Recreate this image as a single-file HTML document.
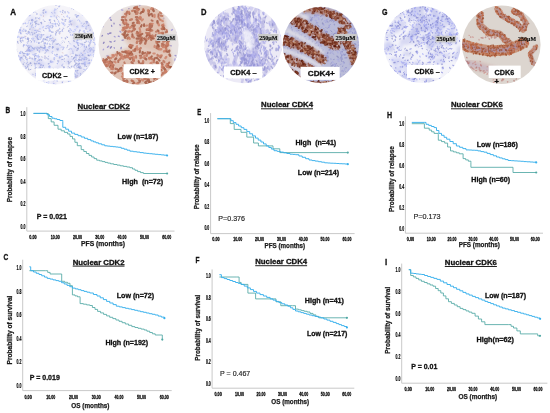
<!DOCTYPE html><html><head><meta charset="utf-8"><style>html,body{margin:0;padding:0;background:#fff;}svg{display:block;will-change:transform;}</style></head><body><svg width="550" height="413" viewBox="0 0 550 413"><defs><filter id="bl1" x="-20%" y="-20%" width="140%" height="140%"><feGaussianBlur stdDeviation="1.5"/></filter><filter id="bl2" x="-5%" y="-5%" width="110%" height="110%"><feGaussianBlur stdDeviation="0.6"/></filter></defs>
<clipPath id="cc1"><circle cx="56" cy="44.6" r="39.7"/></clipPath>
<g clip-path="url(#cc1)">
<g filter="url(#bl2)">
<rect x="13.299999999999997" y="1.8999999999999986" width="85.4" height="85.4" fill="#f5f4f9"/>
<g filter="url(#bl1)">
<path d="M77.4 65.9l1.2 3.6M21.1 59.7l0 2.6M38.5 71.3l-1.5 4.6M33.6 29.4l-1.8 1.6M41.4 46.1l-1.8 3.6M83.6 45.8l2.3 4.1M90.4 29.1l1.8 3.5M41.1 71l-4 .1M70 60.2l-3.3 2.5M84.9 55.7l2 1.9M73.4 24.5l2.9 .3M76.8 75.2l-2.4 .5M34 34.6l.5 4.2" stroke="#c0c2e8" stroke-width="3.5" stroke-linecap="round" stroke-opacity="0.4" fill="none"/>
<path d="M36.9 47.4l4.6 1.5M87.6 64l1.4 1.7M30.9 25.4l2.1 4.3M74.1 21l-2.3 2.5M19 58.4l-.2 4M30 63.7l-4.5 .6M40.4 62.4l.2 2.2M87.6 23.6l1.3 2.4M88 62l-4.5 1M33.6 61.3l2.7 1.3" stroke="#c0c2e8" stroke-width="5" stroke-linecap="round" stroke-opacity="0.4" fill="none"/>
<path d="M34.4 74.5l-3 1.2M75.8 71.7l3.5 3.4M64.2 76.6l-2.5 2.5M31.5 47.5l2.3 3.4M82.4 69.1l-1 4.2M82.8 56.1l2.3 2.3M55.7 10.8l-2.8 2.8M77 48l-4.1 1.8M75.4 48l-1.5 2.5M33.7 20.3l4.4 1.8M88.8 21.3l-.5 3.6M57.3 67.8l-2.4 .4M82.3 73.9l-.3 2.9" stroke="#c5c7ed" stroke-width="3.5" stroke-linecap="round" stroke-opacity="0.4" fill="none"/>
<path d="M82.2 23.5l2 .6M65 75.1l2.5 3M94 48.2l2.2 1.2M76.8 75.2l-1.3 2M30.9 50.3l2.2 1.1M80.7 51.2l-1.3 4.1M51.7 38l2.4 3.1M53.5 45.5l2.7 3.7M17.6 28.4l3 2.5M82.8 55.1l0 2.9" stroke="#c5c7ed" stroke-width="5" stroke-linecap="round" stroke-opacity="0.4" fill="none"/>
<path d="M53.9 60.5l-1.7 2.2M88.6 61.3l-3.9 1.9M89.8 51l3.6 2.7M88.4 48.3l-1.7 2.5M66.4 69.7l.7 4.1M76.7 55.7l-2.7 3.4M28.2 44.6l.4 2.4M38.3 37.1l-2 3.9M93.2 26.9l-4.8 1.3M32.5 43.9l-3.4 2M27.2 50.5l2.7 .4" stroke="#caccf2" stroke-width="3.5" stroke-linecap="round" stroke-opacity="0.4" fill="none"/>
<path d="M59.5 57.7l1.7 2.1M88.1 48.9l.2 2.3M53.3 82.2l1.2 4.2M91.3 52.6l-1.3 1.8M45.9 12.1l-3.6 2.5M21.3 56.6l-2.9 3.1M82.6 57.8l-.9 1.9M59.6 46l-1 3.7M46.4 49.7l3.8 1.6M74.1 39.2l.7 2.1" stroke="#caccf2" stroke-width="5" stroke-linecap="round" stroke-opacity="0.4" fill="none"/>
<path d="M38.2 31l-1.6 3M78.7 17.1l3.4 1.4M88.6 50.8l-4.7 .3M79.2 26.9l4.8 1M82.3 43l-2 2M50.6 67.4l-2.4 2.2M49.4 63.1l-3.1 .5M49.2 58.6l.6 2.3M78.7 75.6l4.7 1.4M70.8 44.2l2 .5M47.8 34.9l-3.1 3.1M44.1 63.9l2.5 3.2M79.4 65.6l1.7 1.1M48.5 24.2l2.6 2.7" stroke="#d0d2f8" stroke-width="3.5" stroke-linecap="round" stroke-opacity="0.4" fill="none"/>
<path d="M41.9 63.7l-.5 3.4M52.6 13.3l2.6 2.1M74 50.3l-3.4 1.9M76.1 29l-3.5 3.1M61.1 63.6l-1.8 2.5M32.4 17.8l-4.4 1.2M41.1 61.3l-.6 4.7M41.6 24.7l-.1 3.3M68.9 58.2l-.8 4.6" stroke="#d0d2f8" stroke-width="5" stroke-linecap="round" stroke-opacity="0.4" fill="none"/>
</g>
<path d="M24.9 55.8l-.9 .2M36.6 32.3l-.6 .3M54.8 79.9l-.9 .8M78.4 48.2l-1.3 .5M40.6 47l.6 .4M36.1 12.7l.9 .9M37.8 18.1l.8 .6M88.4 55.1l.3 .8M16.8 49.7l-.8 .6M80.2 56.9l-.4 .7M63 66.6l1.1 .6M39.6 31.2l.7 .8M21.4 42.4l-.4 .2M37.7 36.8l-.6 .3M24.5 30.9l-.5 .5M50.5 35.6l-.4 1.1M72.1 56.6l-.6 .1M28.7 50.5l-.2 .4M71.1 61.3l-.4 .8M35.9 17.4l-.1 1.4M26.6 67.8l-.9 .5M31.4 58.6l.6 .7M83 54.5l-1 .7M28.2 39.4l.4 .9M52 61.9l-.7 .2M78.9 58.9l-.3 .6M68.6 41.4l.3 .6M93.1 42.1l.2 .4M28.1 49.8l-1.1 .4M20.2 29.7l-.7 .1M17.7 42.9l.7 .2M73.8 45.9l.6 .9M64.6 58.8l-.5 .2M52.6 72.7l-.7 .3M67.7 45.5l-.2 .7M62.5 75.5l.4 .5M30.7 40.6l.7 1M43.4 65.2l.1 .7M79.7 66.4l.7 0M63.5 28.1l.2 .4M90.4 47.8l-1.2 .7M78.6 65l-1.1 .2M44.1 82.6l-0 .4M74.7 37.8l-1.4 .2M68.3 26.3l-.6 .8M36.2 36.3l-.6 0M44.3 21.2l.8 .2M56.9 18.9l.5 .6M30.9 69.4l-1.2 .4M50.6 21.9l-.1 1.1M67.3 37.1l.3 .5M53.9 59l.4 .8M86.4 46.3l.1 1.2M43.4 30.2l.7 .5M91.2 65.5l-1.2 .4M74 58.4l-.4 .2M38 50.1l-.8 .1M85.2 49.7l-.6 .8M19.2 59.7l-.2 .3M49.4 72.6l-.3 .4M85.8 57.8l.9 .1M44.1 42.8l0 1.3M38.6 80.6l-.1 1.2M62.9 59.5l-1.2 .1M96.2 37.3l-1.2 .5M44.6 72.3l1.1 .2M36.8 49l.5 .4M34.4 32.8l.4 1.1M30.4 63l-.7 .9M36.5 78.2l.1 .6M37.2 68.9l-0 .5M72 66.7l-.6 .3M36.2 67.6l-.4 .8M41.7 56.9l.5 .2M28.6 68.7l-.2 1.2M35.7 63.7l.9 .1M47.9 58.3l.2 1.1M75.1 46.8l.4 .7M16.1 51l.8 .2M25.3 66.8l.7 .6M45.8 39.7l-.9 0M42 41.2l-.6 1.1M32.5 24.7l-.6 1M85.6 28.8l1.2 .2M80.8 74.6l-.3 1.2M75.8 59.6l.9 .5M69.7 49l-.9 .4M18.7 55.9l-.4 0M45.1 38.6l.1 1.1M45.8 52.8l-1 .3M42.8 67.1l-1.1 .8M62.2 82.1l.1 .6M64 41.8l.5 .4M87.1 58.9l-.7 .4M53.2 68.2l.4 1M85.6 66.1l1 .4M87.9 33.5l-.9 .4" stroke="#8791d0" stroke-width="1.0" stroke-linecap="round" stroke-opacity="0.62" fill="none"/>
<path d="M84.9 59.4l-.9 .1M56.9 49l1 .8M57.6 60.9l1.1 .3M76.7 63.2l-.2 .5M85.5 42.2l-.8 .3M49 63.6l-.6 .3M69.4 67.8l.8 .9M73.4 8.4l.3 1M76.4 16.4l.4 .9M58.2 43.7l-1.1 .6M47.4 37.7l-.7 0M29 50.9l1.3 .3M60.1 57.7l-.7 .1M31.8 20l-.4 .2M44.1 9.8l-1 .9M41.4 22.4l.1 1.3M79.5 77.3l-.4 .4M21.2 57.4l-.6 .6M81.1 68l-.9 .1M35.7 23.2l.9 .1M75.8 54.5l-.1 1.2M47.4 49.8l.7 .7M26 30.7l-.3 .8M35.3 55.3l-.7 1.2M38.8 42.6l-.2 .7M68 68.4l-.3 .6M77.3 75.9l-.5 .2M49.1 46.4l1.1 .2M78.7 67.5l.5 .3M93.4 32.3l.2 1.3M27.2 39.1l1.1 .5M43.7 38.8l-.6 .4M28.8 47.8l-.6 .3M23.5 53.3l.3 .6M74.6 57.2l-.9 .8M22.4 52.2l0 .7M62.9 74.1l.9 .5M23.6 44.9l.1 .7M78.5 15.6l-1 .1M79.6 30.2l.4 .4M56 31.8l.5 1M28.7 38.4l-.6 .3M68.2 61.5l.6 .6M73.7 40.5l.5 .9M62.8 75.8l.7 .7M37.6 35.1l.1 .7M30.4 62.8l.5 .8M43.1 12.6l.5 .5M34.5 63.3l.5 .8M88.2 25.3l.5 0M44.4 45.3l.7 .9M88 55.2l1.3 .4M36.1 23.9l-.4 .2M59 24.8l-.3 .9M64.2 67l-.7 1M54.3 40.9l-.6 .5M28.5 31.5l-.5 .6M78.1 45l.4 .5M77 50.1l-0 .5M27.3 66l.6 1.1M79.2 59.4l-0 1M77.8 70.5l-.6 .3M65.2 38l.4 .8M45.2 42.8l.3 .5M65.9 19.6l-.8 .3M69.1 62.6l-.3 1.2M80.3 34.6l-1.3 .4M52.5 47l-.1 1M69 30.4l-.5 .8M86 21.6l1.4 .3M23.2 63.8l.1 .7M70.6 21.2l.1 .5M35.9 21.5l-1.2 .6M37.4 38.5l1 .9M39.8 67.1l.7 .3M25.6 56.6l.2 .9M27.5 54.4l-.3 .7M62.9 10.5l0 .6M75.9 63.7l-.6 1M44.5 47.4l-.5 1M17.7 41.5l-.2 .4M74.9 60.3l-.5 .6M92.3 62.9l-1 .9M93.9 32.6l-.9 1M32.5 47.8l.9 .9M57.3 54.5l-.6 0" stroke="#8791d0" stroke-width="1.3" stroke-linecap="round" stroke-opacity="0.62" fill="none"/>
<path d="M71.9 66l-.8 .5M40.5 65.3l.2 .5M63.6 16.7l.5 .3M28.7 47.2l1.2 .4M39 33.9l.1 1.1M80.4 34.5l.9 .2M40.7 22.4l-.4 .4M50.9 60.4l-.5 1.2M75.6 70.4l.3 1.3M55.1 39.4l-.1 .6M31.9 65.2l-.4 .3M23.4 29.2l.6 0M29.3 20.5l-.5 .3M27.6 26l-1.1 .6M58.1 48.2l.2 .8M30.5 23l.1 1.1M60 5.9l-1 .4M44.5 68.1l.4 .2M77.4 67.4l-.6 .6M38.6 56.5l1.1 .3M49.4 40.5l-.8 .6M44.6 56.1l.9 .1M20.7 51.6l-.5 .4M80.2 43.8l1.4 .3M35.5 67.6l-.7 .5M36.1 58.5l-.7 0M32.2 57.9l.6 1M89.7 60.4l-1.1 .1M82.4 54.8l0 .6M22.7 66.5l-.5 .3M84.5 45.9l.1 .6M82.2 43.7l.3 1.3M89.8 42.7l.7 .3M29.7 53.7l-.6 .6M83.8 50.9l.3 .9M52.7 42.2l.7 .1M40.6 46.8l-.5 1.1M55.9 44.1l.8 0M72.3 75.6l-.3 .7M33 39.5l.1 .9M23.4 59.7l.4 .4M80.2 73.3l.6 .2M71 71.6l-.7 .7M59.3 22.9l.5 .8M21.3 37.7l-.8 .9M27.3 62l0 .6M41.9 60.1l-.4 .3M46 49.6l-.3 .4M69.5 18.5l-.3 .4M85.8 70l-1 .7M84.7 72.9l-.4 .6M44.1 57.8l1 .9M52.5 37.7l-.4 .5M55 70.2l.6 .2M67.7 11.7l.1 .4M93.8 50.2l-.7 0M90.4 41.3l-.3 1.1M56.8 4.9l-1.1 .3M57.2 72.9l-.4 1.1M29 47.9l-.5 1.3M39.8 64l1.2 .3M24.4 36.8l-.5 .9M62.3 12.3l.8 .7M73.4 80l.8 1.2M21.1 40.6l-.2 .7M73.1 58.8l-0 .5M27.2 46l.6 .5M84.4 23.2l-.7 1M26.3 63.6l.7 .3M72.4 51l.9 .8M83.3 71.6l-.4 .4M32.7 74.3l.4 .1M34.7 54l-.8 .2M50.3 27.5l-.5 .6M62.6 79.1l1 .6M86.2 40.6l.5 1.2M39.7 68.7l1.3 .3M77.5 43l0 .5M54.8 12.5l.1 .6M36.1 30.2l-1.3 .3M58.2 29.5l.2 .9M48 36.8l-1.3 .3M39.6 63.3l-1.1 .1M42.4 41.1l1.1 .6M39.3 59.4l1.2 .5M62.3 42.6l-.4 .4M82.3 25.4l-.1 .9M79.4 63.1l-.5 0M68.5 66.3l-.5 .2M52.7 43.8l-.4 .3M78.2 66.5l.5 .1M30.4 46l1.3 .4M40.7 59.3l1.1 .8" stroke="#949edd" stroke-width="1.0" stroke-linecap="round" stroke-opacity="0.62" fill="none"/>
<path d="M35 47.3l-.3 1.3M55.5 23.6l0 .7M70.9 23.8l.6 1M48.5 75.5l-.9 .8M29.5 32.7l-1 .5M89.6 62.7l-.4 1M19.9 52.8l.1 .5M79.2 31.6l-.1 .6M77.8 64l.5 .3M78.7 67.4l.9 .1M28.8 41.1l-1 .8M82.7 63.7l-1.2 0M76.2 14.8l-1 .1M66 76.1l-.2 1M80.1 59.7l1 .6M28.2 64.4l.6 .5M89.7 45l-1.1 .1M52.8 46.6l.3 .6M27.8 37.7l-.4 .7M66 73.3l.5 .3M84.2 32.1l.7 .2M79.7 63.6l-.8 .3M32 19.4l.8 .9M20.2 40.2l.4 1.1M45.8 57.9l.6 0M53.1 32.1l-1.3 .2M72.7 72l.3 .5M57.3 68.9l1.3 .2M57.3 80.6l.2 .4M75.4 76.6l.7 .8M52.5 26.9l-.4 .9M30.1 15.4l-1.4 .1M66 55.1l-1.1 .2M52.1 25.4l1 .9M19 29.9l.8 .3M84.1 63.2l-1.2 .7M77.4 42.7l-.8 0M94.3 55.8l-.6 .7M60.5 31.6l-1.1 .5M62.6 29.3l-.2 .9M39.2 51.5l.4 .5M27.7 54l-.5 .5M38.1 60.1l1.3 .4M22.5 40.2l.5 .8M46.9 39.7l.2 .6M77.7 55.4l-1.4 .1M24.3 53.6l.8 .1M41 34.5l-0 .7M21.5 57.6l.6 .5M37.8 24.1l1.1 .4M57.4 63.3l-.1 .4M74.8 61.7l.4 .5M57.4 30.8l.6 .4M84.4 64.2l.7 .6M54.3 20.3l.4 1M78.1 48.2l-.1 1.3M51.6 31.7l.6 .5M40.6 74.4l-1.2 .2M62 19.2l.9 .8M62 65.1l0 .6M68.5 81.4l.1 1.2M26.4 59.2l.7 .3M33.1 33.9l-.6 .8M74.8 65.2l-.8 1M79.6 35.5l-.4 .6M38.3 47.9l1.1 .2M20.9 38.4l-.4 .4M68 56.1l.5 .7M31.8 32.4l.3 .4M95.2 37.8l-.4 .2M34.7 58l.5 .4M44.4 47.7l-.6 .3M29.6 49.8l.3 .7M32.5 19.6l-.5 1.2M20.3 32.1l.5 1.2M72.5 34.6l.2 .7M49.6 65.9l-.5 .4M70.9 81.8l-.1 .5M30.2 29l-.6 .3M55.5 33.6l.2 1.4M86.3 71.5l-.6 .4M50.6 19.9l-1.2 .1M41.7 47.3l1 .6M93 35.7l0 .7M74.9 74.2l-.9 0M74.7 74.4l.4 .1M43.8 34.7l-.9 .3M65 11.6l.1 1.2" stroke="#949edd" stroke-width="1.3" stroke-linecap="round" stroke-opacity="0.62" fill="none"/>
<path d="M23.9 62.2l.5 .2M86.1 27.7l-.5 .3M51.6 40.6l-.5 .3M78.7 64.8l1.1 .4M74.1 45.3l.7 .7M54.9 84.2l1.2 .5M31.7 38.4l.1 .6M81.1 53.2l.8 .4M90.8 50.7l-.8 .6M46.7 82.6l-.5 .2M25.7 51.4l-.7 .5M30.8 32.8l-.6 .6M66.6 36.9l1 .3M28.2 45.3l-.1 .6M75.4 75.3l-.7 .9M36.7 37.5l1.3 .2M69.8 17.6l-.8 .1M39.2 39.2l-1.3 .4M78.1 60.8l.2 .5M65.1 24.9l-.6 1M83.3 44.7l-1.2 .2M22.8 37.1l.8 .2M48.8 56.2l-.6 .3M27.2 42.8l.3 .6M64.3 61l.4 .7M23.1 55l.9 .7M89.1 49.3l-0 .7M37.3 14.3l-.8 .1M58.8 16.6l.3 .4M84.4 57.2l1 .1M52 52.5l.4 1M50.7 35.1l.5 .2M51.4 12.5l.9 .6M57.4 8.6l-.4 .3M62.9 64l-.1 .4M79.7 33.6l.6 1.1M70.5 34.5l.5 1.2M51.7 73.8l-.5 .5M37.1 49.9l.5 .6M21 27.3l-.4 .7M23.1 46.1l.3 .8M70.6 68.4l-.8 1.1M29.8 34.7l1.2 .2M27.5 50l-.6 .9M32.6 19.6l.3 .3M44.7 83.2l-.8 .7M85.2 63.5l-.2 1.4M84.6 65.6l-.1 .7M54.7 15.9l-.7 .1M90.3 50.3l-.2 1.1M47.4 25.5l.3 .4M20.4 37.7l-.5 0M67.2 47.2l-.5 .7M62.7 81.8l-.2 .8M25.1 36.1l.4 .3M31.5 41.8l-.4 .9M57.5 68.6l-.7 .9M20.9 59l-.3 .5M89 59l.1 .6M76.9 72.7l1.2 .5M47 25.5l-.7 .7M73.7 76.5l-.1 1.1M77.3 27l.9 0M76.4 26.6l.7 .2M73.9 67.1l.7 1.2M86 37.2l-.3 .8M20.3 30.2l.3 .6M36.4 20.9l.7 0M46.1 50.7l.7 .5M45 12.3l.8 .4M87.6 52l.4 .6M34.4 49.2l-.2 .6M83.8 38.6l.1 .5M34.6 55l1.1 .3M94.9 50.5l1 0M46.1 26.1l1 .4M39.8 42.5l-.6 1.1M24.6 66.1l.9 .2M26.1 57.7l-.7 .8M33 27.2l.5 .6M35.2 9.9l-.1 1M25.2 23.2l.2 .6" stroke="#a1abea" stroke-width="1.0" stroke-linecap="round" stroke-opacity="0.62" fill="none"/>
<path d="M61.5 37.7l.3 .2M63.8 22.9l0 1.1M89.5 43.7l.5 .1M53.2 40.4l-.5 .3M87 22.2l-.3 1.2M93.5 51.5l-.3 .7M49.5 19.8l.1 .7M61.4 56.1l1.3 .2M62.8 47.2l1.2 .2M26.4 45.1l.4 .3M88.6 45.7l.6 1.1M45.3 28.3l1.1 .2M87.2 68.4l-.5 .9M37.4 61.7l-.4 .1M53.2 47.3l-.3 .4M36 75.1l-.3 .4M59.1 33l.2 .4M56.2 76.8l-1.1 .3M69.8 31.8l.2 .9M38.3 76.9l-.9 1.1M45.9 50.2l.3 1M34.4 58.9l1 .6M35.6 53.6l.6 0M82.4 58.8l-1.1 .7M45.5 47.3l-.5 .7M49.5 44l.7 .6M72.7 7.9l-.8 .6M34.6 40.7l-.2 1.2M93.9 39.1l0 1.4M50.3 38.7l-.6 .2M20.7 33.4l.2 .4M49.4 67.4l-.5 .6M70.4 21.8l-1.1 .4M48.9 66.6l.8 .5M90.3 29.8l-.4 .8M40.3 37l1 .9M41.6 65l.6 .7M36.6 73.4l-1 .4M62.6 76.4l-.6 .5M59.6 28.4l.1 .7M28.1 53.8l.2 .5M41.7 34.5l.2 .5M50.6 26l-1 .7M39 63.1l-1 .6M33.8 11.8l-.1 .5M66.9 54.8l-.2 .7M37.4 30.7l1 .6M57.3 23.7l.1 .4M48.9 27.8l-1.1 0M92 48.8l-.1 1.3M68.3 72.9l-.6 .1M49.8 30.1l.5 .2M44.7 79.9l-1.3 .3M28.9 49.4l.7 1.1M50.6 61.6l-.2 .7M30 58.3l-.7 .1M59.2 6.1l-.2 .7M49 30.9l1.2 .5M17.9 31.3l1.1 .5M69.2 75.2l.3 .6M37.1 47.1l-.2 1.2M91.5 48.2l-.8 1.1M84.3 30.7l-1.1 .6M47.5 43.3l-.4 .9M72.5 53l.8 .5M44.6 47.7l0 1.2M45.8 11.3l.2 1.1M38.8 68.7l.6 .5M95.4 44.4l-.5 .3M53.7 83.3l-.1 .5M56.2 17l.4 .8M61.9 31l.7 .3M77.8 39.2l-.2 1.4M69.1 24.6l.4 .3M46.7 73.4l-1 .1M64.8 21.1l.6 .2M63.5 48.6l-.8 .9M24 23.5l-.9 .4M29 45.9l.9 .6M73.7 72.4l.7 .9M90.2 40.2l1.1 .5M70.9 81.5l.2 .7M51.9 23.7l1.3 .2M26.2 33.5l1.3 .5M41.4 36l.5 .8" stroke="#a1abea" stroke-width="1.3" stroke-linecap="round" stroke-opacity="0.62" fill="none"/>
<path d="M58.4 62.6l-.7 .8M69.8 73.4l.5 .1M40.4 49.8l-1.1 .8M81.9 57.8l.2 .4M79.7 39.4l-.6 .9M70 70.5l-1.3 .5M27.7 49.7l-.1 .5M32.5 21.8l-.2 1.3M34.7 30.3l1.2 .1M23 55.9l-.1 .5M78.3 19.5l-.6 1.1M49.3 36.9l-.4 .5M81.4 53.1l-.6 0M90.7 39.7l.6 .8M43.1 19.8l.5 .1M76.7 47.1l-.8 .2M91.7 37.8l.8 .6M36.6 31.3l-.8 .6M77.8 26l-1.1 .5M55.5 39.2l.3 1.2M71.3 73l-0 .6M76.6 65.5l-.1 1.2M74.2 31.7l-1.2 0M75.9 28.8l-.7 .8M61.6 46.7l-.6 1M81.7 23.1l-.7 0M25.6 22.7l.3 1M18.4 56.4l1.1 .5M40.2 14.9l1.2 .4M60.4 56.8l.9 1M36.2 25.7l-.7 .6M47 82.6l-.7 .6M76.6 70.8l-.7 .3M80.2 55l-.7 .9M84.3 62.7l1.4 0M29.3 31.3l.2 .8M83.9 58.2l-.4 .1M49.7 30.3l.8 .6M28.4 22.6l-.5 1M93.6 54.4l-.4 .8M67.5 15.5l-.9 .7M88.9 38.2l-.5 .2M39.4 36.6l-0 .5M19.6 53.4l.9 .1M75.8 56.6l-0 1M74.5 29.7l.8 .6M79.4 60.5l-.6 1.1M79.3 54.5l-.1 1.2M80.5 29.9l.1 .5M37.1 35.6l.1 .6M90.7 38.5l.3 .3M21.9 38.2l-.5 0M81.1 46.8l-.4 .4M84.2 46.3l-0 .5M77.7 60.1l-.6 .8M74.3 73.6l-.4 1.1M26.3 67.8l.3 .7M69.8 43.3l.6 .7M19.3 36.8l-1.1 .2M91.2 42l-.5 1M28.8 15.2l.6 .5M36.4 55.7l1.3 .4M32.8 50.2l-.9 .5M18.9 32.3l-.8 .4M84 26.4l-1 .2M58.3 49.6l-.6 .5M83.4 55.1l-.2 .5M41.4 76l-.5 1.3M50.6 66.4l-1.3 .5M48.5 81.8l.6 .2M26.2 51.5l1.3 .2M38.8 67.8l.7 0M71.7 20.7l.6 0M54.5 57.7l-.8 .1M92.4 36.3l.4 .4M62.6 40.7l-.4 .4M36.4 42.2l.6 .1M84.3 44.3l.3 .4M76.7 41.6l-.7 .2M85 61.6l-.4 .9M71.9 59.3l.6 .5M21.4 51.1l.4 .5M49.2 22.7l.3 .3M31.2 22.9l-.6 1.2M78.3 37.5l-.7 .9" stroke="#afb9f8" stroke-width="1.0" stroke-linecap="round" stroke-opacity="0.62" fill="none"/>
<path d="M70.7 48.4l1 .7M64 68.2l.1 .5M42.8 49.9l.3 .4M54.7 58l-.1 .5M28.9 49.6l.2 1.2M59.6 56.3l-.1 .8M69.7 28.5l.8 .3M39.5 28.8l.7 .1M54.9 9l.9 .8M35.3 65.1l-.1 1.3M77.1 40.2l-.3 .4M35.5 26.1l-.1 .4M68.8 12.5l.1 .6M77.9 15.6l-.6 .8M39.6 17.9l-.2 .6M53 61.8l-1.2 .2M26.4 53.6l1.2 .6M45.1 47.8l-.1 .4M44.7 43.7l.9 .2M84.5 58.3l.1 .7M38.2 57.2l.6 .8M81.1 39.3l.1 .8M70.3 81.2l-.8 .2M48.3 47.6l1.3 .5M88.6 63.1l-.6 .3M85.3 53.4l-.4 .2M54.5 10l-.1 .8M39 74.8l-.9 .3M40.5 72.6l-.2 .4M38.7 71l-.9 .4M86.6 26.4l-.5 .4M50.6 68.1l-1 .2M20 59.1l.4 1.3M25.8 30l-.6 .2M82.3 14.9l1 .5M84.8 47.5l.4 .7M38.6 55.1l-.3 .4M93.1 47.4l.5 .5M63.8 24.1l-.4 .4M30.1 57.5l-.4 .4M54.6 54.5l.8 1M95.4 38.6l.4 1M41.4 74.9l-.8 .8M40.5 39.1l-.4 .2M67.2 16.6l.5 .2M77.5 43.5l.1 .8M61.8 22.5l.8 1.1M36.8 56l.2 .9M59.4 44.7l.9 .7M55.8 80l.9 .7M19.4 27.4l.5 .1M90.2 54.6l.7 .6M34.4 59.7l.6 1M25.5 38.3l-.1 .4M44.3 69.7l-.2 1.2M58.5 21l.1 .9M48.9 28.6l.5 1.1M51.5 38.6l-1.3 .1M48.5 25.3l.3 .9M60 76.2l-.9 1M52.3 51.3l.5 .1M24.1 44.6l.6 .5M43.6 26.7l-.8 .8M55.5 25.9l.7 .4M19.9 52.5l.9 .6M83.7 69.3l1.1 .4M50.5 16.5l1.2 .1M23.4 37.6l-1.3 .5M47.7 36.9l.5 .4M70.1 20.2l-.7 1.1M91.4 59.9l.2 .8M40.5 72.4l.3 .5M70.7 29.7l.7 .8M88.2 41.1l.4 .8M32.8 54.5l.6 .5M75.8 57.9l.7 .2M31.5 26.6l-.1 .5M44.6 5.3l.2 .5M39.3 73l.2 .3M18 36.1l-.5 1.3M19.6 29.8l.7 .3M39 76.4l-.8 .5M26.8 59.8l.4 .4M55.6 23.3l-1.1 .7M87.4 31.7l.6 0M94.3 42.5l.4 .9M31.8 47.8l.4 .4M43.4 40.2l-.5 .2M91.6 35.9l.5 .4M47.7 83.1l.8 .5M91.3 64.5l-.8 .5M22.9 30.4l-.5 .6M78.6 42.6l.2 .7M28 55.2l-.7 .2M32.7 38.1l1 .4M70.3 6.2l-.4 .5M31.3 49.9l-.1 .7M79.5 20.4l.4 1.2M88.6 35.3l-.7 0M39.2 18l.5 .3M60.2 11.5l.6 .3M43.8 82.3l.9 .6M37 34.6l.7 .3M56.1 55.9l1 .5" stroke="#afb9f8" stroke-width="1.3" stroke-linecap="round" stroke-opacity="0.62" fill="none"/>
<path d="M70.8 53.8l-.3 .4M27.4 58.1l.2 .3M29.5 56.6l.5 .4M60.2 33.8l-.7 .4M39.9 19.6l-.3 .1M62 14.3l-.6 .1M91.2 37.7l.5 .4M79.7 55.8l-.3 .1" stroke="#c3a0aa" stroke-width="1.0" stroke-linecap="round" stroke-opacity="0.45" fill="none"/>
<path d="M80.4 12.2l-.3 .7M38.1 29.6l-.1 .4M56.5 30.5l-.3 .2M54.6 69.8l.3 .3M23.9 55.4l-.3 .3M43.5 15.7l0 .9M26.8 50.2l.1 .8M62.2 52.7l.9 .3M21.2 36.9l.8 .4" stroke="#c9a6b0" stroke-width="1.0" stroke-linecap="round" stroke-opacity="0.45" fill="none"/>
<path d="M89.9 44l-.3 .3M44.8 56.9l-0 .4M53.6 38.6l-.6 .2M90.9 24.5l-.2 .3M66.8 72.6l.7 .1M57.6 15.7l-.8 .3M59 75.9l0 1M26.1 36.6l-.7 .4" stroke="#d0adb7" stroke-width="1.0" stroke-linecap="round" stroke-opacity="0.45" fill="none"/>
<path d="M78.1 77.2l-.9 .1M83.3 52.3l-.4 .3M42.5 6.5l.2 .3M41.6 72.2l.9 .3M71.8 24.1l.4 .1" stroke="#d7b4be" stroke-width="1.0" stroke-linecap="round" stroke-opacity="0.45" fill="none"/>
</g>
</g>
<clipPath id="cc2"><circle cx="138.6" cy="44.8" r="40"/></clipPath>
<g clip-path="url(#cc2)">
<g filter="url(#bl2)">
<rect x="95.6" y="1.7999999999999972" width="86" height="86" fill="#e9e3e3"/>
<path d="M177.4 31.4l-.7 .5M124.2 29.5l-.3 1.2M102.5 35.5l-.6 .6M114 23.1l.1 .7M135.5 30.6l-1 .6M156.3 7.8l-.8 .1M129.2 8.6l-.6 .2M137.2 27.1l-.2 1.1M145.2 39.3l1.2 .3M164.1 31.1l-.9 .7M143.8 51.6l1.2 .5M122.4 19.4l-.3 .9M137.5 32.7l.6 .2" stroke="#7b71b5" stroke-width="1.2" stroke-linecap="round" stroke-opacity="0.8" fill="none"/>
<path d="M110.8 19.8l.4 .5M112 56.6l.4 1.2M119.9 24.7l.6 .6M153 79.6l1.2 .6M154 7.7l.4 1.4M131 74.2l-1.3 .6M110.9 32.9l-1.2 .3M120.1 54.6l-.4 .7M120.6 77.6l.3 .7M135.8 54.9l-1.6 .2M139.1 51.5l.7 .2M111.4 46.8l-1 1.2M138.1 78.2l.3 1.3M104 42.4l-.5 .7" stroke="#7b71b5" stroke-width="1.5" stroke-linecap="round" stroke-opacity="0.8" fill="none"/>
<path d="M138.6 55.5l-.6 1M156.7 35.4l1.2 .8M147.8 15.6l-.6 1.4M158.3 70.9l-.3 .5M111.5 25.4l.3 1.1M115 40.9l-.8 .5M117.7 60.6l.2 1.6M103.1 26.7l-1 .2M160.3 16.5l.4 1.1M149.9 16.6l-.5 1M158.6 44.5l.6 1.3M151.6 11.3l.4 1.3M163.4 64.3l-.4 .5" stroke="#857bbf" stroke-width="1.2" stroke-linecap="round" stroke-opacity="0.8" fill="none"/>
<path d="M129.9 23.5l-.4 1.4M125.4 61.1l-1.1 .3M157.9 13.9l1.1 .8M123.6 40.1l-1.4 .1M110 41.6l1.1 .4M123.9 67l-.2 1.1M139.5 82.5l-.8 .8M153.8 77.1l.1 1.2M163.7 18.2l-.5 1M141.3 22.1l-.8 1.1M137.1 73.8l.5 .4M159.5 71.3l-0 1.2M136.8 22.1l.5 .6M151.9 25.8l.9 .1M130.3 33.5l.1 .8M140 12.4l.8 .3M121.2 47.5l-.2 1.2M153.4 25.2l.3 1.6M108.2 55.9l-1.2 .1M158.2 66.3l-.5 .5" stroke="#857bbf" stroke-width="1.5" stroke-linecap="round" stroke-opacity="0.8" fill="none"/>
<path d="M148.2 71.4l1.1 .6M155.9 46.8l-.4 .7M114.1 47.7l.4 .5M170 45.7l1.4 .1M144.6 68.1l.3 .6M175 55.4l1 .5M121.6 68.1l-.3 .8M175.1 39.7l-.3 .6M162.4 72.7l1.2 .3M140.2 5l-.8 .8M131.4 48.9l-.4 1.2M151 70.2l-1.2 .8M112.5 56.3l.2 1.4" stroke="#8f85c9" stroke-width="1.2" stroke-linecap="round" stroke-opacity="0.8" fill="none"/>
<path d="M172.5 66.5l-.1 1.1M107.8 33.8l.6 .2M164.7 64.5l.2 1M177 57.2l-.1 .8M118.4 36.2l.7 .2M115.7 61.3l-1 .8M135.2 80.3l-.2 .6M157.9 42l-.7 .3M143 79.6l.8 .4M140.9 42.5l-.3 1.1M108.6 46.3l-1.1 1M130 25.1l.7 .3M134 25.8l.2 1.1" stroke="#8f85c9" stroke-width="1.5" stroke-linecap="round" stroke-opacity="0.8" fill="none"/>
<path d="M144.2 18.4l-.1 1M154.7 56.6l.6 .1M133.8 47l.1 1.3M103.7 49.1l-.6 .7M139.5 32.5l1.5 0M136.5 32.2l.1 .8M139.5 81.1l-.7 .6M114.3 36.4l.9 .5M150 41.6l.6 1.1M131.3 77l-.6 .9M121.5 9.9l1.3 .2M144 79.6l.7 .6M115.1 57.7l-1.2 .4M131.3 39.5l-1 1.1M117.7 65.4l1.3 .4M122.1 80.8l-.4 1.3" stroke="#998fd3" stroke-width="1.2" stroke-linecap="round" stroke-opacity="0.8" fill="none"/>
<path d="M120 31.4l.8 .6M128.6 58.4l1.2 .2M165.1 63l1.2 .2M172.4 29.6l-.9 .5M159.4 43l-.6 .1M175 59.1l-0 1.4M151.9 82.4l.9 .3M161.6 45.3l-.2 1.3M132.3 49l-.6 .3M165.1 48.3l-.4 1.4M121.6 63.7l.6 1.3M164.9 25.7l-.7 .8M154.7 36.1l-.7 .6M110.4 17.7l-1.4 .1M138.3 44.6l.7 0M138.2 20.1l.4 1.2M126.8 13.3l0 .7M171.3 36.9l-.1 .6" stroke="#998fd3" stroke-width="1.5" stroke-linecap="round" stroke-opacity="0.8" fill="none"/>
<g filter="url(#bl1)">
<path d="M124 11L135 7L150 5L160 9L165 20L168 35L170 50L173 62L171 75L160 85L120 87L103 77L99 63L108 56L120 51L130 47L124 39L121 25Z" fill="#dfc2b4" fill-opacity="1"/>
</g>
<g filter="url(#bl1)">
<path d="M124 41L138 47L152 52L165 56" fill="none" stroke="#e8d8d4" stroke-width="2.5" stroke-linecap="round" stroke-linejoin="round" stroke-opacity="0.6" />
</g>
<path d="M137.1 75.8l-.2 1.2M141.8 12.1l-1.4 1.3M137.8 75.8l1.8 .5M138.6 61.1l.5 1.5M129.9 47l1.3 .9M162.9 33.6l-.1 1.7M153.8 38.4l-1.1 .2M140 50.8l-.3 1.7M110 62.7l-1.2 1M154.6 58.2l-.6 1.8M159.1 67.4l-.1 1.8M129.4 58l.8 1.1M151.8 56.4l-.6 .8M137.1 31.9l1 1.3M167.7 64l.4 1.6M149.6 82.2l1.6 0M144.1 24.3l-.1 1.8M133.8 22.7l-1.1 .4M139.2 80.6l1 .3M137.2 7.6l.3 1.6M152.4 65.1l.3 1.8M147.1 35.1l-.7 1.6M169.5 66.6l1.3 1M138.8 9.3l-2 0M118.4 70l.3 1.2M129.3 12.7l.2 1.2M148.5 13.7l.6 1.9M134 8.3l1.4 0M156.2 81.2l1.7 .1M157.6 44.1l1 1.3M113.6 76.6l.5 1.3M130.3 52.9l-.8 1.3M151.7 13.9l-1.4 .6M158.6 59.6l1 1M147.8 67.2l-1.4 1.2M142.4 33.9l-1.7 .6M141.7 25.1l-.8 1.6M157.3 62.2l.4 1.4M143 67.6l-.3 1.8M156.1 57.8l1.5 .5M142.4 11.8l-1.3 .6M133.9 65.3l.2 1M152.5 15.2l-.1 1M157.7 30.4l.9 .7M117.3 52l.5 1.6M132.3 34.2l.3 1.7M150.2 52.5l-1.9 .3" stroke="#a0543c" stroke-width="2.0" stroke-linecap="round" stroke-opacity="0.82" fill="none"/>
<path d="M162.8 67.3l1 .3M164.4 68.7l.8 1.1M152.9 9.3l.8 1.7M125.3 51.6l1.5 .6M112.1 62.5l-.7 1.1M135.4 49l-.6 1.6M165.9 51.1l1.6 .6M125.7 31.3l-1.2 1.6M110.7 65.4l-.5 1.4M148.8 10.7l.1 1.2M146.8 29.8l1.1 0M162.7 25.7l.3 1M150.4 36l.9 .5M134 82.8l-1.3 1.5M116.1 58.4l-.8 .9M106.8 59.3l-1.5 1M135 11.2l.4 1.1M150.6 29.8l-1.3 .2M151 37.4l1.3 .1M134.8 67.2l-1.5 .8M142.7 52.1l-.2 1.6M132.3 25.6l1.9 .3M160 70l-2 .2M169.3 50.7l-.4 1M156.6 62.6l.7 1.1M138.7 38.5l-2 .1M131.2 53.1l1 1.3M137.7 35.5l1.8 .6M121.4 68.1l-1.4 .8M158.5 40.3l.6 1.3M146.3 84l1.6 .3M143.6 10.3l-.4 1.3M131.1 51.9l-1.1 1.1M142.3 65.1l-.5 1.5M157.8 45.6l1 1.1M157.4 21.2l.2 1.6M171.9 67.2l-1.7 .1M130.2 45.1l.8 .6M147.6 79.6l1.1 .2M130.9 71.9l-.8 1M141.7 75.3l.9 .8M145.5 39.9l.8 .6M111.1 62l-1 1M153.9 81.7l.3 1.9M132.9 59.8l.9 .7M127.7 34.7l-1.4 1.2M163.7 27.7l.6 1.4M110.1 61.3l1 1.2M144.8 58.2l1.4 1.1M158.4 40.8l-1 .8M149 80.9l0 1.4M169.5 54.6l.6 1.1M127.5 55.4l.1 1.6M146.5 81.5l-1.2 .9M115.6 72.6l-.9 .9M139.6 72l-.6 1M144.2 38.4l1.2 .8M130.6 68l-1 1.1M124.8 33.7l-1 1.2M124.7 36.6l.5 1.1" stroke="#a0543c" stroke-width="2.4" stroke-linecap="round" stroke-opacity="0.82" fill="none"/>
<path d="M158.6 14.3l-.1 1.4M134.9 76.1l1.3 1M123.3 20.9l-.1 1.8M126.2 68.8l-1.1 .2M128.6 55.3l-1.8 .5M145.3 52.9l-1.5 .5M126.7 80.2l.9 1.2M131.7 47l-1.3 .5M131.3 45.4l1.4 .2M125.5 19.6l.9 .7M166.9 31.8l-1.3 .4M148.3 52.8l1.1 .5M145.9 71l-1 .6M131.5 80.5l1.5 .8M157.2 79.5l.9 1.6M156 34.9l-.7 1M143.4 75.2l-1.2 .2M141.8 38.8l-1.5 .6M132.5 30.8l-.6 .8M122.1 51.7l1.4 .3M151.6 20.3l1 .5M158.1 38.8l.8 .9M118.2 60.6l.1 1.5M118.7 71.1l-1.3 .6M138.5 9.1l-.2 1.2M150.4 35.7l-.7 .8M137.3 66.1l.8 .9M128.3 24.6l-1.4 .9M139.7 82.2l-1.6 .4M167.5 41.1l1.4 .3M148.5 65.8l-1.6 0M156.6 76.3l-1.3 .7M167.2 46l-1.4 .2M123.4 23l1.3 1.3M135.6 7.1l-1.1 .3M122.3 34.2l1.7 .7M141.2 55.8l-1.4 0M149 37.3l-.3 1.4M131.2 57.6l1.2 .4M129.4 53.6l-.9 1.7M144.6 66.3l.5 .9M137.7 21.7l-.5 1.3M140.8 74.2l.3 1M169.3 62.5l-1 1.2M154.3 6l-1.2 1.4M126.3 23.5l1.1 1.3M140.9 40.6l-1.6 .5" stroke="#ae624a" stroke-width="2.0" stroke-linecap="round" stroke-opacity="0.82" fill="none"/>
<path d="M121.9 19.8l1.4 .3M149.4 28.3l-.4 1.2M126.4 27.8l-1.9 0M156.7 46.8l-0 1.3M119.3 53.3l.8 1.6M123.5 80.8l1.4 .1M161.1 56.2l-.7 1.1M161.9 63.2l.6 1.5M152 25.3l-.4 1.4M130.3 46l-1.1 .3M141.2 42.3l-1 1.1M127.6 52.9l1.2 .2M167.3 42.7l.2 1.4M106.6 65.3l1.1 .4M123.8 16.9l-1.6 .2M165.3 70.7l.2 1.7M151.5 38.5l-.3 1.2M150.3 57.9l-1.1 .2M149.7 24.7l-.1 1.6M105.3 62.5l-1.3 .1M154.9 73.7l-1.6 .1M128.7 37.6l-1.1 .8M142.7 63.6l-2 .2M115.5 68.8l1.5 .4M136.6 19.6l1.2 .6M149.3 34.8l-1.4 .1M139.6 68.6l-1.6 .4M150.5 27.1l-.3 1.1M137.5 72.8l1.1 .4M141.7 64.5l.5 1.4M164.2 28.7l-1.9 .4M133.5 27.8l1.4 1.3M139.8 34.6l.8 .8M131.6 62.3l1.1 .8M161.5 70.1l-1.2 .1M108.2 57.2l.9 .7M144.3 71.6l-1.4 .4M158.8 41l-1.3 .8M127.4 11.7l-.9 1.7M141.3 40.2l1.2 .2M140.6 37.6l1.2 .1M155.3 78.3l-.9 .5M112.7 66l.2 1.1M112.5 72.6l-1.5 .3M162.2 43.9l1.6 .8M125.4 52.1l1.4 .6M145.6 42.2l-.4 1.4M136 17.1l1.3 .2" stroke="#ae624a" stroke-width="2.4" stroke-linecap="round" stroke-opacity="0.82" fill="none"/>
<path d="M136 56l.2 1.7M139.9 18.4l.9 .9M155.7 8l1.5 .8M147.5 52l.9 1.5M133.4 10.5l-1.4 .5M146.1 71.2l-.2 1.6M123.8 56.7l1.2 1.2M157.2 31.4l-1.2 .4M103.3 58.9l.4 1.8M152.4 5.6l-.3 1.5M159.4 18.9l.8 .8M136.7 11.4l1.1 1.5M136.1 65.6l-.5 1.4M135.9 14.1l1.2 0M162.7 74.1l-1.5 1.1M156.1 41.5l.5 1.6M132 80.7l1.4 .6M126.5 82.3l.9 .8M160.6 15.7l1.9 .2M162.7 27.7l-1.2 1.1M124.3 62.4l.5 1.2M157.8 62.4l-.6 1.5M166.6 30l.5 1.8M133.5 29.1l.5 1.3M124.9 14l1.6 1M108 61.5l-1.8 .6M143.2 9l.3 1.5M133.4 24.3l1.7 .8M139.4 74.8l.8 1M158.3 16.8l.5 1.1M165.9 48.6l.8 .6M165.5 47.1l.3 1.1M146.1 32.7l1.1 1.2" stroke="#bd7159" stroke-width="2.0" stroke-linecap="round" stroke-opacity="0.82" fill="none"/>
<path d="M166.9 66.5l1.7 .7M140.7 48.1l-1.3 1.2M138.5 32.9l-1.8 .5M160.1 12.5l1 .8M131.8 19.3l-1.6 .5M157.5 68l-1 .4M157.1 47.4l1.1 1.5M157.5 54.9l.4 .9M163.5 61.1l.8 .9M133 68.9l.5 1.1M163 33l-1 0M162.5 25.2l1 .5M141.7 57.5l-1.2 .5M127.9 26.8l-1 .8M150.8 58.3l1.4 .8M149.2 65.9l1 1.3M120.8 58.3l-1.3 1.4M126.7 82.4l-.6 1.2M102.5 64.2l1.2 .1M143.1 70.4l1.7 .2M122.6 73.6l1.5 1.1M150.1 23.9l1.1 0M126.7 51.5l1 .6M152.5 35.5l-1.1 .6M113.5 65.1l-1.2 .7M143.1 61.2l-0 1.6M123.1 27.9l1 1.4M124.8 77.6l-1.5 1.2M132.1 36.6l1.8 .9M124.7 55.9l1.6 1.1M152 35.9l1.2 .7M137 6.9l-.7 1.2M161.9 45.8l1 .6M140.7 17.7l-1.5 .4M138.8 21.7l-1.3 .5M149.4 33.2l-1.8 .1M104.5 60.7l-1.8 .7M153.7 60.6l.1 1.5M152.2 30.4l-1.7 .5M167.9 44.1l.3 1.2M165.1 40.9l-1.8 .6M126.8 74.7l.7 .9M138.1 22.4l1.2 .7M104.7 65l1.6 .9M131.2 74.9l1.3 1M131.5 54.5l-.9 .6M133.3 50.5l1.9 .1M137.2 41.5l-.4 1.3M111.7 68.9l1.2 .1M165.8 45.6l.5 1.4M160.8 69.8l-1.6 .1M146.7 54.3l-0 1.4M145.7 78.8l-1.5 .3M162.8 72.9l1.1 .1" stroke="#bd7159" stroke-width="2.4" stroke-linecap="round" stroke-opacity="0.82" fill="none"/>
<path d="M108.1 61.6l-1.3 .8M127.3 25.8l1 .6M154.7 45.7l-.3 1.3M141.7 79.6l1.4 1.1M141.6 72l1.3 1.4M147.1 25.6l-1.1 .2M136.7 76.4l.2 1.6M163.5 24.3l-1.2 .9M165.9 65.6l1.1 1.3M125.9 16.5l-.8 1.3M152.1 69.3l-1.4 1.4M112.2 55l1.7 0M161.4 20.4l1.5 .8M122 55.8l-1 .4M136.8 9.7l1.3 .3M128.4 57.2l1.1 .4M120.4 53.9l1.6 .9M148.4 70l-1.3 1.4M146.2 38.5l1.7 .3M156.5 80.8l-1.1 1.2M129.9 45.3l1.1 .4M137.1 46l-.8 1.3M165.1 70.8l1.5 1M114.2 61.5l1.4 .9M134.2 76.2l1.6 .5M166.6 63.8l1.2 .5M164.8 47l-1.8 .2M129.8 31l-1.5 1M160.3 32.9l-1.7 .1M139.5 28.1l.5 1.6M152.8 23.7l-1 .2M137.1 48.6l.7 1.1M153.3 53.4l1.5 .1M143 19.3l-1.2 1.3M137.6 47.7l-.8 1M107.6 64l-0 1.7M121.8 76.4l.8 .8" stroke="#cc8068" stroke-width="2.0" stroke-linecap="round" stroke-opacity="0.82" fill="none"/>
<path d="M116 54.6l.7 .9M159.4 49.2l1.9 .1M123.3 74.4l.3 1.3M161.7 55.4l-1.9 .5M123.1 73.5l1.5 .9M111 58.1l-1 .3M113.8 56.1l-1 .6M140.2 17l-.5 1.4M154.5 15l-0 1.8M133.4 56.7l.9 1.1M125.1 27.6l.7 .8M151.9 74.6l-.8 .9M136.3 83.6l1.4 0M148.5 28.8l-1.1 .7M156.7 65.2l-.9 1.2M148.7 76.5l-1 .2M127.7 55l-.3 1.8M111.1 67.1l.3 1.8M132.6 69.2l-1.6 .2M131.5 74.2l-1.3 1.4M123.6 29.8l-1.1 .4M149 58l.5 1M160.6 66.8l-1.1 .4M141.8 67.7l-1.2 1.5M128.9 11.9l-.4 1.2M128.7 38.1l1 .7M111.1 64l1 .4M166.2 71.4l-1.4 .4M126.2 22.5l-1.5 .2M151.7 62.7l-1.2 .6M129.9 68.4l-1.1 1.1M128.4 51.3l1.6 .3M155.1 70.3l-1.6 1M110.5 62.8l-1.6 0M126.7 72.8l-.9 1.2M138.3 78.8l1 .4M121.7 69.7l-.7 1.2M122.1 57.1l.9 1.7M140.2 31.4l-0 1.3M144.5 55.6l-.3 1.9M152 8.5l-.9 .5M158.4 24.1l.6 1.2M165.2 50.7l-1.2 .7M166.2 57l-.8 1.1M124.5 65.2l-1.1 .4M129.9 31.4l-1.8 0M139.2 74l.8 .9M159.1 70.4l1.1 .4M131 27l-1.1 .9M133.3 59.5l.4 1.3M148 10.4l.6 1.7M162.1 66.2l.2 1.5M128.5 71.5l-.3 1.8M168 43.2l-1.4 1.1" stroke="#cc8068" stroke-width="2.4" stroke-linecap="round" stroke-opacity="0.82" fill="none"/>
</g>
</g>
<clipPath id="cc3"><circle cx="243.1" cy="44.4" r="38.8"/></clipPath>
<g clip-path="url(#cc3)">
<g filter="url(#bl2)">
<rect x="201.3" y="2.6000000000000014" width="83.6" height="83.6" fill="#eceaf6"/>
<path d="M232.5 26.4l-.1 3.6M237.9 16.9l.6 3.1M242.4 38.3l.4 6.1M214 40.8l1.7 6.9M241.7 4.2l-1.9 5M240.4 53.3l.2 5M256.4 38.9l-1.7 5.5M244.8 55l-1 4.5M222.4 40.3l2.1 5.2M223.3 27.5l-.1 4.5M222.6 18.8l-2.6 5.7M259.8 29l.2 6.4M238.1 36.5l.4 4.6M230.3 35.7l.6 4.6M243.5 67.7l-.6 3.6M267.6 51.4l.3 3.2M250.9 56.3l1 4.7M247.7 32.5l1.6 7.1M233.1 7.2l.2 4.5M240.7 53.3l1.7 6.5M256.6 64.6l-1.4 3.5M267.5 30.1l1.4 3.1M264.9 66.9l1.8 4.8M259.3 65.9l-2.9 7.4M218.9 16.8l.6 6.3M218.4 41.6l.1 3.7M249.4 12.5l-2.4 5.2" stroke="#a2a0d8" stroke-width="2.5" stroke-linecap="round" stroke-opacity="0.45" fill="none"/>
<path d="M266.3 55.7l-1.5 4.9M218.7 20l-.8 3.1M253.2 33.7l2.7 6.6M261.9 62.7l-1.4 7.5M218.1 39.9l.9 5.9M222.3 43.3l.3 5.7M256.8 41.7l1.4 3.5M261.7 22.4l1.5 3.9M245 9.9l.9 3M236.3 57l-2.3 6.3M253 47.9l-1.3 2.8M256.4 42.6l.7 3M257.8 68.2l-.1 3.5M220.5 27.8l-.3 5.6M274 24l1.8 5M223.5 17.7l1.7 6.5M245.2 14.5l.6 3.9M275.4 63.9l-0 6.5M249 25.5l.3 5.3M237.5 36.5l-2.7 5.7M213.9 63.2l1.7 4.4M258.4 63.4l.3 4.1M255.6 42l.9 6.7M234.6 35.5l-2.1 5.2" stroke="#a2a0d8" stroke-width="3.5" stroke-linecap="round" stroke-opacity="0.45" fill="none"/>
<path d="M258 66.8l-.5 4M243.7 75.4l-1.6 6.7M251 67.5l1.5 3.9M253.5 62.4l1.3 4.4M213.5 35.6l1.6 3.7M236.2 37.4l-.4 3.8M242.6 73l-1.1 5.4M221.1 43.9l.4 5.3M260.9 31.8l-2.8 6.4M257.7 26.8l-.9 6.7M221.2 52.4l-.6 6.4M225.2 13.4l-.2 3.2M213.2 27.1l2.6 7.1M256.9 51.9l-.9 3.6M224.6 41.2l1.7 7.7M261.4 35l-.8 3.2M254.3 68.2l-.8 6.7M210.2 39.1l-.5 5.3M252.4 26.8l2.9 7.5M249.7 54.7l-.4 3.9M238.8 12.9l-1.7 4.9M252.8 49.7l1.3 4.2M226.9 35.5l.7 3.4M242.6 49.7l-.3 5.1M251.6 39.5l1 4.3" stroke="#a8a6de" stroke-width="2.5" stroke-linecap="round" stroke-opacity="0.45" fill="none"/>
<path d="M257.7 55l2.4 6.1M242.2 20.1l.3 6.1M223.8 28.1l-2 4.8M243.9 55.4l.1 7.8M263.9 18.6l-.6 4.4M219.9 24.5l-.6 5.4M211.4 59.9l-1.2 4.2M236.3 14.9l.6 4.5M235.7 28.5l1.3 7.3M240.5 14.3l-.7 6.2M250.7 43.2l.8 3.3M247.9 65l.3 5.1M214.3 50.5l2.1 6.5M262 31.4l1.2 4.5M270.2 22.5l1.5 4.4M266.1 68.7l-1.8 7.6M256.7 8l-2.7 5.7M207.5 55.7l1.8 5.2" stroke="#a8a6de" stroke-width="3.5" stroke-linecap="round" stroke-opacity="0.45" fill="none"/>
<path d="M227.3 19l.2 5.3M259.5 8.2l-.8 5.7M222.7 31.6l-.6 3.5M245.1 58.5l.4 5.1M272.4 20.5l1.4 3.6M255.6 51.5l-1.4 3.2M239 29.4l-1.6 7.8M246.5 18.3l1.4 7.3M228.5 59l-.7 6.2M246.2 34.3l1.8 6.1M261.8 42.3l-1.3 5.6M207.8 49.2l-2 6.9M239.4 18.9l-1.8 7.7M259.1 17l.7 5.7M211.6 16.8l2.7 5.9M246.9 50.9l.2 7M243.6 7.5l2.3 5.7M249.4 29.4l-2.1 7.4M237.3 18.4l1.2 7.3M218.5 47.6l-2 4.6M245.9 26.1l.4 4.6M239.9 13.2l2 6.7M213.3 48.7l-2.3 4.9M239 16.9l.1 3.9" stroke="#afade5" stroke-width="2.5" stroke-linecap="round" stroke-opacity="0.45" fill="none"/>
<path d="M247.9 29l-1.9 6.7M234.4 19.6l1.9 7.3M218.7 57.6l1.7 4.2M240.4 44.1l-.2 4.4M268.9 63.2l.6 5.4M254.2 48.7l-.1 6.5M225.6 56.5l-2.2 6.2M216.5 30.7l-.7 2.9M272.9 17.9l.8 6M240 29.1l-.1 3.9M249.9 62.5l-.4 3.7M254.7 68.4l.2 3.7M234.2 25.2l.8 5M257.8 77.2l.6 6.3M248.7 73.4l-1.1 7.6M244.3 46.7l-.7 4.1M260.7 61.3l-.4 5.9M227.3 14.3l.1 5.4M250 71.1l-.8 4.1M231 24.9l-.1 6.3M241.8 32.5l.9 4.6M235.5 26.1l1 6.4M250 49.5l-1.3 6.3M216.5 35.5l-1.2 3.8M254.2 63.1l-2.4 7.6M257.5 44.5l-.7 7.3" stroke="#afade5" stroke-width="3.5" stroke-linecap="round" stroke-opacity="0.45" fill="none"/>
<path d="M235.9 62.7l2.7 6.1M233.3 62.3l.7 4.6M229.4 73.6l-1.2 2.9M247.4 61.2l-2.2 6.7M250.8 31.2l-2.8 6.2M230.8 23.8l-.3 4.5M252.6 45.1l1.3 3.1M274 17.8l-.2 5.7M251 38.8l-.4 4.3M253.3 52.5l-2 4.9M249.3 61.8l.1 4.6M253.4 24.9l2.6 6.6M228 31.6l.1 6.6M252.9 39.1l-.7 3.1M246.8 40.4l-1.1 5.2M248.9 19.1l.3 6.5M262.4 26.3l2.8 7.5M235.1 57.5l-1.7 5.2M266.2 30.9l-2.6 7.2M254.9 54.4l-1.1 3.5M221.1 13.8l1.6 6.6M262.4 60.3l.9 3M219.9 67.7l-1.5 4.5M227.9 27.3l-1.4 5.6M248 33.3l-.4 5.8M255.9 17l0 5.7M212.1 51.5l-.4 3.5" stroke="#b6b4ec" stroke-width="2.5" stroke-linecap="round" stroke-opacity="0.45" fill="none"/>
<path d="M263.2 37.5l1.3 5.1M258.8 25.6l-1.3 6M249.9 72.8l-2.6 7M252.4 54.7l-.4 5.6M219 28.2l2.3 7.4M234.7 63.6l-.2 7.9M266.3 51.4l-1.4 4.2M254.7 19.9l.9 5M219.7 20.9l1 5.3M252.9 4.1l-1.7 4.9M237.1 22.7l.8 4.9M235.6 12.4l.8 3M221 32.8l1.3 3.3M243 16.9l.6 4.9M241.5 17.8l.1 3.7M230.3 65.4l1.2 4.5M242.3 17.6l.6 4.1M214 67l-.6 4M257.8 36.4l-.1 3.4M249.1 17.1l-.8 7.8M246.8 58.7l-1.9 4.1M256.8 54.6l-2.4 5.4M254.6 65.2l1.8 4.8M229.5 65.7l-1.2 2.8M248.2 24.1l.4 4.1M223.9 66.2l.7 5.5M244.6 35.5l1.4 3.8M212.5 21.4l-1 3.4M218.8 35.1l1.2 4.6" stroke="#b6b4ec" stroke-width="3.5" stroke-linecap="round" stroke-opacity="0.45" fill="none"/>
<path d="M213.9 20.6l-.1 1.5M206.6 40.1l-.4 .9M270 44.5l0 2.1M227.9 25.4l1.4 2.1M257 45.5l-0 .9M240.5 45l1.2 2M231.8 13.2l.5 1.6M255.1 80l-.5 .7M225.8 27.2l-1.1 1.7M258.4 40.4l-.3 1.6M256.1 60l.5 2M240.3 61.3l.5 .9M229.9 20.5l.4 1.8M260.2 28.8l.5 1.2M222.5 58.9l.7 1M257.4 64.9l.5 1.4M242.1 12.4l-1.4 2M240 20.7l-.4 1.4M235.6 68.3l.5 .9M218.1 50.2l1.2 2.2M245.5 45l.2 1.8M256 18.8l1 1.8M212.2 46.2l.2 .8M239.4 7.3l-.3 2.3M247 26.1l.6 1.4M252 43.1l-.9 1.5M243.7 19.6l-.4 .5M226.9 18.1l-.3 1M251.3 40.6l-.1 1.5M251.9 24.2l.2 1.2M247.8 35l-.4 1M213.2 23l-.2 1.7M234.4 29.7l.2 .9M263 58.6l-1.4 2M246.2 66.3l-.3 .4M247.7 10.4l-.3 1.6M251.5 61.6l-.6 2.4M265.2 63.1l-.5 1M272.5 42l.1 .7M238.4 6.3l0 2.2M260.4 50.8l.3 .8M261.6 52.8l-.4 1.5M253.2 15.7l.5 1.8M242.4 18.8l-1.3 2.1M248.8 61.4l-.3 1.7M256.8 60.7l.5 1M260 69.5l.3 1.5M238 49.2l.7 1.5M247.3 65.6l.9 1.4M225.3 40.8l-0 2.1M273 30.7l.5 .7M233.4 11.6l-.3 1.5M235.4 70l-0 .6M225.9 50.7l.3 .6M235.9 14.6l.6 2.1M238.9 28.3l-.2 .8M251.1 38.1l-.8 1.3M262.6 68.4l-.1 2.3M222.5 33.1l.3 .7M253.7 33.5l.9 1.7M261.3 57.1l-.2 .5M235.6 18.8l.9 1.7M242 19.9l-.3 1.7M276.6 56.1l-.1 .7M264 20.7l.6 1.8M216.3 41.3l.3 .7M266.8 22.6l.3 .8M261.2 27.9l-.3 1.4M244.6 23l.3 1.6M250.5 16.1l-.9 1.8M212.4 26.9l.8 1.7M233.6 53.5l-.2 .7M226.5 28l-.8 2.2M248.1 11.6l.2 .8M217.3 46.6l-.2 .8M241.3 22.7l-.4 2.1M244.8 41.4l.6 1M255.4 47.7l.4 .6M261.8 35.9l-.3 .4M245.5 73.2l-.5 2.3M221.5 41.9l-.1 1.7M262.5 75.9l-.3 1.6M221.8 25.5l.1 .5M251.3 36.4l-1.1 2M258 25.7l.5 .8M249.7 68.9l.8 1.3M221.5 20.3l.2 .6M235.9 9.8l.5 1.2M215.9 29.5l-.3 1.1M223.4 75.7l.7 1.3M216.5 54.1l.4 .8M244.1 38.8l-.4 1.1M258.7 47.5l.1 1.2M240.2 64.9l1.3 2.1M250.2 27.2l-.5 .7M217.9 72.5l-.7 1.8M232.5 49l-.9 1.6M210.2 49.5l-.6 1M249.6 30.5l.6 .9M237.9 52.1l.1 1.1M236.6 41.8l.5 1.4M272.4 56.6l-.6 1.5M256.7 66.9l-.7 1.2" stroke="#8080c6" stroke-width="1.1" stroke-linecap="round" stroke-opacity="0.6" fill="none"/>
<path d="M225.5 28.8l-.5 2M214.2 21l.4 2.4M253.2 59.5l-.8 1.1M243.2 74.8l.1 1.4M271.3 66.4l1.3 1.9M242.1 13.5l.3 .9M278.6 48l-.4 2.4M251.9 37.6l-.2 .6M276.2 30.7l.1 2.1M264.6 67.1l-.1 2.3M247.8 55.3l-.1 1M239.9 19.7l-.2 .5M270.6 45.4l.1 1.4M270 58.5l.6 .9M226.1 48.7l.4 1M212 52.2l.8 2.2M240.7 27.6l.1 .7M247.7 41.3l-.7 1.1M210.9 51.6l-.4 1M253.3 29.7l.2 1.2M246 62.5l1.1 1.7M226.8 53.7l.9 1.6M258.2 42.3l1 1.6M208.8 23.8l.3 .7M236.1 31.4l-.7 1.5M218.9 13.9l-.2 1M241 11.2l.2 .8M225.4 18.4l.3 1.6M215.2 65.6l.6 1.6M251.2 29l.5 1.5M257.5 45l-.2 1.9M246.3 47.8l-.6 1.4M220.5 29.9l.4 1.2M237.9 53.7l.2 2M242.1 10.8l-.7 2.1M233.6 18.7l-.9 1.8M260.1 72.2l.7 2.3M244.7 63l-0 .6M243.6 53.3l.1 .7M232.8 68l.7 2.1M245.7 79.3l.4 .9M216.2 56.5l-.2 .6M272.4 24l.1 1.8M240.5 73.2l.8 1.4M242.5 20.8l-.2 2.2M240.2 50.8l-.7 1.5M240.2 41l1.3 2M268.6 57.1l.1 1.3M245.2 62.3l-.4 1.8M251.5 64.3l-.8 1.9M245.5 59l-1 1.7M203.9 40.6l.1 1.3M248 39.7l.9 1.9M248.8 14l1.2 1.8M238.3 15.9l.7 1.5M245.3 54.8l-.8 1.2M277.6 59.7l-1 1.6M246.6 59.3l-0 1.6M262 72.5l-1.1 2M240.7 31.9l.9 1.5M266 16.1l-.8 1.5M252.9 44l.4 .8M254.4 64.4l-1 2.3M236.1 47.9l.7 2M243.9 58l.1 1.4M242.1 61.5l-1 1.7M248.7 81.8l-.3 1M252.9 48.3l.1 .6M262.4 68.1l1.3 2M240 51.9l.2 .9M249.5 66.1l.1 .6M220.6 75.7l-.3 1M230.9 31.8l.1 1.7M261.4 73.1l.2 .8M237.2 47l-.7 2M225.9 46.9l-.5 .8M250.2 12.1l-.2 2.1M252.6 62.2l.1 1.2M232.1 21.5l-.5 .8M253.1 59l.4 1M232.7 33.1l.1 1.2M218.9 38.6l-0 1.5M219 31.5l-.4 1.4M260.1 43.2l-1.2 1.9M258.2 23.5l.7 1.5M272.5 47.8l-.6 1M230.6 30.5l.7 1.8M276.2 48.3l-.2 2.1M270.1 49.6l0 1.1M233.6 8.9l1.3 2.1" stroke="#8080c6" stroke-width="1.5" stroke-linecap="round" stroke-opacity="0.6" fill="none"/>
<path d="M264.9 49.5l-.6 1M214 55.9l0 .8M211.6 40.5l-1 2.1M228.2 31.7l-.5 2.2M248 54.1l.2 .9M270.2 32.8l-1 1.5M222.8 67.9l.1 .9M221 53.7l-.7 2.3M239 46.7l1.3 2M246.1 71.8l.7 1.8M219.5 43.5l.3 .9M274.1 29.5l.8 1.5M218.6 41.8l.7 1.4M255.9 27.6l-.7 2.3M242 57.5l-.2 .9M226.5 32.1l-.5 1.5M253.7 16.9l-.1 .5M209.2 59.1l-.5 2.2M253.1 31.6l.2 1.1M255.9 46.4l-.4 .6M224.7 50.3l-.4 .6M248.2 60.3l-.3 1.3M263.8 46.7l.3 1.9M214.5 55.8l1 1.7M226.1 65.4l.5 1.5M239.5 19l0 .7M211.9 39.8l-.7 1.3M228.5 30.1l-.2 1.3M239.3 40.7l.6 .9M228.4 18.5l-0 .8M221.7 20.4l-.9 1.6M256 39.5l.4 1.5M247.4 49.7l-.1 1.3M261 33l.2 .9M253.3 17.1l.7 1.3M255 30.2l.1 2.3M220.6 24.5l-.1 .5M246.9 16.1l.5 1.1M242.2 20.9l.4 1.3M221.7 69.2l.1 .5M239.6 43.6l.9 2M213.6 45.1l-.1 .7M239.3 17.9l.3 1.8M221.6 45.8l.1 2.1M218.5 59.7l.7 1M254.2 55.6l1 1.9M258 38.9l.9 1.2M240.1 47.5l-.3 .4M256.7 39.1l-.4 1.1M243.6 45.8l-.4 1.2M245.5 42.8l.2 .7M250.6 55.1l-.7 1.6M253 63.7l.2 1.8M228.6 38.1l-1.1 1.7M245.7 73.8l.2 1.8M222.5 44l.9 2.1M275.8 40.8l.6 1.7M222 63.6l-.5 2.4M235.3 37.2l.4 2.2M230.3 23.1l-.1 .7M267.5 59.9l.6 2.1" stroke="#8d8dd3" stroke-width="1.1" stroke-linecap="round" stroke-opacity="0.6" fill="none"/>
<path d="M259.4 44.3l-.3 .8M213.6 34.7l-0 1M243.1 57.3l-1.2 2.1M220 45.8l-.5 1M247.4 24.5l.4 2.4M219.1 60.4l-.6 .9M224.5 16.9l-.8 1.8M213 42.5l.5 2M238.1 19l-.9 1.6M234.9 50.8l-.4 .5M204 48.2l.3 2.2M224.2 31.7l.6 1.8M218 22.2l-.2 1.5M257.9 78.2l.6 1.4M246.3 14.1l-.3 1.2M249.7 54.8l-.6 2M273.3 62.2l.5 2.3M239.5 27.2l-.6 1.1M237.6 45.9l-.8 1.8M213 45.1l.4 1.8M241 63.4l-.4 .6M238.4 5.2l.3 1.8M250.9 72l.6 1.7M223.5 43.5l.9 1.4M208.8 45.7l-.3 .6M253.2 76.6l.1 1.6M237.4 22.5l-1.4 2M262.9 12.8l.6 1.8M278.4 45.5l1 2.1M252.8 57.1l.1 .7M248.8 15.3l-.5 1.8M254.2 28.8l.5 .8M251.6 25.5l-.6 1.6M261.6 34.1l.6 1M219.4 40.9l-.9 1.9M265.5 51.9l-1.1 2.1M217.1 53l0 2.5M245.6 48.4l-.4 .7M252.6 13.1l.4 2.1M226.8 25.5l-0 .9M212.5 24.4l-.2 .9M244.7 23.5l0 2.1M241.9 62.1l-.6 1.2M238 16.2l-.6 1.2M251.4 79.1l-.1 1.1M208.3 50.8l.2 1M211.7 57.8l-.8 1.5M236.5 21.9l-0 .8M245.7 67.6l.2 1.4M217.6 39.8l-1 1.8M246.7 70.8l-.1 2.1M254.9 37.1l-.1 .8M241.8 16.5l-.3 .9M249.4 50l0 .7M265.8 59.6l-.2 .7M241.5 47.3l.4 1.2M253.4 11.9l.7 2M253.6 65.5l1.1 2.2M253.2 26.6l-.4 .9M273 59.5l-.6 1.5M241.7 22.5l1 2.1M262.5 64l-0 .9M272.2 59.3l-.4 2.2M242.7 73.4l-.5 1.4M219.8 37.9l-.8 1.4M241.7 58.6l-.1 1.5M256 68.7l-.5 2.1M255.7 19.7l.1 1.4M250.2 80.7l.9 1.6M260.2 17.3l.6 1.8M266.3 54.9l-.3 2M257.9 80.2l1 1.6M234.2 28.4l.2 2.3M221.8 68.9l.6 1.6M237.9 68.3l.1 .9M273.8 41.8l-.2 2.5M234.2 26.2l.6 1.2M223.6 66.9l.9 1.2M238.6 69.8l-.8 1.4M271.1 29.7l-.1 .5M212.7 32.8l-.1 1.7M212.3 57.1l.8 1.4M256.3 40.3l-.3 1.4M267.9 66.6l-.7 1.8M255.6 18.9l-.1 2.1M241.6 9.9l-.4 1.3M224.6 36.9l-.7 1.5M242.1 26.2l.2 1.3" stroke="#8d8dd3" stroke-width="1.5" stroke-linecap="round" stroke-opacity="0.6" fill="none"/>
<path d="M265 62l-.7 1.2M257.3 64.1l.2 .7M249 47.8l.4 1.4M262.6 40.5l1.2 1.9M235.7 25.1l-.2 .6M216.7 72.8l.3 2.4M255.9 53.8l-.2 1.7M241.5 37.8l-.5 1.4M250.3 65.8l.9 1.7M240.8 41.9l-.4 1.1M253.6 37.2l.1 .6M252.5 32.8l.5 1.7M238.6 22.6l.5 2.2M242.2 22.4l.1 .6M268.9 68.1l.4 2M246.2 52.8l.7 1.2M243.3 14.9l-.8 1.5M237.5 26.3l.5 .7M220.8 44.2l-.5 1.2M252.1 32.2l.5 1.6M222.4 62.1l-1.1 1.7M258.2 67.4l-.4 .6M247.7 23.1l-.6 1.7M247 17.3l-.1 1M254 66.6l.6 1.1M236.2 38l-.9 1.4M239.1 42.6l.9 1.4M277.6 49.2l-.9 1.6M242.5 43.5l-1 2M249.8 35.2l.2 2.1M259.2 72.8l-.1 .7M216.4 31.3l.7 1.3M223.5 29.8l.2 .9M243.1 58.7l-.1 1.9M264.3 42.7l-.3 .8M277.6 48.9l-.7 1.2M224.5 35.2l-.4 1.6M249 49.7l.4 .6M256.5 39.6l0 1.9M220.9 15l-.2 1.8M263.9 45.8l.3 1.5M262.8 57l.1 1.3M261.2 30.1l-.4 2.2M258.4 67.5l-.1 1.8M265.4 48.3l-.3 .6M218.3 44.3l.3 .6M231.7 76.6l.5 1.6M241.8 4.4l.1 1.4M237.8 10.5l-.7 1.5M253.7 51.4l-.2 1.4M227.7 15l.7 1.3M236.2 12.6l-.1 .7M247.3 14.8l0 .8M212.1 35.8l0 .8M243.2 4.4l-.4 1.3M229.3 35.2l.3 1.6M276.1 34.9l-.3 2M243.8 41l.2 1.1M249.5 40.5l-.5 .9M243.9 8.3l.8 1.5M276.7 62.5l-.2 1.2M266.4 51.2l-.6 2.3M224.4 48.5l.4 .9M260.1 52.5l-.2 .6M238.3 11.9l-.5 1.6M216.4 60.2l.2 .5M245 10.7l-.2 2.1M219.9 28.3l-.4 .8M241.3 57.8l.7 2.3M258.6 54.6l0 1M234.4 61.1l-0 1M224.5 61.7l-.4 1.8M211.7 43.6l-.3 .6M221.5 55.2l-.2 1.8M232.7 24.8l.5 1.9M212.4 45.1l.7 1.2M264.5 68.7l-.8 1.8M262.1 45.6l-.7 2M263.8 58.1l.4 .8M266.7 50.2l-.9 1.5M241.5 29.5l.2 1.2M236.5 28.8l.2 .6M249.4 7.7l.2 .6M251.7 64.9l-.7 2.3M227.3 28.8l.4 1.6" stroke="#9a9ae0" stroke-width="1.1" stroke-linecap="round" stroke-opacity="0.6" fill="none"/>
<path d="M234.3 39.3l.4 1.1M256.2 34.3l.2 2M238.5 16.1l.8 2M226 33.1l-.2 .5M255.6 67l.3 1.9M214.9 41.7l1.1 1.8M244.3 56l-.3 2.4M248.8 28.4l-.2 .7M226.4 35.6l.3 .9M240.3 46.7l-.3 2M233.9 55.5l.4 .9M235.2 18.9l.7 1.1M266.1 53.2l.4 1.5M226.3 39.3l-.3 .6M243.9 49.3l-.1 .8M231.9 29.6l-.2 2M256.6 25.5l.4 .7M230 31.4l.4 1.7M253.7 65.5l.5 1.8M214.9 49.1l.2 1.3M212.3 43.3l-0 1.7M237.9 48.7l-.2 1.1M251 37.4l-0 .8M245.9 7.5l.6 1.1M239.7 64.8l-.7 1.8M222.9 32.1l-.3 2.1M222.3 28.1l-.2 1M228.6 33.9l.9 1.7M250.6 65.7l-.6 1.3M252.2 69.2l.6 2M257 40.4l.7 1M248.3 23.8l-1.2 1.9M226.2 62l-.6 .9M255.8 29.1l.4 2.4M256.7 72.3l-.2 1.5M265.8 39.3l-.1 1.8M257.1 63.5l1 2M239.8 34.3l0 1.6M238.2 9.6l.5 1.6M234.2 5.4l-1.2 1.8M251.6 54.4l-.3 1.5M239.5 32.4l.2 2.3M234 71.5l0 .7M248.2 46.9l-.2 .5M245.4 46.9l-.3 2.3M237.6 8.6l.6 1.4M204.9 51.5l-.2 .6M249.6 58.6l-.5 2M241.1 58.2l-.3 .8M225.6 8.8l-.6 1M237.3 51.9l.2 2M271.2 54.4l.9 2M263.1 64.9l-.1 .5M220.7 38.2l.3 .8M244.2 65.8l-.2 1.6M239.3 17.9l-.4 1.3M245.9 4.5l-.7 1.7M247.6 70.4l-.4 .9M219.3 52.1l.8 2.3M265.7 47.5l-.5 1.1M264.5 75l.8 1.5M256.7 26.7l.3 .8M250.8 82.2l-.5 1.4M260.5 49.2l-0 1.1M260 61.9l.4 1.3M250 80.6l-.9 1.3M250.2 42l.5 .7M241.2 14.9l1 2.2M242.1 6.4l.7 1.5M258.8 14.7l-.4 1M234 12.8l.4 .6M244.6 23.5l.5 2M204.9 37.6l.2 1.2M221.9 57.8l-.6 .9M232 75.1l.8 1.8M228.2 46l-.3 1.2M235.8 16.3l-.2 .9" stroke="#9a9ae0" stroke-width="1.5" stroke-linecap="round" stroke-opacity="0.6" fill="none"/>
<path d="M219.3 66.5l.8 1.4M245.5 68l-.5 .7M208.3 41.2l.3 .7M217.3 20.4l-.6 1.1M254.2 21.9l-.3 .5M257.3 30.7l-.2 1.7M234.7 10.7l-.4 1.7M217.4 27.2l.9 1.3M218.2 28.8l-.4 1.2M249 38.2l.6 1.3M239.4 11l.2 2.4M231.8 22.7l.3 .8M280.2 31.1l.1 1.2M269 33.9l.4 .7M217.3 31.6l-.3 .6M249.6 48.5l-.3 2.5M262.6 69.2l-1.2 1.8M249.5 51.1l.7 1M239 14.7l-0 .7M239 7.6l.1 .5M218.4 30.8l.8 2.1M226.9 58.7l-.3 1.4M251.6 32.7l.2 1.2M253.2 22.6l-.1 2M238.9 71.2l-.3 .5M254.3 55.5l.3 2.1M243.5 38l-.5 1.1M240.6 67.6l.4 .8M260.5 69.9l.3 2.3M281.5 49.6l.1 1.8M207.5 38.9l-.7 2.1M242.6 74l-.1 1.5M253.4 74.2l.2 1.3M255.3 28.2l1.3 1.8M243.5 43l.1 .7M247.4 18.6l-.5 2.2M235.8 30l0 1.1M241.5 75.3l1.2 1.9M263.6 50.7l.9 2.2M270 49.1l.9 1.5M257.7 59.8l.5 1.4M248.5 50.3l1.2 1.9M243.9 30.6l.2 1.1M263.6 63.1l-.4 1.3M219.6 51.2l.8 1.6M266.7 32.3l-0 .5M221.6 27.9l-.6 1.5M205.3 36.2l-.5 1M226.4 41.6l-.4 1.6M231.2 23.9l.1 2.5M245.2 28.6l.6 .9M252.9 54.7l-1.1 1.9M246.8 15.2l.4 2.5M252.1 46.4l-1.2 1.8M249.3 28.3l0 .5M242.4 23.6l.9 1.8M230.3 37.4l-.8 1.5M248.2 8.3l-0 1.1M243.8 24.9l.1 1.6M259.7 50.3l.2 1.1M231.1 27.2l-.7 1.3M235.8 54.5l-.1 1.1M235.3 49l.3 1.3M242.7 19.4l.1 .7M228.3 28.2l-.9 1.4M238.8 12.4l-.5 1.1M270.3 51.9l.4 2.2M235.6 49.9l-.6 1.6M255.8 77.8l1.1 1.9M270.2 37.9l-.7 2.3M266.7 63.6l-.5 1.3M258.9 58.4l1.3 2M219.2 61.3l-1.3 2M229.9 16.4l.3 .7" stroke="#a8a8ee" stroke-width="1.1" stroke-linecap="round" stroke-opacity="0.6" fill="none"/>
<path d="M273 63.1l-1.1 1.7M279 46.8l-.7 1.4M226 59.2l.3 .6M224.5 31.5l-.4 2.1M212.3 51.8l.3 .5M252.4 76.6l-.3 .6M259.1 14.2l.5 2.2M239.7 24.2l-.2 .5M259.3 27l-.1 .7M214.7 15.3l.9 1.6M243.1 19.4l-.1 1.2M260.7 75.3l.4 1M212.8 40.4l-.1 .6M224.3 21.1l-.3 1.8M226.3 34.4l.7 2.4M215.4 25l-.1 .6M223.8 66.4l-0 .7M281.7 49.1l.2 .5M246.7 65.7l-.3 1.4M258 19.4l.8 1.8M218.1 37.7l-.8 2.1M244 37.9l.3 .5M232.5 25.3l1.4 2M235.3 35.6l.5 1M236.3 39.6l-.7 1.3M250.3 22.2l.3 1M241.4 33.3l-.4 1M239.4 7.3l-.2 .8M223.1 36.7l.1 1.5M239.4 41.5l-.6 1.1M243.6 28.5l.1 1.6M232.7 52.1l.3 .7M267.7 39.3l.8 1.8M227.8 77.4l-1 1.4M247.5 13.5l-0 .9M249.7 59.8l-.6 1.9M227 27.9l-.7 1.4M232.3 34.7l.2 .8M215.3 33.3l-.2 1.9M269.1 23.4l.8 1.7M257 69.5l1.2 2M211.2 41.5l-.9 1.4M259.8 20.6l1 2.2M241.6 36.4l-.1 1.4M225 32.7l-.2 1.6M263.9 47.6l-.8 2.2M264 11.8l-.1 2.5M233.1 32.9l-.5 .8M247.1 77.4l-0 .6M244.6 73.8l-.4 .8M274.6 57.7l-.4 .8M227.2 67.7l-.7 2.2M224.2 44.4l-.7 1.2M259.5 74.8l.4 .7M233.5 31.8l.2 2.2M274.9 30.3l-1 2M223.2 11.8l.2 2M246.1 54.5l-.3 1M227.2 39.9l-.2 1.5M259.5 55.8l.1 1.4M237.3 30.4l-.5 1.8M248.4 71.2l.1 1M281.2 34.7l-.2 .9M253.5 35.9l1.1 1.6M246.4 7.8l-.1 1.7M232.4 43.6l.3 1.1M258.9 8.4l0 1.1M244.2 19.6l.1 1M237.4 11.4l.1 .8M246.3 9.4l-.3 1.1M206.3 56.2l-.2 .8M237.9 9l-0 .5" stroke="#a8a8ee" stroke-width="1.5" stroke-linecap="round" stroke-opacity="0.6" fill="none"/>
<g filter="url(#bl1)">
<path d="M244 30L250 30L253 38L254 47L250 52L246 46L243 38Z" fill="#f8f8fc" fill-opacity="0.8"/>
</g>
</g>
</g>
<clipPath id="cc4"><circle cx="320.9" cy="45" r="38.2"/></clipPath>
<g clip-path="url(#cc4)">
<g filter="url(#bl2)">
<rect x="279.7" y="3.799999999999997" width="82.4" height="82.4" fill="#babcd9"/>
<path d="M298 30.2l1 .3M297.1 44.1l.1 .6M316 12l.4 .6M328.9 27.4l-1.1 .6M325.3 13.8l.3 .5M320 61.5l-.9 1.2M341.2 41.1l-.5 .4M350.7 49.2l-.9 1.4M328.8 13l-.5 .2M305.8 39.2l.8 .4M288.3 51.8l1.1 1.4M287.7 47.7l-0 1.6M297.1 40.3l-1.1 .7M316.6 42.8l-1.1 .9M331.8 47.9l-.6 .2M295.2 39.2l-.4 1.2M343.8 54.8l1.1 .3M292.1 29.8l.2 1.3M354.1 50.4l-1.4 .9M337.9 14.1l.5 .3M292.9 45.6l-.1 1.7M343.2 50.7l-1.1 .9M333.6 12.2l-.4 1.4M341.2 41.7l-1.4 .5M316.5 23.9l.4 .4M336.5 34.5l.6 0M344.9 42.6l.5 .4M321.5 15.7l-1 .7M330.7 68.3l-1.1 .3M306.4 28.7l-1.7 .3M308.9 46.3l-.6 .4M290.4 22.9l.5 .4M312.7 65.7l-1.2 .1M356.2 47.2l-.6 .2M330.8 30.6l1.2 1.3M327.1 31.9l-1.6 0M349.2 26.3l1.3 1.3M320.3 76.1l-.8 .4M322.5 19l-.9 .8M337.6 66l1.3 1M334.6 20.7l-1.1 1.4M328.8 42.3l.9 1M290.9 21.7l-.4 .7M312.7 17.7l-.9 .2M336.2 35.3l0 1.5M311.3 44l-1.5 .6M316.8 56.8l1.1 .8M297.6 19.5l-.3 .7M314.9 45.5l1.1 .4M296 55.8l1.1 1M315.3 11.4l1.1 .5M330.5 20.5l-1.1 .5M300.9 56.1l.2 .7M355 33.3l.1 1M302.9 66.6l-1.4 .4M343.2 24.2l.3 1.1M359.1 47.3l1.1 1.3M318.1 25.4l1.1 1.4M336.4 63.4l-1 1.4M312.5 65.4l.1 1.1M303.4 44.9l1.3 .4M299.6 16.8l-.9 0M316.1 67.3l-.7 1.4M330.9 41.6l.4 .4M341.3 60.4l.4 1.1M335.7 44.6l-.4 .6M320.2 42.5l.5 1.3M313.8 73.4l1 1.1M330.4 78l.7 .8M297.3 57.6l1.1 .3M302.1 64.1l-1.3 .7M290.1 60.9l-1.5 .9M350.6 37.5l-1.7 .5M341.6 54.8l.1 .7M342.8 14l.2 .9M332.7 20.5l-1.5 .6M303 74.9l1 .7M283.5 39.3l.3 .7M306.8 52.6l0 1.3M319 66.6l1.4 .4M309.1 56.1l-.9 .3M312.8 41.2l-.9 .4M335.5 65.8l-1.1 .9M298.6 37.7l-1.5 .7M300.4 46.1l1.3 .7M343.8 22.3l1.5 1M291.4 27l.2 .6M337.6 47.6l.6 .5M313.2 8.9l.4 .4M321.5 52.5l.3 1" stroke="#8486bb" stroke-width="1.0" stroke-linecap="round" stroke-opacity="0.7" fill="none"/>
<path d="M287.9 36.9l-.8 .1M336.4 78.6l-1.1 .4M315.2 45.8l1.6 .1M318.3 45.1l.2 .6M290.6 66.8l.5 .5M302.1 25.1l-.9 .5M310.4 56.5l.9 1.1M323.9 39.1l.4 1.6M333.6 14.2l1.4 .3M345.1 26l1 1.3M306.4 49.8l.3 1.3M309.9 43l-.2 1M334.5 33.6l-1.1 1.2M328.6 75.9l.7 .4M324.9 38.4l1.7 .3M357.5 51.6l-1.1 1M335.5 78.3l.7 .5M297.4 64.5l-.2 1M337 56.3l1.2 1M323.9 81.9l-.9 .7M314.1 65.7l-.2 .5M319.4 39.8l-.2 1M328.6 9.3l-1.1 1.1M329.6 76.1l-.4 1.4M336.7 32.9l.7 .5M357.1 53.1l-1.6 .7M304.5 41.9l-.9 1M330.9 82.7l-.7 .5M327.2 31.9l-1.7 .1M332.7 39.1l-.8 .5M296.5 55.6l.7 .2M354.8 43.7l.8 .8M308.2 27.2l-.7 .8M292.9 57.3l.6 .5M350.4 49.8l.2 1.6M332.9 80.8l1 1M332.4 65.5l-1.3 .6M318.7 83l.5 .5M321.2 74.7l.9 .5M304.8 39.5l1.2 1M295.5 37.3l.4 .4M324.4 14.1l-1 .5M288.1 56.5l-.5 .6M311.3 19l-.7 1.5M330.7 49.1l-1.6 .9M300.3 62.6l-.2 1.6M324.9 76.6l1.2 1.2M324.6 77.5l.1 .6M325 76.1l-.4 .5M303.8 75.6l-.7 .7M306.1 40l.8 1.5M322.5 23.1l.8 1.2M305.2 36.7l-.6 .2M314.2 56.4l-.4 1.4M327.8 52.4l-.2 1.2M315 14.9l-.2 .8M323.9 83.4l-1.4 .8M302.6 77.5l-.3 1.4M295.5 45.1l1.6 .5M298.8 47.5l1 .3M288.4 40.1l-.6 1M302.1 13.8l1.6 .3" stroke="#8486bb" stroke-width="1.4" stroke-linecap="round" stroke-opacity="0.7" fill="none"/>
<path d="M334.4 59.3l-1.1 .3M311.4 10.3l.7 .4M294.9 46.9l.8 1M325.7 79.9l-0 .5M357.5 37.8l-.5 .6M333.7 50.2l-.8 .9M344 44.5l.6 .6M313 83.2l1.5 .3M347.8 45.9l.1 .6M312.5 70.5l.3 .8M306.2 42l-.1 1.8M292.6 60.7l-.7 1.4M284.8 52.5l-.3 1.1M320.9 45.3l.2 .9M324.9 5.9l1.3 .8M326.3 56.5l.8 1.1M335.7 66l.5 1.5M300.6 15l1.4 1M314.3 77.1l-.5 1.3M293.4 41.9l.9 1.4M341.7 51.2l.4 .7M331.4 62.6l-.6 1.5M353 23.1l-1.5 0M349 49.3l.5 .5M351.3 58.6l.2 1.2M330.4 24.6l-.7 .6M306.3 38.6l-1.1 .4M297.4 64.4l.8 .4M338.8 38.7l-.4 .4M355.6 31l-.3 .6M307 45.3l-.8 .2M327.4 41.7l1.7 .5M312.3 42.3l-.3 .9M336.6 10.1l.2 .9M338.7 49.9l.8 1M323.8 11.4l1.2 0M331.9 80.1l-.7 .1M307.7 81.4l.9 .9M309.5 38.9l-1.7 .6M335.4 50.1l.4 .6M286.8 51.4l-.6 1.5M305.4 67.1l-.4 .5M331.4 75l.3 .6M335.5 80.9l-.7 .9M337.1 17.6l1.8 0M300.4 64.9l-.7 .7M294.7 16l-.2 .6M326 27.6l.5 .5M293.4 23.7l-.5 .2M303.2 38l.5 .2M302.7 30.9l.7 1.5M342.8 65.9l-.2 .7M306.6 27.3l-.2 1.1M352.3 65.4l-.4 .9M298.6 37.6l-.2 .8M338.4 45.9l-1.4 0M320.4 62.2l-.8 .6M297.6 37.5l.6 1.4M324.9 30.1l-.2 .8M345.1 71l.4 .4M351 29l-0 .9M360.4 44l-.7 .4M336.9 44.8l.6 1.1M331.4 11.9l-1.4 .5M349.4 31.7l-1.3 1.1M289.6 47.9l.8 .2M335.1 17.7l.2 .5M306.4 46.6l1.7 .3M352.4 32.2l.5 1.5M311.6 32.8l.9 .3M308.5 45.9l-.8 .1M306.1 21.6l-1 1.3M348.1 46.4l1 .8M339.4 37.7l.3 1.5M282.4 50.1l.7 .5M287.3 36l-1.3 .4M309.3 8.4l.2 1.3M322.2 57.5l-1.2 .8M295.7 33.4l-.3 1.6M347.4 36.8l.5 1.2M333.5 16.5l-.5 1.7" stroke="#9092c7" stroke-width="1.0" stroke-linecap="round" stroke-opacity="0.7" fill="none"/>
<path d="M328.4 37.5l-.7 1.5M334.4 75l-.5 1.4M328.5 34.4l.9 .6M284.6 44.2l-1.3 .1M310.9 63.5l1.5 .1M295.3 35.9l1.4 .7M315.7 43.9l-1.2 .3M287.6 30.4l-1.8 .1M309 21.8l.1 .6M301.1 37.7l.2 .8M323.1 49.8l-.7 1.3M287.4 63.5l-.5 1M296.3 42.9l-.4 1.2M287.3 29.6l-.5 1.2M288.6 36.2l-1.3 1.1M341.5 56.6l-.8 1.3M300.2 15.9l.8 1M312.2 36.9l.3 .7M324 56.4l1 .6M319 54.1l1 .1M292.7 36.1l-.6 .6M355.4 28.6l-1 .4M303.7 39.2l-1.7 .3M297.7 52.3l.3 1.1M288.5 37.2l1.1 1.3M300.2 22.1l.8 1.6M322 32.8l-1.2 .6M306.1 50.2l1.1 .8M320.9 73.5l-1.6 .2M299.5 71.2l.5 .7M307.8 76.2l-1.3 1.2M291 55.8l0 .7M301.1 34.6l.4 1.2M292.9 19.6l.1 .7M335.2 67l.2 1.6M320.4 79.2l-.5 .4M334.3 24.3l.2 .5M337 44.9l1.8 .3M301.4 47.4l-.5 .2M300.7 51.7l.3 .8M345.9 50l1.7 .1M338.4 32.9l-.4 .5M357.1 37.5l.5 0M345.8 25.1l-.5 1.4M346.5 35.3l.8 .5M300.9 71.3l-1.5 .1M291 60.4l.5 .1M296.2 21l-.1 .6M289 42.2l-1.6 .6M346.5 44.1l-.3 .6M288.1 33l-1.1 1.1M302.1 52.9l-.9 .3M332.8 74.1l-.4 .8M313.6 51l.8 .7M287.5 56.8l-.5 .5M311.5 26.6l-1.2 .8M301.4 42.3l.4 1M313.9 49.8l1.1 1M345.3 54.5l-.7 .1M300 26.4l1.2 .7M314.2 47.1l.6 .8M343.2 61.8l1.1 .9M304.9 10.1l-1.5 .9M349.3 21l.6 .3M306.6 19.6l-.6 .4M345.7 67.6l.6 .1M302 53.1l-.2 .5M335.4 33.2l-.4 .9M341.1 10.8l-1.3 .6M283.8 55.5l-.8 .7M327.4 21.6l.6 .4M312 19.1l-.6 1.6M305.3 13.6l.6 0M330.7 18.3l.6 1.4M312.5 77.5l-.9 1.4M309 75.4l-.7 1.3M285.3 46.1l.7 .1M327.3 13.2l-1 .1M307 66.7l-.9 .6M327.9 60.2l-.1 1.1M341.8 57.6l-1.2 .2M319.6 48l-.4 .8M321.8 64.5l.1 1.1M346.7 57.7l-1.8 .2M315.2 29.3l.5 1.2M328 56.7l.1 1.1M305.8 23.9l-.4 .8M300.9 58.1l-.5 .5M343 49.2l-.5 .3M304.6 46.8l.7 .6M300.7 37.4l1 .8M304.1 73.7l.8 .7M292.5 69.5l-.9 .1M341.9 20.8l-.9 .6M342.5 59l-1.4 .2" stroke="#9092c7" stroke-width="1.4" stroke-linecap="round" stroke-opacity="0.7" fill="none"/>
<path d="M290.7 65.4l-1.7 .6M334.9 70.5l-.4 1.3M284.8 47.5l.4 1.7M291.9 49.9l.1 .6M338.1 10.5l-.6 0M299.1 33.1l.3 1.4M321.4 48.3l1.2 .7M332.2 80.4l.2 .6M310.6 17l.4 1M332.5 45.1l1 .6M327.1 60.5l.9 0M282.8 45.7l.5 .8M293.9 26.1l-.2 .7M336.2 9.3l-.8 1.5M300.7 47.2l-1.7 .4M335.9 40.5l.5 1.3M287.2 53.8l1.1 0M345.2 49.8l.4 .5M324.4 70.8l.2 .9M298 22.6l-.6 .1M282.1 40.5l0 .6M305.9 58.4l-.8 .6M299 20.5l-.5 .7M304.1 77.7l-.6 1.2M300.8 16.8l1 .2M358 36l-1.1 1.4M283.9 47.4l.3 .9M332.3 33.1l-1 1.1M315.5 65.3l1 .1M317.1 73.9l-.8 .7M308.6 42.8l-.4 1.2M327 57.9l-.6 .4M335.6 34.8l-.5 .4M282.5 51.3l.4 .6M337.9 15.4l1 .6M298.7 75.5l-1.4 .9M352 27.8l.5 1M340.5 76.6l-.3 .4M309.2 35.7l.3 1M323.7 71.9l.1 1.1M292.9 53.2l1.5 .5M341.6 70.7l-.2 .7M316.1 62.9l-.6 .7M296.2 60l.5 .1M282.9 46.4l1.5 .8M349.5 44.8l1.1 1.1M348.1 73.5l-1.4 0M346.3 28.8l-.5 .6M335.7 10.2l-.3 1.1M337.6 76.7l.1 1.3M323.4 28.5l.8 .2M347 18.9l1.1 .9M310 38.7l-1.2 .8M354.7 46.5l-.9 .5M318.9 70.2l-1 1.1M298.4 18.9l.5 1.4M313.4 64.2l.5 1.6M339.8 19.5l.2 .7M291.4 27.9l-.3 .7M358.7 45l-.6 .5M300 35l-1 1.1M341.8 51.6l.9 .7M281.3 43.1l1.4 .1M323.9 41.1l1 .8M304.3 63l1.8 .1M337.7 48.4l-.6 .7M337.8 77.5l.6 1.1M302.4 71.7l.5 .9M327 21.6l-1.4 .7M283.7 50.5l-1.6 .7M332.7 53.1l1 1.3M287.6 43.9l1.2 1.2M284.7 41.6l-.3 .5M340.1 38.9l.7 .6M339.2 58.3l-.4 1.3M309.9 80.8l-.1 .9M354.2 60.1l.8 .4M289.1 48.6l1.3 .4M319.8 62.7l1.4 .3M330.4 36.6l-.8 .5M332.7 17.5l.5 .3M306.2 72.2l.1 .9M341.3 64.1l-1.2 .4M301.8 54.1l-.4 .5M331.4 11.3l-.5 .3M307.2 42.7l1.4 .7M304.6 59.4l-.4 1.1" stroke="#9c9ed3" stroke-width="1.0" stroke-linecap="round" stroke-opacity="0.7" fill="none"/>
<path d="M291.8 53.5l.9 1.3M342.6 70.5l.7 1M316.1 78.7l-1 .7M326 55.6l1.7 .1M322.7 15.4l-1.1 .5M301.9 65.1l-.1 .7M316.5 46.6l.2 .5M349.9 36.4l-.2 1.7M323.4 37.2l1.4 .1M286.6 41.1l-.5 .4M330.5 43l.6 .5M323.2 43.5l1.4 0M326.8 32.4l-.8 .3M350 43.8l-.7 1.5M301.6 21.4l.5 1.3M316.6 22.5l1 .4M350.4 31.1l.5 .4M329.2 25.3l0 1.2M292 29.3l.4 .8M303.1 43.8l.2 .5M310.4 80.6l.5 .1M300.7 47.7l-1.1 .2M294.3 56.9l.7 1.5M355.2 56.7l-.6 .2M310.2 76.8l.7 .2M304.4 67.7l.9 .3M346.7 17.9l.4 .8M353.3 22.1l-.3 1.6M311.5 68.5l.6 1.5M327.7 82.8l1.3 1.2M327.8 60.6l-.4 .6M305.4 30.7l.5 .3M353.7 29.1l.3 1M320.6 58.1l-.7 .4M349.1 22.5l.1 1.2M332.6 64.5l.8 .8M355.7 32.5l-1.3 .2M300.5 29.1l1.1 1.3M315.3 73.5l-.2 1M344.7 74.7l-.9 .2M282.4 52.7l.5 .8M316.2 50.2l.8 1.5M359.4 41.2l-1.2 1M335.2 78.3l-.3 .6M330.9 52.7l-.7 .5M334.6 64.2l-.6 .3M310 74.1l.2 .8M291.5 67.5l-1.1 1.2M317.4 81.2l-.3 1.6M356.6 51.8l1.3 .9M328.7 36.6l.6 1.6M304.4 42.4l.9 1.5M345.8 49.7l-1.6 .3M316.5 15.2l-.3 .9M332.9 19.8l.7 1.6M317.1 15l1.7 .4M321.7 11.6l.9 .1M308.8 23.7l.4 .4M328.3 39.1l-.2 1.4M322.9 61.8l-.4 1.3M320.5 76.2l.4 .3M287.8 44.5l-1.6 .1M282.3 37.2l.9 .5M340.9 51.8l-.3 1.7M289 63l.3 1.3M319.4 71.8l1.1 1.3M330.8 58.8l.2 .5M343.6 54l-1.1 1.4M328.4 74.9l-1.4 1.2M340 74l.2 1.1M325.7 80.7l-1.5 .3M295.2 53.2l-.8 1.5M315.1 25.2l-.3 1.3M304.6 38.5l.3 .6M354 53.7l.3 1.3M350.8 28.3l.7 .4M327.2 19.7l-.9 .6M307.8 70.3l-.8 1.3M306.3 28.4l1.4 .8M348.7 52.4l-.4 .6" stroke="#9c9ed3" stroke-width="1.4" stroke-linecap="round" stroke-opacity="0.7" fill="none"/>
<path d="M316.8 76.2l-.3 1M331.4 18.4l1 .2M325.4 21.7l.8 .5M312 34.4l-.6 .1M315.7 46.9l-1.4 .5M326.1 53.2l.3 1M304.3 77l.4 .9M334.5 45.1l1 .2M333.2 52.3l-.5 .4M356.9 45.1l.2 .9M326.7 30.6l-.8 .7M300 13.5l.4 1.5M291.3 37.2l.8 .6M321.6 33.5l-.4 1.4M347.4 52.4l-1.5 .9M340.7 22.7l-.3 1.2M330.8 72.8l-.6 .4M330.6 77.3l.8 1.3M315.9 75.4l-1.7 .1M313.1 70l0 1M295.1 31l-1.4 1M299.6 39.5l1.2 1.3M351.2 63.2l-1.1 1.1M357.8 33.1l.2 1.2M321.7 67.6l-.6 .7M341.8 53.4l-.9 .9M320.3 34.5l1 .1M302.2 21.5l-.6 .3M310.3 26.8l1.3 .3M288.9 60.8l.1 .8M346 17.4l-.8 .6M324.5 54.7l-.3 .6M282.8 44.6l-.3 .6M351 42.1l1 .8M354.8 50l-.2 1M334.1 12.9l-1.2 .3M302.2 58.6l1.4 .5M326.1 56.8l.6 .7M299.9 14.8l.8 .6M299.6 17.9l.8 .1M319.6 42.3l-0 .7M306.6 59.3l.1 1M297.7 68l1.2 .7M335.1 67.2l-.9 .4M341.4 34l-.8 .2M340.1 34.3l-.5 1.6M333.9 29.5l1.1 1.4M343.6 62.7l-.3 1.4M302.9 65.6l-.4 .6M351.1 70.1l-.8 .6M337 40.2l.5 .8M345.7 42.3l.5 .1M337.7 30.8l.7 1.3M290.6 49.3l.2 1.5M298.9 21.6l.8 .2M302 34.2l-.6 1.3M344.6 26.4l-.2 .5M335.5 69.3l.5 .2M340.2 36l-0 .6M299.7 48.4l1.4 .2M316.6 16.4l.5 1.2M296.8 65.8l-.3 .5M352.2 24.8l1.1 1.3M324.6 20.4l-.5 1M297.6 14.9l1.3 1.2M314.8 7.8l-1.3 .5M296.6 56.3l-1.5 .3M335.5 21.8l1.6 .1M349.8 29l-.5 .3M328 57.9l-.6 .4M318.6 80l-.7 .3M312.7 36.7l-1.3 .5M328.1 15.3l-.8 .1M300.7 18.5l-.3 1.1M324.4 67.5l-.8 1.2M348.2 50.2l1.1 .9M322.1 26.9l-1 1.3M300.6 63.4l-.1 .5M283.3 38.3l-1.4 0" stroke="#a8aadf" stroke-width="1.0" stroke-linecap="round" stroke-opacity="0.7" fill="none"/>
<path d="M296.2 28.1l1.1 .3M339.2 18.7l-1.1 .4M300.7 48.4l.7 1.2M323.5 58.9l-1.5 .3M305.2 11.1l1.2 .6M297.4 23.5l-.4 .7M353 27.4l.1 .8M334.8 63.7l.5 1M315 61.5l-.3 .5M318.8 37.3l-.7 .8M350.4 62.8l-.5 1.5M338.1 60.8l1 .4M304.6 32.2l-.1 1M304.2 38l.2 .5M318 82.4l.6 1.6M336.9 50.8l.2 .5M311.3 8.7l.7 .5M335 18.1l1.2 .6M302.4 28.4l.3 1.1M321.1 43.9l-.9 .8M301.6 71.9l-.6 .6M348.1 43.7l1.1 .8M332.4 61.7l.6 .7M318.7 18l.1 1.5M345.9 34.3l.6 .2M324.6 71l.3 .7M333.7 80.6l-1.3 .3M349.4 31.6l.1 .7M313.3 48.8l1 .1M301.5 51.3l1.1 .4M300 39.7l-1.1 .6M302 23.9l-1 1.1M290.8 64.4l-1.2 .5M292.1 21.4l-.1 1.1M338.2 59.2l-.9 .2M337.8 52.2l.2 .6M306.5 77.8l0 1M326.6 13.6l-.3 .7M290.4 56.6l-1.1 1.2M315.2 20.3l1.1 .6M355.1 25.8l-.9 .1M285.4 44.2l-.9 .9M351.5 50.7l-.7 1.6M310.3 50.1l1.3 .3M323.7 24.4l.2 .9M338.5 39.7l1.4 .7M309.1 37l.8 .9M336 31.1l.5 1.5M351.9 58.8l.4 1M309.5 42.8l.7 .6M340.3 13.8l.6 .1M350.8 24.4l.2 .5M296.6 30.6l.6 .7M320.4 46.2l-.7 .2M350.7 45.4l.8 .3M346.9 35.1l1.2 .4M281.6 50.6l1.4 .6M336.8 32.5l.5 .1M317.3 64.5l-.1 1.6M344.5 68.6l.2 1M329.5 26.2l-.2 1.3M334.8 64.8l1.4 .1M330.1 50.2l1 1.1M347.7 24.1l1.3 0M353.9 57.3l-1.1 .6M320.6 39.9l.9 .5M315.6 55.8l.4 .5M327.7 19.4l-1.2 .7M317.2 41.9l.7 .8M317 14.7l.7 .9M315.5 28.5l.3 .5M349 69.1l-1 1.5M315.2 73.8l.4 1M312.2 7.5l.8 .5M343.9 17.6l-1.5 .2M314.9 16.6l-.8 1" stroke="#a8aadf" stroke-width="1.4" stroke-linecap="round" stroke-opacity="0.7" fill="none"/>
<g filter="url(#bl1)">
<path d="M294 12L306 18" fill="none" stroke="#dedde6" stroke-width="5" stroke-linecap="round" stroke-linejoin="round" stroke-opacity="0.95" />
</g>
<g filter="url(#bl1)">
<path d="M286 30L300 37L312 44L322 52" fill="none" stroke="#dedde6" stroke-width="4.5" stroke-linecap="round" stroke-linejoin="round" stroke-opacity="0.95" />
</g>
<g filter="url(#bl1)">
<path d="M284 50L304 58L320 66" fill="none" stroke="#dedde6" stroke-width="4.5" stroke-linecap="round" stroke-linejoin="round" stroke-opacity="0.95" />
</g>
<g filter="url(#bl1)">
<path d="M284 62L300 70L310 76" fill="none" stroke="#dedde6" stroke-width="4" stroke-linecap="round" stroke-linejoin="round" stroke-opacity="0.95" />
</g>
<g filter="url(#bl1)">
<path d="M306 9L318 10L330 13L340 18L347 25" fill="none" stroke="#ad7059" stroke-width="6" stroke-linecap="round" stroke-linejoin="round" stroke-opacity="0.85" />
</g>
<g filter="url(#bl1)">
<path d="M292 18L300 23L308 28L320 36L330 42L336 45" fill="none" stroke="#ad7059" stroke-width="9" stroke-linecap="round" stroke-linejoin="round" stroke-opacity="0.85" />
</g>
<g filter="url(#bl1)">
<path d="M284 40L300 46L314 53L322 60" fill="none" stroke="#ad7059" stroke-width="7.5" stroke-linecap="round" stroke-linejoin="round" stroke-opacity="0.85" />
</g>
<g filter="url(#bl1)">
<path d="M285 57L300 64L312 70" fill="none" stroke="#ad7059" stroke-width="6.5" stroke-linecap="round" stroke-linejoin="round" stroke-opacity="0.85" />
</g>
<g filter="url(#bl1)">
<path d="M286 69L296 76L302 83" fill="none" stroke="#ad7059" stroke-width="6" stroke-linecap="round" stroke-linejoin="round" stroke-opacity="0.85" />
</g>
<g filter="url(#bl1)">
<path d="M341 31L347 42L352 52L355 62" fill="none" stroke="#ad7059" stroke-width="7" stroke-linecap="round" stroke-linejoin="round" stroke-opacity="0.85" />
</g>
<g filter="url(#bl1)">
<path d="M314 84L328 84L342 82" fill="none" stroke="#ad7059" stroke-width="5" stroke-linecap="round" stroke-linejoin="round" stroke-opacity="0.85" />
</g>
<path d="M314 82.6l1.8 .4M318.8 80.5l-.9 1.4M292.7 70.9l-1.4 1M324.9 7.7l-1.1 1.2M296.7 26.2l-1.3 .2M284.7 35.8l1.5 .4M336.4 44.4l-.1 .6M347.9 25.6l-1.8 .3M305.2 66.5l.1 1.5M313 57.3l-.1 .8M284.2 44.3l.1 .7M355.2 51.2l.1 1.8M300.6 20.6l-1.2 .4M349.9 56.9l.2 1.7M317.9 55.5l.5 .6M306 29l.3 .7M314.3 51l-1 0M303.7 20.8l-.8 1.7M286.3 42.7l1.9 .2M299.4 43.5l-1.4 .7M347.3 48.1l-.3 .7M343.6 28.4l-1.5 1M307.1 24.2l-1.6 .6M339.1 34.2l-.5 .5M295.1 17.9l-.2 1M316.8 37.7l-.3 .6M308.1 23.5l-1.3 .1M296 62.6l.7 .9M324.8 35.9l1.1 1.9M341 21.1l-.4 1.1M305.1 29.4l.1 1M330.7 44.9l.1 2M337.8 40.3l.9 1.1M325.2 59.9l1.3 .7M333.3 46.2l1.9 .7M292.9 38.7l-.5 .6M348.8 37.4l-.6 1.4M350.2 51l-1.1 .1M333.2 80.1l-1.2 1.4M341.1 14.3l-.9 .2M292.5 69.8l-.7 1.1M310.7 68.9l-1.8 1.3M348.7 45.6l-.6 1.2M330.9 11.9l.5 1.1M352.7 53.5l-0 .7M353.9 60.8l-.7 .9M306.8 46.2l1.5 .5M315.2 10.3l-1 1.7M340.2 32.1l-1.4 1.2M326.1 81.7l.9 1.5M301.5 45.4l.5 1.2" stroke="#520f00" stroke-width="1.4" stroke-linecap="round" stroke-opacity="0.8" fill="none"/>
<path d="M334.4 40.1l-2 .2M353.6 48.7l-.5 .8M287 38.6l.4 .7M343.6 43.5l.3 .8M302.8 27.3l-.4 .9M307.3 30.8l-1.1 .9M288.3 36.9l-.2 1.1M316.2 28.3l-.8 .6M295.9 73.7l1 .9M347.5 52.5l2 .7M321.8 29.9l-1 1.7M285.7 41.8l-1.8 1.1M307.7 53.2l.9 1.6M306.9 50.4l1 .2M322.2 56.4l1 .9M339.6 21.6l.1 .8M313.6 36.9l-1.1 .3M299.8 66.1l-.4 .6M339.2 35.9l.2 .8M353.3 51.5l-.9 2M314.4 8.8l-.2 2.1M324.7 41.6l-1.3 1.3M293.9 43.7l-.8 1.7M338.6 46l.8 1.3M309.4 72.8l1.5 .4M357.5 56.6l.4 1.9M289.8 22.1l-.9 .3M309.6 53.9l-1.5 .4M291.2 58.9l1 .4M314.4 37l-.5 .8M340.9 30.8l-1.4 .7M303 50.4l-.2 .9M333.6 18l-1.7 .3M283.7 39l1.6 .7M291.6 23.1l2.1 .6M311.1 26.3l-.7 .8M295.8 71.7l1.8 .8M311.4 53.5l.4 .5M339 37.5l2.1 .4M319.4 8.1l1.9 .3M305.5 66.4l-1.3 .9M344.2 39.7l-.7 .7M298 18.8l-.9 1.7M327.5 44.2l-.7 .4M334.5 45.7l1.3 .3M288.5 61.1l-.1 1.2M331.1 43.6l-.4 .4M306.7 22.2l-.5 .6M354.6 63.2l-.2 .8M316.9 29.3l-1.7 .6M334.7 42.2l1.8 .4M329.9 15l.5 2.1M301.9 42.5l.5 2M346.6 47.7l-.9 .7M301.8 60.7l-.2 .7M341.5 30.6l-.1 1.1M297.4 47.7l.8 1.1M328.9 35.3l-1.6 .6M288.7 44.4l.7 1.9M287 36.3l-.1 .6M304.5 31l0 1.4M315.6 36.8l-1.6 .3M290.7 39.3l-.7 .5M311.1 48.3l-1 .8M332 36.8l-1.1 1.4M323.6 35.4l-.7 1.5M345 31.4l1.2 1.4" stroke="#520f00" stroke-width="1.9" stroke-linecap="round" stroke-opacity="0.8" fill="none"/>
<path d="M324.7 10.7l2 .8M288.4 55.6l-1.5 1.3M317.4 54.3l-.8 .3M326.5 42.3l1.1 .9M301 50.4l-.5 1.1M324 63.4l.9 .1M307.8 26l1.1 .3M337.8 13.5l-.6 .8M338.4 18.2l-1.4 0M290.5 19.4l1.3 .6M298.8 18.3l1.5 .2M331.8 13.4l1.2 .7M306.8 21.7l-.3 1M312.7 57.5l.8 .2M345.3 35.2l.6 2M296.9 21.2l-1.2 1.3M329 43.3l1 1M317 32.5l.1 .7M303.8 65.3l.7 .5M292.7 17.6l-.1 2M304.3 46.7l-.1 1.6M355 52.1l1.1 .4M316.4 7.1l-2 .1M340.3 15.1l1.3 1.2M345.1 42.9l-1.5 .1M347.8 23.1l-1.2 1.1M338.9 28.7l1.7 .6M312.2 66.3l-1.2 .3M347.9 39.2l.3 2M300.8 23.2l-.4 1.1M323.5 83l1.7 .8M289.8 20.8l.6 .4M301 76.8l-.6 2M294.7 62.8l-.1 .6M308.4 68.9l.6 1.2M298.9 44l.4 .4M320.3 12l.7 .2M312.2 32.1l1.4 1.2M305.3 42.7l-1.4 1.6M335 14.2l.7 1.9M302.9 46.5l-.3 1M283.4 53.4l1.6 .6M322.1 12.1l-1.5 .6M324.2 57.6l1.6 .2M345.2 29.9l-.4 .7M304 30.7l1.7 .7M351.7 58l1.1 .5M324.3 34.5l-1.2 .2M312.8 52.9l.6 2.1M351.7 51.7l-.1 .7M326.3 14.2l.4 1.9M332.5 48.8l.6 .5M338.6 34l.6 .2M302.4 62.7l1.4 1.6M285.9 58.7l1.7 0M310.4 34.1l-.6 1.3M355.3 48.5l-1.1 .4M350.7 23.3l-.8 .7M304.9 70.8l1.4 .3M344.7 45.2l-0 1.7M346 42.1l-.7 1.5M311 31l1.2 1.2M294.1 71.9l-1 .5M286.5 42.8l-.2 .6M330.3 17.1l1.8 .1M284.4 39.7l.5 .8M354.2 54.6l.7 .7" stroke="#66230f" stroke-width="1.4" stroke-linecap="round" stroke-opacity="0.8" fill="none"/>
<path d="M297.1 73.4l.7 .3M299.6 19.8l2 .3M330.4 12.4l.8 .6M287 56.5l-.2 .8M311.9 31.8l-1.2 1M315.2 6.9l-.6 .7M285.3 35.8l-.7 1.2M354.8 52.8l-1 1.7M322.6 42.2l-1.6 .4M296.6 21.1l1.8 1M322.1 59.6l1.4 .7M311.1 81.8l1.6 .4M287.4 56.4l.8 .6M345.1 40.4l1.4 .4M315.6 26.5l.9 1.7M311.4 48.4l-1.6 1.1M284.3 58.7l1.3 .5M339.9 42.4l.8 1M350.2 26l-1.8 1M324.1 41.4l.7 1.5M355.2 60.3l-1.2 1.3M314.7 70l-.6 .5M316.7 38.2l-1.5 1.2M315 34.5l.5 .4M295.2 20.2l.4 2M317.4 8.6l-1 .2M332.3 14.1l-1.7 1.4M320.2 61.8l.3 .6M318.2 9.9l.4 .6M352.9 52.4l1.2 .6M296.9 58.9l-.2 1.1M301.6 66l-.1 1.6M324.8 82.5l-.7 1.2M301.6 19l-1 1M300.3 23.4l.9 1.5M351 46.3l-.9 .1M317.3 36.9l-1.5 .1M332.7 42.6l-.3 1.7M291.8 21.6l.3 .8M303.3 67.7l-2.1 .4M291.8 37.7l-1.3 1M321.1 39.7l.7 .1M297.1 23.8l-.3 1.1M288.5 40.6l-1 .9M315.4 68.5l-.2 2M299.7 26.2l-.9 1.9M295.5 71.4l-.6 1.4M317.1 32.3l.6 .2M344.3 21.9l.7 .3M322.5 8.8l-.8 .3M318.7 51.5l-.3 .9M347 44.6l-.5 1.7M344.5 39.7l-1.7 .3M309 6.9l.1 1.7M303.9 63.4l-1.4 1M302 60.6l.7 1.3M317.4 28l.7 1M296 19.4l.4 1.8M305.2 64.4l-.8 .1M352.8 50.1l-1 .8M312.7 47.4l-.2 1.4M318.7 10.2l.8 .8M315.4 69l0 .9M289.2 42.4l-.8 .3M346 27.7l-1.7 .7M295 43.5l.6 .9M340.8 22.7l.9 .1M292.7 63.8l-.6 1.3M305.1 51.2l1.8 1" stroke="#66230f" stroke-width="1.9" stroke-linecap="round" stroke-opacity="0.8" fill="none"/>
<path d="M345.2 19l.3 1.3M310.7 69.3l-.4 1.4M309.2 50.2l1.1 1.4M290.4 68.5l.8 2.1M336.6 43.2l-1 1.5M326.5 33.9l-.4 .9M340.6 41.5l-1.4 1.2M329.1 37.4l.3 .6M334.6 13.1l-1.7 1.3M314.1 70.1l2.2 .2M301.1 23.1l.8 2M292.7 41.3l-1.5 0M301.2 20.8l-1.1 1.1M320.9 8.7l.5 .8M337.1 12.9l-.5 .3M290.7 55.3l-.1 2.2M293.2 47.6l.6 .2M306.4 30.8l.1 .6M291.4 20.2l-1.3 .3M325.5 35.9l-.7 1.5M308.9 47.1l-.1 .6M348.8 44.8l-.7 .3M313.5 70.6l-2 .4M292.6 23.4l1.7 .2M289 42.7l.2 .6M317.8 9l1.9 .7M299.3 60.2l.8 .4M313.1 12.7l.8 .9M338.1 27.9l.6 1.7M301.8 27.3l.9 1.9M350.4 46.1l1.3 .8M319.8 81.8l1 1.5M304.4 66l.5 .7M283.9 36l.4 .5M320.6 8.2l1.5 .7M314 53.5l1 .4M289.9 43.3l-1.9 .1M330.1 12.2l-1.8 1.1M339.8 30.4l.4 1.3M326.5 40.6l.9 .2M343 38.4l1.9 .3M330.5 40.1l-2.2 .1M349.1 44.2l-1.4 1.4M315.1 53l0 1M323 61.5l.5 1.1M298.6 48.4l-1 .3M348 27.4l1.6 .2M321.2 8.1l.8 .6M346.3 42.4l.4 .5M283.1 39l-.3 1.7M337.1 15.2l-.1 .6M334 80.7l.3 .6M312.4 55.7l-.3 1.7M304.5 31.1l.9 .2M313.4 81.2l-.3 .6M291.1 41.3l.4 .6M345.7 36l-.6 .6M307 21.7l-.7 .2M339 17.9l-2.2 .1M322.8 55.2l.9 1M311.9 69.4l.7 1.6M286.2 45.1l1.4 .3M355.1 62.3l.4 1.7M306.6 65.9l.4 1.2M297 44.5l-.6 .3M343.7 33.7l-.6 1.8M312.8 11.7l-.7 2M295 59.1l-.3 1.1M325.4 11.1l1 .2M329.2 35.8l-.9 .8M327.2 39.6l.1 2M307.2 45.5l1.8 1.1M341.8 22.7l.2 .8M297.8 64.1l-.1 2.1M294.9 64.9l-.6 1.3M292.4 39.5l-1.2 1.1M313.5 82.4l1.3 .1M303.4 49.2l.8 .7M288 61.7l2 1" stroke="#7a3723" stroke-width="1.4" stroke-linecap="round" stroke-opacity="0.8" fill="none"/>
<path d="M326 40l-.5 1.9M355.8 53.9l-.2 1M284.2 39.1l1.7 .5M304.5 48.1l.7 .9M353.6 47.4l-1.1 .8M339.9 14l-.8 1.7M313.6 67.2l-.6 1.3M313.2 68.4l-1 1.3M315.8 52.3l-1.2 1.8M324.7 38.4l-.1 1.5M324.9 36.5l.6 .5M316.8 9.3l1.1 .6M319.5 38.5l-1.1 .3M315.1 31.3l-1.1 1M296.8 59.5l-.9 .2M327.5 10.4l-1.2 1.8M342 14.1l-1.4 1.4M344.8 33.3l-.2 .6M312.6 67.4l.8 1.1M314.6 6.5l-.1 2.1M303 49.3l-1.4 1M352.1 47.2l.5 .9M308.9 46.3l1.3 .3M296.5 72l1.1 1.2M322.4 41.7l-1.7 .8M303.3 29.5l-.7 1.7M353.5 58.2l1.4 .6M302.8 50.2l-1.4 1.1M344.8 29.6l-1.8 .6M341.6 21.4l-1.2 .6M352.9 50.2l.8 1.1M285.3 57.1l.9 .8M324.7 44.5l.7 .5M304.2 21.1l.9 .2M310.8 26.6l-.1 1.2M350.1 40.1l1.1 .8M296.3 45.8l1.2 .1M344 18.8l-.7 .9M321.4 55.1l.3 1.9M310.1 52.1l-.7 .8M336 42.8l-1.7 .5M334 11.6l-1 .4M313.6 54.8l-.1 .9M337.1 47.7l-1.1 .7M331.5 14.1l-1.1 .1M305.6 48.7l-.5 1.6M342.1 34.9l-.6 .5M312.8 50.3l-.7 .1M350 42.3l.1 1.4M330.7 14.5l-.7 1.3M312.1 50.5l.8 .2M306.8 27.2l1 .5M319.1 55.1l-1.2 1.5M303.5 28.6l-1.5 .2M327.1 42.9l-1.6 .6M352.5 63.7l-.7 .5M305 20.5l1.7 .6M323.3 41.2l-.8 1.5M332.8 39.2l-.4 2.1M286 57.5l.1 1M344.6 22.8l-1.6 1.1M307.7 47.7l2 .8M330.4 14.9l.4 1.8M322.8 35.7l.7 1.1M329.1 38.3l.1 .6M302.5 66.7l-1.7 .6M339 31.3l-1.1 1.7M351.2 61.5l1.4 .9" stroke="#7a3723" stroke-width="1.9" stroke-linecap="round" stroke-opacity="0.8" fill="none"/>
<path d="M300.5 66.3l.7 .7M304.2 9.6l.5 1.8M342.2 29.7l-1.5 .8M331.7 44l-1.8 1.1M320.6 8.9l-.6 .4M323.6 37.1l2 .3M344.8 43.2l-1.1 1.6M316.1 82.9l.7 .2M299.7 20l1.1 1.2M287.3 39.8l-1 0M292.5 22.9l.2 .7M343.8 35.1l2.1 .2M303.6 22.4l-.4 .5M309.7 8.9l-.2 1.3M292 46.6l-1.3 1.5M300.5 63.2l.1 .7M298.3 44.4l-.3 2M308.3 26.4l1.5 .6M294 72.8l1.3 1.1M296.6 40.9l-1.1 .5M318.3 10.2l-.7 1.4M326.2 43.3l-1 1.6M307 25.3l1.7 .4M319.7 30.8l.6 .2M314.1 57.6l-1 1M309.8 50.9l-.6 .8M308.3 63.3l1 1.8M327.5 41.1l-.4 1M333.9 17.9l.5 1M309.6 50.3l.6 1.2M328.8 37.3l1.2 1M348.6 55.2l1.9 .8M327.7 39.3l1.6 .3M346.7 21.6l-.9 .7M297.3 26.4l1.7 1.1M347.3 41.8l.7 .2M321.3 13.3l1.2 .4M316.1 59.3l1.4 1.3M354.4 58.7l-.9 .9M317.8 35.1l-.3 .5M287.2 44.7l1.9 .7M339.1 41.9l-1.2 1.2M339 30l-.7 1.2M327.7 34.6l-.4 1.3M292.5 22.8l-.4 1.8M314.9 68.7l1.5 .3M303.2 61.4l.5 .4M330.3 44.8l-1.1 1.2M348.4 52.2l1.2 .7M353.6 48.4l-1.5 .4M308.3 34.6l1.9 .6M281.7 41l.6 .3M315.7 9l1.6 .7M315.2 55.4l1.6 .3M344.1 23.5l-1.4 .1M287.2 61.2l-1.9 1M310.7 23.9l-1.1 1M317.8 60.6l.9 1.3M305.3 66.3l-.6 1M341.7 37.6l.9 .1M283.2 42.4l-1.4 .1M287 58.4l-.5 .5M346.7 47.3l.3 .8M312 65.8l-1 .1M288.4 38.6l-1.4 1.4M304.9 65.1l-.1 .6M308.1 53.4l-.3 .8M352.3 47.5l-.8 1.1M345.7 26l1.4 1.6M335.1 17.5l.8 1.3M296.7 22.5l-.5 .9M327.9 39.8l-1.5 1.6M339.4 29.3l.2 .7M319.4 37.5l2.1 .3M287.9 41.5l.2 .8M313.1 8.7l1.1 1.3" stroke="#8e4b37" stroke-width="1.4" stroke-linecap="round" stroke-opacity="0.8" fill="none"/>
<path d="M331 47.5l-.2 .6M352.4 55.2l.6 .2M293.6 38.4l-1.1 1M341.3 28.3l-1.1 .7M305.5 52l-.2 1.4M293.3 61.8l-1.3 1.3M306 21.1l-1.8 1M286.8 38.1l-1.5 1.3M332.3 16.6l1.5 .6M315.1 31l-.6 .3M339.5 21.5l.1 1.2M316.7 83.4l.5 1.1M311.9 49.8l.5 .5M290.9 41.1l.2 1.6M355.1 55.7l-1 1.5M300.9 42.6l.4 1.1M320.8 6.4l-1.2 1.6M317.1 58.5l.1 1.5M342.7 20.8l.3 1.9M349.4 26.4l1.5 .4M322.3 61.6l.7 .3M320.8 60.1l-1.6 1M356.3 59.5l-.3 2.2M317 9.4l.4 1.1M319.5 8.3l0 .8M321.1 33.6l.6 1.3M340.1 37.3l1 .6M299.1 64.7l1.4 .4M292.3 42.5l-1.2 .7M297.9 48.3l1.9 0M310.4 9.5l.7 .5M328 81.6l-1.1 1.4M346.5 32.2l-1.4 1.3M345.8 44.9l-1.1 .1M307.2 52.3l.4 .6M290 55.8l1.2 1.4M336.2 19.8l-.6 .2M343 40.3l1.5 1.1M326.1 15.5l1 .3M312.5 25.6l-.7 1.8M326.3 39.2l1.3 .6M284.1 43.4l-1.2 1.7M342.7 35l.3 .7M318.2 36.6l.8 .8M343.3 39.5l-1.7 1M353.6 45.5l-1.8 .4M328.2 82.4l1.7 1.2M356 57.4l.1 1.6M296.4 42.7l.1 .7M337.9 42.8l-1.1 1.5M306.6 31.5l-1.1 .1M330.2 38l.6 1.6M299.8 65.1l-2 .7M338.5 47.7l-.4 1.2M297.9 63.4l.4 1.5M304.9 66.4l.6 1.3M344.6 32.9l-.8 .2M303.5 46.9l-.4 1.8M332.8 17.2l-.9 .2M349.9 46.7l1.2 1.3M307.9 48.8l-.9 .5M286.6 59l.5 2.1M330.7 46.9l-1.4 .3M338.5 34.9l1.5 .3M331.5 13.6l.8 .5M313.9 9.3l-.1 1.5M286.6 43.6l1.3 .4M341.4 17.6l1.6 1M292.2 43.1l-.3 1M345.2 26.6l-0 1.4M348.2 47.9l1.2 .9M347.8 28.3l.8 .1M343.7 42.3l-.8 .5M310.3 65.1l-1.1 .8M318.2 35.1l-1 .3M297.6 41.8l-.1 1.1M349.7 26.1l-.9 .4M313.5 51.9l.2 1.2M319.5 8.3l1 .3M333.2 14l1.5 1.3M328 11.5l1.6 .7M324.8 11.4l.5 .8M294.4 62.4l-.3 1.8" stroke="#8e4b37" stroke-width="1.9" stroke-linecap="round" stroke-opacity="0.8" fill="none"/>
<path d="M293.4 72.1l-.8 .3M291.6 44.7l-.5 .9M312 53.1l-1.3 .6M290.9 41.8l.5 1.4M345.1 31.8l1.1 0M341.7 18.8l1.1 .5M353.4 52.1l-.7 1.2M318.9 32.7l.5 .4M303.3 42.9l-.1 1.2M317.6 29.4l-.2 .9M325.5 36.6l-.5 1.1M309.9 24.2l-.6 .5M317.5 61.2l.1 .5M302 67.1l.9 .4" stroke="#ba886a" stroke-width="1.2" stroke-linecap="round" stroke-opacity="0.6" fill="none"/>
<path d="M353.1 49l1.2 .2M325.4 11.1l-0 .9M352.7 61.5l.4 .4M341.3 19l-1.2 .5M345.8 27.9l.7 .1M304.8 22.3l.5 .5M320.7 60.1l.7 .2M310.8 26.5l.2 .7M336.1 48.2l.5 .5M317 10.1l-.9 .9M325.7 60.2l.6 .5M354.7 56.3l-.5 .7M304 11.4l.2 1.2M332.9 15.7l.1 .5" stroke="#ba886a" stroke-width="1.6" stroke-linecap="round" stroke-opacity="0.6" fill="none"/>
<path d="M333 80.7l.8 .1M291.3 40.3l-1 .1M309.2 68l.4 .3M319 52.2l.3 1.3M354 52.9l-1 .4M316.4 27.3l.1 1.2M317.9 58.3l1.1 .3M346 37.3l1 .8M308.5 11l-1.4 .2M323.7 62.6l.6 .9M312.9 28.5l-.6 .2M347.4 51.6l.3 .6M310.3 66.1l.5 .6M343.7 31.8l.9 .7M309.2 24.4l-.1 1.2M294.7 64.8l-1.3 .6M311.6 82.8l-.7 .4M307.4 49.6l-.4 .3M332.7 82.1l.1 .6M340.6 22.6l-.4 1.2M323.2 83.1l-.2 .5M291.3 58.6l-.5 .4" stroke="#c39173" stroke-width="1.2" stroke-linecap="round" stroke-opacity="0.6" fill="none"/>
<path d="M351.9 50.2l-.4 1M342.5 35.5l.6 .1M309.8 30.9l.6 .4M286 43.4l.7 .3M295.5 42.7l-1.1 .2M314.6 48.9l-0 .8M331.6 39.3l.7 0M304.5 44.5l-1.3 .3M325.1 81.5l-.6 .2M351.6 47.5l-.1 .7M306.2 51.3l-.9 1M306.3 47.1l-1.5 .1M314.7 70.3l1.2 .3M290.5 61.7l-1 .4M305.4 51.7l-.2 .6" stroke="#c39173" stroke-width="1.6" stroke-linecap="round" stroke-opacity="0.6" fill="none"/>
<path d="M339.3 43.4l-.7 1M322.3 59.3l-.6 .6M304.8 10.3l.5 .6M350 56.5l-1.1 .6M335.7 14.2l-.9 .7M341 16.8l.4 1.4M289.7 21.4l-.9 1M308.7 33.7l-.1 .5M292.4 56.5l.1 .6M331.9 12.1l.8 .3M294.4 39.5l-.2 .9M295.8 19.6l1 .4" stroke="#cc9a7c" stroke-width="1.2" stroke-linecap="round" stroke-opacity="0.6" fill="none"/>
<path d="M309.9 32l.3 1.2M282.6 37.9l-.5 .7M354.7 59.5l.1 1.4M286.3 41.3l1.3 .7M302.2 19.9l.5 .5M350.2 55.2l-1.1 .9M309.2 54.9l1.3 .7M321.8 64l-.5 .5M294.4 42.2l-.4 .3M346.8 32.9l-1 1.1M325 81.7l-.8 .2M315.1 51.9l.4 .5M306.4 9.2l.5 1.2" stroke="#cc9a7c" stroke-width="1.6" stroke-linecap="round" stroke-opacity="0.6" fill="none"/>
<path d="M303.2 30l-.5 .7M328.2 41.3l-.6 .7M295.5 16.7l-.7 .9M326.7 9.4l1.1 1M303.4 49.2l.5 1.3M354.1 61.6l-.2 .7M345.9 48l.3 .5M284.9 55.5l-.8 .9M350 45.6l-.5 1.1M353.3 47.7l-.5 1.2M348.6 27.7l-.2 1M324.2 39.5l1.2 .7M311.6 68l-.5 .5" stroke="#d6a486" stroke-width="1.2" stroke-linecap="round" stroke-opacity="0.6" fill="none"/>
<path d="M338.1 32.2l1.2 .8M318 35.2l.6 1M311.8 73.1l1.1 .6M314.7 52.5l.7 .6M304.2 51.4l.9 .8M345.4 35l-.3 1.3M351.5 60.8l-.4 .3M311.2 29.4l-0 .6M347.9 50l-.4 .4M344.4 19.7l-.2 .7M325.9 13.2l0 .9M299.5 23.6l-1 .9M335.4 39.8l.8 .7M319.6 33.4l.3 .5M346.9 38.2l-.9 .2M341.9 31.1l.9 .6M309.8 32.3l-.2 .6" stroke="#d6a486" stroke-width="1.6" stroke-linecap="round" stroke-opacity="0.6" fill="none"/>
<path d="M332.1 37.1l-1.2 .1M303.3 46.4l-.1 .5M341.2 32.7l-.3 .6M305.1 25.7l.7 .6M320.5 80.8l0 .7M292.1 61.5l-.2 1M333.3 17.3l-.4 .9M357 58.6l.8 .4" stroke="#cdc8d7" stroke-width="1.1" stroke-linecap="round" stroke-opacity="0.6" fill="none"/>
<path d="M352.9 46.6l-.8 .2M321.4 39.6l.2 .9M348.8 26.7l-.6 .7M293.3 71.5l.6 .4M346.9 44.5l-.5 .4M305.7 9.8l-.2 .4M347.8 21.3l.8 .5M334.9 39.8l-.1 .6M342.4 25l.8 .6" stroke="#cdc8d7" stroke-width="1.5" stroke-linecap="round" stroke-opacity="0.6" fill="none"/>
<path d="M301.4 47.9l.8 .3M332.5 45.9l.4 .5M348.7 50.3l-0 .4M343.7 24.6l.5 .7M310.8 29.5l1.1 .1M294.6 60.3l-.2 .6M311.1 9.4l.6 .9M333.6 48.9l-.3 .6M342.3 29.7l-1 .1M310.8 72.6l-.1 .8M324.4 56.5l.5 .6M294 23.2l-.4 .8M304.6 69.2l.8 .3" stroke="#d3cedd" stroke-width="1.1" stroke-linecap="round" stroke-opacity="0.6" fill="none"/>
<path d="M318.8 10.9l.4 .5M306 24.6l-.3 .8M343.4 33.2l-.4 .6M286.2 60.3l-.7 .2M339.7 41.5l.1 1.2M287.1 53.9l-.7 .3M287.4 58.7l.4 .6M292.6 22.1l-.6 .6M314.1 35.4l.6 0M343.6 20.4l.6 .4M307.1 71.6l.9 .1M328.9 46.4l1.1 0M345.3 21.7l.7 .9M304.2 22.5l.6 .1M346.3 34.2l.6 .3M338.6 42.9l.8 .7M351.8 51.3l.4 .3" stroke="#d3cedd" stroke-width="1.5" stroke-linecap="round" stroke-opacity="0.6" fill="none"/>
<path d="M340.6 38.2l-.3 .2M298 16.4l-.9 .3M288.7 37.6l.5 .2M336.7 48.8l-.5 .2M337.7 45.5l-1.1 0M334.4 14.9l-.3 .5M329.4 35l-.4 1.1M323.5 83.2l-1.1 .2" stroke="#dad5e4" stroke-width="1.1" stroke-linecap="round" stroke-opacity="0.6" fill="none"/>
<path d="M356.4 59.8l-.3 .5M312.7 32.6l.8 .3M319.5 32.5l.4 .3M314.9 55.4l-.6 .9M344.5 42.1l-.4 .1M284.4 40.2l.4 .2M327.6 81.9l.6 .9" stroke="#dad5e4" stroke-width="1.5" stroke-linecap="round" stroke-opacity="0.6" fill="none"/>
<path d="M324.6 57l-.6 0M295.6 60.2l-.2 1.1M322 38.3l.1 .6M304.1 29.1l-.2 .6M295.4 59l.4 .4M350.4 49.2l-.3 .4M300.6 18.3l.6 0M292.9 41.2l.4 .2M335.6 15.3l-.4 .1M306.6 65.5l1 .6M321 37.8l-.2 1.2M344 34.6l.3 .3" stroke="#e1dceb" stroke-width="1.1" stroke-linecap="round" stroke-opacity="0.6" fill="none"/>
<path d="M325.8 61.1l-.5 .8M346.4 24.2l.7 .5M295.6 62.2l1 .3M317.4 56.2l.7 .9M316.6 37.2l-.3 1.2M317.2 39l.2 1" stroke="#e1dceb" stroke-width="1.5" stroke-linecap="round" stroke-opacity="0.6" fill="none"/>
</g>
</g>
<clipPath id="cc5"><circle cx="422.3" cy="44.7" r="38.4"/></clipPath>
<g clip-path="url(#cc5)">
<g filter="url(#bl2)">
<rect x="380.90000000000003" y="3.3000000000000043" width="82.8" height="82.8" fill="#f3f3fa"/>
<g filter="url(#bl1)">
<path d="M436.2 11.3l-.9 2.4M382.3 49l3.7 .7M441.9 25.8l3 .1M418.6 69.2l-4.3 .6M458.2 53.8l-3.5 3.7M399.5 76.8l4.7 .7M392.8 46.7l-1.7 4M450.3 18.7l-3.9 1.6M430.3 40.5l-.3 2.5M393.4 26.9l2.8 .9M435 23l4.2 .2M438.5 27.5l1.2 4.2M431.6 36.7l4.4 1.6M405 53.6l5 .7M401.8 63.1l4.7 2.3M433 6.5l.1 2.6M445.6 37.2l.8 4M442.1 40.5l-2.2 4.4" stroke="#b6b9e6" stroke-width="4" stroke-linecap="round" stroke-opacity="0.5" fill="none"/>
<path d="M438.7 35.2l-2 1.4M420.3 12.9l1.6 5.2M451.2 32.8l-.5 2M435.1 25l4.3 .6M448.3 21.7l2.1 .3M423.9 6.2l-2.7 1.8M448 36l4.2 1.4M459.8 49.2l1.3 3.4M434.2 42.7l-3.5 3.6M413.7 7.4l4.8 1.3M428.6 79.1l2.9 4.5M420.8 27.1l-3.5 1.3M426.7 27.3l-2.7 1.1M414.7 30.3l1.8 .8M421.4 13.1l-2.5 1.3" stroke="#b6b9e6" stroke-width="6" stroke-linecap="round" stroke-opacity="0.5" fill="none"/>
<path d="M436.3 24.2l4 2.5M399.7 59.2l-4.5 3.5M429.1 65.2l-2.1 .1M410.2 75.8l-4.7 1.2M420.7 40.2l-3.4 4.5M398.3 29.6l-4.2 1.5M424.6 74.7l-1.5 3.6M414.9 33.8l2.9 1.6M425.2 37.9l4 1.7M416.3 63.1l-1.2 2.3M414.7 8.6l-1.3 4.3M434.9 23.5l2.4 2" stroke="#bbbeeb" stroke-width="4" stroke-linecap="round" stroke-opacity="0.5" fill="none"/>
<path d="M446.8 41.3l1.1 1.9M400.1 13.9l-5.4 2M439.1 52.9l-2.9 .1M424.9 19.5l-5.1 1.7M432.7 10.8l2.7 3.8M424.9 28.8l-3.4 .4M403 41.3l3.9 .6M412.7 38.9l-.5 2M420 21.4l-2.9 4.2M389 44l-.1 2.4M410.3 13l-.5 4.4M403 24l-1.4 2.2M414 30.5l-2.4 4.3" stroke="#bbbeeb" stroke-width="6" stroke-linecap="round" stroke-opacity="0.5" fill="none"/>
<path d="M410 34.5l-2.7 2.4M416.8 17.4l3.5 3.4M391.2 34.7l-5 2M437.1 16.5l-2.5 5M443.5 54.6l5.1 1.1M451.9 21.5l4.3 3.7M449.8 36.8l-4.5 0M417.1 12.4l-5.5 .9" stroke="#c0c3f0" stroke-width="4" stroke-linecap="round" stroke-opacity="0.5" fill="none"/>
<path d="M424.1 36.9l1.6 2.7M442.2 60.4l-4.9 1.4M398.2 70.3l-5.6 0M429.2 23.1l-3.6 3.2M432.1 44.3l-3.2 1.9M436.4 31.9l-.5 4.9M428.8 25.7l1 3.8M422.3 7.1l-3.2 .4M413.9 33l-3.1 3.3M444.8 15.7l-2.1 2.8M407 70.5l-1.5 5.4M452.4 22l1.3 3.1M423.6 17.3l5.4 1.6M452.1 38.2l3 2.8M424.8 70l-4.3 .2M415.3 68.2l-4.3 2.2" stroke="#c0c3f0" stroke-width="6" stroke-linecap="round" stroke-opacity="0.5" fill="none"/>
<path d="M393 23.2l4.1 2.7M439.6 15.3l.5 2.8M426.1 26.1l2.3 .6M439.5 27.4l2.5 .5M440 30.1l1.7 1.2M420.5 63.8l-5.6 1.9M443.5 14.4l-4.7 1.5M401.2 45.4l-1.3 2.4M435.3 41.7l2.1 2.2M451.7 32.7l-3.4 2.5M408.1 76.6l-2.4 .1M399.6 68.1l2.8 .2M400.9 20.7l-3.8 2.5M435.6 23.5l-3.6 .9M395.8 28.9l-4.4 1.9" stroke="#c6c9f6" stroke-width="4" stroke-linecap="round" stroke-opacity="0.5" fill="none"/>
<path d="M432.3 16.4l-.7 2M406.4 61.4l-2.6 1.4M413.5 81.5l.9 2.5M429.5 55.3l1.7 1.9M456.2 56.4l1.8 1.3M412.2 15.1l.9 2.4M445 20.5l5.5 .6M393.6 59.9l2.3 3.6M452.1 28.4l.3 3M414.4 11.3l.2 2.4M411 78.1l-1.8 1.6M436.3 23.9l-3.1 4.4M386.4 45.4l1.8 2" stroke="#c6c9f6" stroke-width="6" stroke-linecap="round" stroke-opacity="0.5" fill="none"/>
</g>
<path d="M428.1 6.5l.5 .6M385.1 33.4l.5 .7M405.7 9.3l0 .5M404.2 27.2l.4 .2M433.5 26l-.3 .5M419 43.8l.4 .8M412.2 64.4l-.5 0M440.1 41.5l.9 .7M422.3 64.5l.6 .8M414 22.6l.4 .3M449.6 34.3l-.1 .5M428.8 66.6l.8 .6M447.7 19.1l-0 .5M428.6 40.4l-.7 .6M419.7 72.5l-.2 .4M383.7 49.2l-.8 0M424.4 20.4l.5 .9M445.2 56.9l.5 .8M446.7 47.9l-.4 0M425.7 27.9l1.2 .5M408.7 70l.4 .8M449.2 72.2l-.2 .3M390.7 53.8l1 .7M408.6 15.3l-0 .3M394.9 52.1l-.5 .1M393.9 41.1l-.2 .6M389.8 25.8l1 0M425.5 7.6l.2 .2M418.7 61.9l-0 .3M435.4 70.2l-.3 .4M435.4 42.4l.5 .6M427.4 41.6l-.3 1M394.2 70.6l.3 1M400.1 38.6l-.2 .8M414.9 78.3l.1 .4M423.9 25.6l.9 .8M436.2 51.1l-.5 0M410.5 53l-.7 .5M411.8 8l.2 1M430.6 53.1l-.1 .4M423.1 20.2l0 .7M429.4 37.4l-.7 .9M424.1 40.3l-.5 .2M420.3 14.6l-.4 .1M430.3 54.6l1.2 .3M412.1 34.8l.5 .5M388.4 48.7l-.3 .2M448.2 36.5l.3 .8M426 56.2l.4 .2M405.5 48.3l-1 .7M410.2 24.8l.4 .4M415.2 15.8l.6 .4M428.3 23.7l.3 .9M406.4 26.7l-.9 .4M459.6 40.4l.1 1.2M432.1 38.5l1.1 .6M396.3 56.6l0 .3M417.4 73.2l.2 .9M410.6 41.7l-.6 .8M411.4 20.3l-.3 .5M451.9 44.2l-.5 .2M399.5 27.7l-.2 .6M411.5 39.1l.8 .9M388.1 49.6l-.3 .3M436 37.8l-.8 1M416.7 44.8l.5 .4M432.3 37.1l1 .5M438 21.3l-.4 1.2M413.4 15.7l1.2 .3M423.5 37.7l1.2 .4M429.3 82.5l-.6 .2M436.3 25l-.2 .2M429.9 39.3l1.2 .3M432.4 38l-.2 .9M423.5 76.3l.4 .4M396.5 15.9l-1.1 0M415.3 45.4l-.5 .3M439.9 39l-.4 .7M408.7 35.9l-.8 .4M418.6 24.1l1.2 .3M443.9 61.1l.8 .7M439.8 48.1l-.8 .4M433.8 50.3l.7 .4M438.6 39.3l.3 .8M425.3 7l-.3 1.2M449.1 56.8l0 .5M426.9 49.5l.4 .6M415.8 20.6l.5 .5M427.9 36.5l.7 .3M384.1 51.3l-.4 1.2M392 35.7l.2 1.2M385.1 53.4l-.3 .2M450.4 42.7l-0 .5M434 38l-.8 0" stroke="#7b80cb" stroke-width="1.0" stroke-linecap="round" stroke-opacity="0.72" fill="none"/>
<path d="M414.4 79.4l-1 0M456.1 42.3l-.2 1.3M416.9 31.4l-.5 0M411.6 14.5l-.3 .5M395.8 55l-.9 .1M400.2 24.8l.4 .2M430.6 24.7l.2 .8M403.9 38.4l0 .5M451.2 60.5l.7 .2M446.8 14.9l-.5 .1M440.1 52.1l-.5 .5M427.5 43.3l-.1 .5M408.4 10.1l.1 1.2M412.2 68.5l.8 .7M412.2 10.9l-.5 1M411.5 36.2l-.4 .5M416.3 34.5l-1.1 0M400.7 12.9l-.5 .3M452.3 36.8l.3 0M399.9 36l-.2 .2M417.3 33.1l1.2 .3M441.5 47.1l.2 .6M390.1 65.6l0 1.2M392 38.6l.4 .3M428.1 15.1l.3 .5M398.3 25.7l.4 .4M427.3 9.9l-.6 .7M390.6 25.4l.6 .7M432.4 32.8l.3 .1M400.2 71.1l.3 1M413.5 41.5l.3 .8M422.9 39.7l.6 .1M417.9 36.9l-.5 .1M437.9 48.7l.6 .5M453 56.7l-.5 .6M416.7 51.4l-.8 .4M426.2 19.5l.4 .1M446.8 18.1l.4 .9M438.2 18.2l-.9 .4M449.1 38.9l-.3 .7M439.1 35.1l-1.2 .3M412 56.8l-.6 .7M428.8 35.5l.3 .5M453.5 53l-.9 .7M422.2 37.4l-.3 .4M438.5 17.7l.1 .4M437.5 66.4l.5 0M442.8 67.1l-.6 .7M421.4 27.6l-.1 1M422.4 17.8l-.9 .1M392.2 25.5l.2 .4M442.3 64.2l-.6 0M437.5 22.6l-.5 .2M447.4 16l-1 .6M424.7 31.5l.9 0M425 9.3l.7 .6M432.7 56.3l-.9 .9M407 11l.6 .4M417 17.6l1 .3M417.1 40.9l1.1 0M438 27.7l.1 .6M394.1 35.2l.1 .6M437.1 20.6l-.6 .7M422.7 62.3l.4 1.1M406.2 50.2l1.1 .3M390.8 66.2l-.9 .1M399.6 24.2l.4 .6M389.6 65.3l-.2 .6M392.3 44.9l.6 .3M427.2 42.5l-.8 .6M403.7 57.7l-1.1 .3M434.2 66.6l-.4 .3M403.7 32.5l-.5 .6M442.8 16.4l-.8 .5M415.2 78.5l-.5 .2M437.8 47.8l-.7 .5M408.1 60.2l-.5 .1M407.8 12l1.1 .5M400.1 17.7l.7 1M419.9 10.6l-.1 .5M397.9 22.2l.6 1M388.5 24.7l-.3 .3M433.5 80.5l-.4 .2M449 18.3l.3 .1M433.8 15.4l-0 .9M437.1 30.7l-.2 .7M395 62.5l-1.1 .1M415.7 45.2l-.2 .7M386.8 32.5l-.4 .3M423.4 5.7l-.6 1M442.6 45.6l-.3 .4M404.2 36.3l-1.1 .6" stroke="#7b80cb" stroke-width="1.3" stroke-linecap="round" stroke-opacity="0.72" fill="none"/>
<path d="M427.3 41.5l.8 .3M440 22.9l.7 .2M429.9 50.7l-.8 .6M404.1 26.6l-.1 .8M420.7 6.8l-.8 .1M437.4 55l.5 .3M409.2 62.3l1 .5M404.9 17.2l-.5 .1M387.4 37.6l-.8 0M455.6 37.5l.3 .3M420.7 7.7l-.7 .1M443.7 16l0 .9M405.3 60.3l-.4 .1M399.5 56.1l.2 .7M424.2 15.4l.4 1M456.7 34.4l-.6 .3M431.9 54.4l.4 .3M425.9 9.9l-.1 .3M432.9 23.7l-.7 .7M423.4 42.7l-.6 .2M448.3 58.2l.8 .1M419 46.7l-.4 .2M402.4 12l.4 .9M456.9 34.4l.8 .5M409.3 33.9l.1 .6M394.7 22.1l1.2 .3M439.1 36.8l.2 .3M437.6 29.4l.1 .9M416.6 51.6l.1 1.1M432.7 23.1l-.4 .9M408.8 72.2l-.8 .3M452 35.8l-.5 .6M396.4 27.6l.9 .5M430.8 56.4l-.7 .4M426.1 64.9l-.5 .8M429.6 32.9l-.7 .5M441.7 72.5l1 .4M426 17.2l-.1 .3M426.9 21.4l.5 1.2M420.5 14.8l-.4 .3M427.3 28.1l-1.1 .3M400.6 54.4l.1 .9M412.2 65.5l-.8 .5M398.4 61.5l-.7 .1M450.7 48.4l-1.2 .2M402.4 75.6l.3 .4M424.5 81.3l.1 .3M403.7 37.1l.6 .3M449.2 38.9l-1.3 0M442.7 40.1l1.1 .4M429.3 44.6l.3 .7M432.1 36.5l.7 .2M431.2 43.8l-.5 .3M426.4 79.8l-0 .5M384.4 53.2l.7 .5M449.2 61.1l.3 .6M430.6 61.9l-.1 .4M434 55.9l.8 .8M426.5 66.1l-1 .4M399.4 46.5l-.8 .9M396.8 51.3l-.7 1M441.2 78.3l-.7 0M399.4 50.2l-.4 .1M430.5 59.1l.3 .9M443.3 40.4l.3 .8M423.8 70.2l1.1 .4M411.3 36.4l-.2 1M443.2 14.3l-.9 .8M437.3 22.8l.5 .5M403.6 11.5l-.2 .2M409.7 69.1l.6 .1M397.8 73l-.4 .9M395.2 20.8l.2 .3M420.6 20.5l-.4 0M417.3 28.5l.3 1M415.2 77.4l-.2 .5M425.8 11.2l.4 0M410.8 12.6l-.2 .7M441.6 72.2l.4 .1M413 36l-.5 1M404.3 72l-1 .7M443.8 56l-0 1M416.1 28.5l.1 1M402.6 78.1l.3 .3M433.9 57.8l.8 0M450.7 18.2l-.2 .9M449.8 22.3l-.2 .7M422.4 22.8l-.5 0M435.1 50.8l.7 .4M394.6 70.6l.2 1M399.1 76.1l.4 1.1M443.7 59.1l-.3 .8M409.4 18.3l.6 .7M435.2 33l.8 .1" stroke="#898ed9" stroke-width="1.0" stroke-linecap="round" stroke-opacity="0.72" fill="none"/>
<path d="M397.7 25.8l-.5 .8M402.6 66.3l-.1 .8M411.5 76.7l.7 .7M431.3 56.8l.3 .3M411.3 72.9l.5 1.1M391.4 68.6l-.3 .1M425.8 81.1l.4 0M411.4 81.8l.9 .8M431.3 27.3l.6 1M395.2 39.5l.1 1M439.7 77.3l-.2 1.2M399.2 71.6l1 .2M443.3 47.6l0 1.1M421.4 45.6l.2 .4M412.5 54.7l.5 .9M406.5 74.6l.2 .5M422.1 48.5l.4 .1M429.3 38.5l-.9 0M449.6 67.5l.6 1M422.8 64.5l-.4 .3M418 31.1l.8 .3M455.2 23.5l-.2 .8M416.5 17.2l-.1 .8M404.4 73.7l0 .9M456.4 33.5l-.3 .2M406.4 9.3l-1.2 .4M426.3 81.1l.1 .4M420.7 19.6l.1 .4M443.9 51.1l.5 .5M452.8 65.2l1.1 .6M429.3 56.7l-.3 1.1M429.1 20l.4 1M409 78.4l.3 .2M439.1 32.9l-0 .3M422.2 21.2l-.4 .4M440.5 20.4l.8 .1M446.2 50.9l.2 .4M439.9 43l.4 0M397.3 47.3l-0 1.3M438.7 18.9l-.7 .6M423.5 38.6l-.3 .2M395.5 36.5l.4 1M432.7 8.7l.3 1M449 24.1l.4 .2M429.8 14.3l.4 1M444.7 26.6l-1 .3M428.9 33.5l-1.1 .5M427.8 37l-1.2 .1M437.3 46.4l.3 .2M433.1 41.9l-.8 .4M428.5 52.4l.2 1.2M460.3 34.8l.4 .9M451.7 34.6l-.2 .5M435.8 24.6l.3 .5M434.2 61.6l-.5 .7M440.9 52.1l.1 .4M409 20.2l-.1 1.2M409.8 74.6l.4 .2M415.4 67.1l-.7 .7M433.3 64.6l.1 .8M427 34.9l-1.2 .1" stroke="#898ed9" stroke-width="1.3" stroke-linecap="round" stroke-opacity="0.72" fill="none"/>
<path d="M447.5 21.3l.7 .1M409.8 31.5l-.1 .6M419.7 32.8l-.7 .6M387 47.6l-.1 .5M441.9 31.6l-.3 .9M438.2 16.6l.2 1.2M391.6 28.5l.7 0M402.7 62.5l.3 1.2M446.9 19.2l1 .4M398.9 48.9l.1 1.2M423.1 73.9l.7 .4M446.8 14.1l.9 .5M441.4 19.1l.9 0M393.6 31.2l1 .5M437.7 36.4l.1 1M418.3 21.1l.4 .3M414.4 8l.1 .8M439.5 46.6l-.4 .4M433.1 57.3l-.6 .7M444.8 12.8l-.7 .4M401.6 50l-1.1 .5M392.4 23.8l-.6 1.1M442.6 21.4l-.9 .2M435.9 40.2l.7 .5M389.6 46.2l.6 1.1M428.9 33.7l-.2 .8M418.8 75l.4 .4M436.1 74l-.4 .3M407.1 26.6l.7 0M412.6 54.7l.5 .3M424.9 25.3l-.4 0M419.9 37.4l.9 .5M438 50l.8 .2M444.8 56.2l-.3 .5M426.8 15.7l-.1 .4M457.4 32.9l.5 .3M451.2 25.6l-.3 .6M436.9 24.4l.9 .8M408.3 67.2l-.5 .4M409.8 49l-.3 .2M451.3 42l.2 .3M428.9 62.4l-1.2 .2M413.6 19.9l-.6 .6M420.9 22l0 .3M457.1 37.8l.3 .2M441.5 45l-.4 .1M426.2 80.2l.3 .2M439 28.9l.8 .3M445.4 32.1l.2 1M447.7 49.1l.9 .3M389.6 59.4l-.2 .3M426.5 71.2l.3 .4M420.1 25.4l.7 .5M387.8 39.2l-.4 .6M438 20.2l.1 .3M390.7 30.7l-.5 .4M460.4 39.4l.5 .3M421.9 73.8l.1 .3M457.4 52.5l-.6 .5M395.9 55l.2 .3M427.4 38.8l.3 1M427.2 71.5l.2 .2M432 32.2l.4 .7M445 14.4l1.2 .3M443.8 26.1l-.7 .9M418.1 19.9l-.7 .5" stroke="#989de8" stroke-width="1.0" stroke-linecap="round" stroke-opacity="0.72" fill="none"/>
<path d="M405.6 64.4l-1 .5M443.4 67.9l-.5 .9M416.3 69.9l.6 1M448.4 43l.8 .9M413.8 27.1l-.4 .4M441.3 59.9l-.5 .6M431.8 7.8l.3 .2M417.5 64.1l-.4 0M451.9 48.6l-.6 .5M418.6 41.9l.5 .1M422.9 73.3l1 .4M440.2 12.5l-.8 1M391 32.7l1 .6M431.1 48.8l.5 .7M422.9 16.5l.5 .6M400.2 66.8l.8 .1M405 26.6l.3 .6M405.3 35.8l.4 .6M410.2 12.9l-.4 0M401 20.2l.4 .5M429.1 41.4l-.2 .2M421.4 30l.2 .5M444 61.1l-.1 .8M446.1 18.8l-.7 .4M427.5 29.4l0 .5M423.7 71.1l-.7 .7M437.9 17.9l-.4 .2M430.9 11l.9 .7M441.6 32.8l-.5 .2M456.8 29.6l-0 .6M435.9 26.9l-.1 .4M424.3 69.5l-.2 .8M410.5 58.8l.6 .6M435.4 48.8l-.1 1.2M426.1 27.3l-.6 .4M386 30.1l-.5 0M434.8 15.8l.2 .4M436.4 21l-.6 .4M402.8 28.3l-.8 1M416.8 51.2l.7 .2M404.9 35.3l1.1 .3M412.7 62.4l.3 .5M416.9 38.6l-.5 .2M421.2 22.1l-.3 0M429.3 62l.6 .6M396 54.6l.2 .3M446.2 30.8l.9 .5M454 33.8l0 .9M425.9 13.9l.3 .1M411.1 38.8l.6 .6M426.8 24.2l-.8 .8M391.1 66.1l.3 .3M449.1 39l-.2 .5M386.5 39.7l1.2 .3M449.7 17.2l-.5 .5M424.8 26.1l-.4 .2M442.7 24.2l-.1 .8M388.2 30.1l-1 .7M409.4 34.3l-.4 .2M444.2 55l-1.1 .5M455.8 57.7l-.2 .6M437.8 63.3l0 .9M425 30.1l.4 .1M436.3 11.5l.6 .4M417.7 52.5l-.5 1.1M414 81l-.6 .9M415.3 75.6l.2 .9M413.2 77.7l-.3 0M412.9 66.2l1 .2M454.5 27.7l-.6 1M425.7 82.2l-1 .6M455.1 25.3l.5 .5M426.6 55.7l-.4 .1M395.5 25.7l.9 .7M439.7 41.1l.2 .7M409.4 19.8l.2 .4M404.8 16.4l-.1 .8M403.9 62.5l.1 .3M409.4 76.5l.8 .4M447.9 21.1l.8 .8M430 34.8l.2 .5M411.1 48.7l-.6 .4M415.4 6.3l.2 .7M407.1 11.9l.4 .8M394.4 17.1l.2 .2M395.6 67.7l.3 .3M416.5 30.2l.5 .4M445.3 13.9l-.5 1M451.5 28.7l.8 0M395.6 45.3l.3 .1" stroke="#989de8" stroke-width="1.3" stroke-linecap="round" stroke-opacity="0.72" fill="none"/>
<path d="M406.7 26.6l-.4 1.1M456.1 38.9l.5 .5M384.9 49.1l-.5 .9M445.7 40.5l-.9 .2M449.5 53l-.8 .9M406.6 14l-.3 .5M435.7 72.4l-.4 .6M450.5 19.6l.4 .1M398.7 28.5l.7 .1M417.3 65.5l-1 .8M440 37.5l-.3 .6M405 22.5l.3 .2M417.5 36.8l-1 .6M442.9 40.8l.4 .7M449.2 48.3l.3 .6M449.2 33.9l.5 .9M420.3 34.3l.1 .5M433.3 44.8l-.2 .5M436.6 24.9l.3 .6M413.7 20l.5 .3M422.5 21.5l-.3 .1M413.1 24.1l-.7 .8M419.6 78.7l.1 .9M451.4 35.7l-1.1 .6M421.7 46.1l-1 .2M441.5 33.8l.2 .5M450.8 45l-1.2 .1M393.8 49.4l.5 .3M410.3 22.4l-.4 .4M413.6 24.9l-1.2 .4M388.4 50.6l-.6 .3M417.1 59.7l1 .7M411.8 38.1l.3 .9M408.9 70.1l-.4 .5M423.8 36l.2 .9M424.6 24.2l-1.1 .4M446.8 38.6l-.3 .6M411.7 81.7l.1 .5M439.1 39.8l-.3 .4M405.7 25.6l.6 .9M409.1 71l-.5 .3M424.4 8.1l.5 .5M385.5 51.9l.2 .3M442.6 21l.4 .6M392 46.1l-1.2 .4M442.3 61.7l.6 .1M437.9 51.7l-.5 .8M427.4 8.4l.3 .1M443.4 68.6l-.4 0M426.9 12l-.1 .5M443.9 40.1l-.7 .3M393.2 28.5l1.2 .4M428.5 26.8l.2 .4M438.8 22l-.8 .5M429.4 37.4l-.2 .4M405.2 31.1l-1.1 .4M419.4 65.3l1.1 .3M440.5 25.4l1.3 .1" stroke="#a7acf7" stroke-width="1.0" stroke-linecap="round" stroke-opacity="0.72" fill="none"/>
<path d="M417.6 13.4l.6 .9M419 20l-.2 .3M400.6 11.6l-.5 .9M433.7 38.5l.4 .3M451 34.4l-.6 .7M402.4 20.1l.5 .2M392 59.8l1 .3M416.3 31.5l.7 .4M430.8 10.5l1 .1M443.2 12l-.5 .3M441.5 52.8l.7 .7M431.4 31l-.8 0M429.6 33.1l.6 .9M415.2 34.6l-1.2 0M450 32.6l.2 .6M433.4 58.7l-1 .4M436.5 36.6l-.4 .6M406.1 63.1l.3 .7M414.6 14.2l.1 1.1M416.7 79.1l.2 .8M447.6 28.8l-.4 0M427.8 35.3l1.2 .3M403.7 13.8l.4 1M415 11.5l.4 .2M432.9 9.4l.9 0M414.7 7.6l.7 .5M445.2 39l-.7 .9M431.9 18.5l0 .5M430.8 14.3l-.2 .7M389.4 24.7l0 1.1M416.9 24.1l-.5 .9M386.6 53.3l.2 .9M384.8 49.2l-1.1 .5M392 29.9l.6 .9M421.5 83.7l-.4 .3M396.2 28.1l0 .6M424.9 22.2l-.5 .9M441.6 33.8l-.3 .3M444.8 48.6l.3 .4M427.8 39.1l-.7 .4M438.4 32.2l-1.1 .4M423.5 30.3l-.9 .2M450.2 33.9l-.6 .6M424.9 6.7l-.4 .1M389.9 53.6l-.7 .2M396.6 52.1l-.8 .5M425 42.3l-.5 0M456.8 33l1 .1M436.2 29.4l.4 .9M425 9.1l1.1 .2M432.3 54.1l.3 1M401.4 61.7l.4 .8M454.3 52.3l-.7 .4M432.6 46.4l-.8 .4M414.7 68.1l-.9 .5M419.9 60.4l-.2 .4M427.5 11.4l-.8 .1M426.5 24.7l-1 .5M396.1 71.5l-.7 0M401.7 34.2l-.6 .6M419.7 56.2l.5 .8M442.8 34.9l.2 .5M400.1 71.2l-1.3 .2M447 42.1l-.8 .6M414.6 74.9l-1.1 .7M427.6 8.8l.8 .9M455.6 34.4l.2 1.3M449.9 18.3l1.1 .3M421.7 42.7l-.8 1M404.1 54.8l-.2 .9M438.4 32.3l-1 .3M403.4 31.1l.5 .1M436.1 54.3l-.3 .4M406.6 65.1l-.3 1.2M424.6 43.9l-.4 .4M410.5 37.6l1.2 .2M429.9 32.4l-1.1 .4M411 40l1.2 0M426.9 67.6l-.4 1M433.3 26.4l.1 .8M398.6 21l.4 .7M441.3 29.1l-.9 .8M438.6 32.6l.4 .3M405.5 27.8l.5 .2M445.7 39.2l.2 .6M448.3 29.2l.9 .3M413.4 79l-1.2 .5M422.4 18.8l-.3 .9M424.7 17.3l.1 .9M412.7 29.1l-1.2 .4M412.6 26.1l-.4 .8M410.7 37.1l.3 1.2M452.5 23.5l-.8 .2M435 22.5l.3 .1M422.7 53.7l.4 .8" stroke="#a7acf7" stroke-width="1.3" stroke-linecap="round" stroke-opacity="0.72" fill="none"/>
</g>
</g>
<clipPath id="cc6"><circle cx="501.3" cy="44.7" r="39.3"/></clipPath>
<g clip-path="url(#cc6)">
<g filter="url(#bl2)">
<rect x="459.0" y="2.4000000000000057" width="84.6" height="84.6" fill="#dcd5cf"/>
<g filter="url(#bl1)">
<path d="M464 62L478 66L494 71" fill="none" stroke="#cfb0ac" stroke-width="10" stroke-linecap="round" stroke-linejoin="round" stroke-opacity="0.55" />
</g>
<g filter="url(#bl1)">
<path d="M464 62L478 66L494 71" fill="none" stroke="#bfb2c8" stroke-width="4.5" stroke-linecap="round" stroke-linejoin="round" stroke-opacity="0.6" />
</g>
<path d="M516.4 78.9l-.3 .3M466.7 61.4l.9 .1M468 62l-.4 .4" stroke="#a7615c" stroke-width="1.1" stroke-linecap="round" stroke-opacity="0.6" fill="none"/>
<path d="M480.9 70.5l-.9 .2M493.4 74.2l-.9 .4M502.7 79.2l.3 .5M490.4 73l-.1 .5M496 37.4l-.2 .4M476.6 67.3l-.5 .6M502.1 79.8l-.1 .4M514 80.5l.3 .9M493.3 67.6l.6 .6M471.3 67.1l-.5 0" stroke="#a7615c" stroke-width="1.4" stroke-linecap="round" stroke-opacity="0.6" fill="none"/>
<path d="M491.5 70.9l-.5 .4M467.9 63.2l.4 .4M491.1 36.4l.3 .6M480.9 65.6l.7 .4M497 69.3l.5 .8M487.6 36.4l.6 .4" stroke="#b36d68" stroke-width="1.1" stroke-linecap="round" stroke-opacity="0.6" fill="none"/>
<path d="M481.1 37.7l.8 .1M491.9 37.5l-.6 .4M485.9 36.9l-.6 .6M494.8 72.2l0 .7M468.2 62.9l.6 .6M466.6 57.5l.4 .3M491.4 69.1l.5 0M484 70.8l-.9 .3" stroke="#b36d68" stroke-width="1.4" stroke-linecap="round" stroke-opacity="0.6" fill="none"/>
<path d="M476.6 70.5l-.9 .1M501.6 80.9l.3 .2M497.4 81l-.3 .6M480.8 64.2l-.2 .5M494.4 36.9l.6 .1M473.6 68.8l.4 .5M492.9 73l.6 .2M473.2 63.1l-.4 .7M479 39.4l.1 .7M487.3 66.5l-.1 .4M480.1 61.2l.2 .6M479.4 67.6l-.5 .2" stroke="#bf7974" stroke-width="1.1" stroke-linecap="round" stroke-opacity="0.6" fill="none"/>
<path d="M482.9 37.5l-0 .9M479.7 68.8l-.4 .4M469 62.1l.6 0M475.3 64.3l.5 .2M494.3 37.4l.3 .9M493 71.1l.1 .8M489.1 38.5l.3 .9M507.7 81.7l-.2 .3M472.3 67.9l.1 .6M470.7 36.9l.1 .4" stroke="#bf7974" stroke-width="1.4" stroke-linecap="round" stroke-opacity="0.6" fill="none"/>
<path d="M493.8 79.5l-.8 .4M486.8 70.2l.3 .2M468.9 35.2l.6 .2M495.4 69.8l-.3 .7" stroke="#cb8580" stroke-width="1.1" stroke-linecap="round" stroke-opacity="0.6" fill="none"/>
<path d="M494.9 74.5l-.3 .2M485.4 72.2l-.5 .2M503.7 79.2l-.4 .5M487.4 73.7l-.4 .6M496.3 79.4l-.4 .5M472.5 36.9l.8 .4M480.9 65l.2 .3M494.1 82l-.5 .5M475.3 61.8l-.5 .6M465 60.8l-.6 .6M484.1 72.9l.1 .4" stroke="#cb8580" stroke-width="1.4" stroke-linecap="round" stroke-opacity="0.6" fill="none"/>
<path d="M480 14L480 25L488 32L500 34L505 40L512 45L519 47" fill="none" stroke="#c68a68" stroke-width="6.5" stroke-linecap="round" stroke-linejoin="round" stroke-opacity="0.85" />
<g filter="url(#bl1)">
<path d="M480 14L480 25L488 32L500 34L505 40L512 45L519 47" fill="none" stroke="#a592b5" stroke-width="2.73" stroke-linecap="round" stroke-linejoin="round" stroke-opacity="0.85" />
</g>
<path d="M497 9L502 16L512 21L519 26L523 30L526 23L521 15L514 11" fill="none" stroke="#c68a68" stroke-width="5.5" stroke-linecap="round" stroke-linejoin="round" stroke-opacity="0.85" />
<g filter="url(#bl1)">
<path d="M497 9L502 16L512 21L519 26L523 30L526 23L521 15L514 11" fill="none" stroke="#a592b5" stroke-width="2.31" stroke-linecap="round" stroke-linejoin="round" stroke-opacity="0.85" />
</g>
<path d="M461 44L475 48.5L490 51L505 50L514 47.5L523 43" fill="none" stroke="#c68a68" stroke-width="11" stroke-linecap="round" stroke-linejoin="round" stroke-opacity="0.85" />
<g filter="url(#bl1)">
<path d="M461 44L475 48.5L490 51L505 50L514 47.5L523 43" fill="none" stroke="#a592b5" stroke-width="4.62" stroke-linecap="round" stroke-linejoin="round" stroke-opacity="0.85" />
</g>
<path d="M536 47L530 54L533 63L539 67" fill="none" stroke="#c68a68" stroke-width="4.5" stroke-linecap="round" stroke-linejoin="round" stroke-opacity="0.85" />
<g filter="url(#bl1)">
<path d="M536 47L530 54L533 63L539 67" fill="none" stroke="#a592b5" stroke-width="1.89" stroke-linecap="round" stroke-linejoin="round" stroke-opacity="0.85" />
</g>
<path d="M536.5 47.5l-0 .6M476.9 19.5l.8 .2M491.3 45.2l-.8 .8M506 54.3l.3 .8M497.4 34.1l-.3 .2M524.7 38.6l-1.1 .5M468.6 46.5l.1 1.2M492 50.9l0 1.1M467.2 51.3l-.4 .2M482.8 22.1l-.9 .2M479.3 28.8l1 .4M516.9 13.6l.9 .7M512.1 45.9l.7 .2M480.3 25.6l.4 1.2M506.9 46.7l.5 .3M477.1 15l.1 .9M507.9 16.9l.6 1.1M499.3 49.8l.4 1.1M494.7 32.2l.7 .4M499.9 45.6l-.8 1M480 26.1l-.5 .5M488.9 35.3l1 .2M466.8 50.7l-1 .3M480 18l-.4 0M518.4 46.3l-.3 .7M530.2 56.7l-.4 .8M489.1 47.2l-.3 .8M463.5 45.9l.3 .4M488.1 34l.2 1.1M526.2 38.1l-.9 .2M485.4 28.9l-.1 .4M464.4 47.1l-1.2 .5M532.4 56.9l-.3 .3M520.2 47.9l.3 1M497.8 47.8l.7 .5M477.9 47l.3 1.2M494.6 54.2l.1 1.2M478.8 47.6l.9 .7M464.9 50.3l.6 .1M491.9 52.1l-.5 .5M536.9 44.9l.3 .5M520.3 23.9l.5 .9M499.6 16.2l.3 .9M515.8 41.2l-.3 1.3M483.4 15.7l-.9 .1M511 50l1.2 0M523.5 18.1l.4 .5M519.8 13.9l-.4 .2M482.5 54.6l.4 .8M515.4 11.5l-1.2 .2M500.1 34.6l-.3 .7M510.2 53.6l-.1 .8M496.9 35.1l.4 .9M490.2 29.8l-.5 .1M517.1 10l.6 .1M490.1 35l.2 .8M508.3 17.8l1 .8M533.1 52.5l-.5 .1M518.9 14.5l.1 .5M522 43.7l-.6 .1M509 18.9l.8 .9M510.2 40.2l-.4 1.2M476.4 44.6l-.6 .4M508.1 45.9l-.2 .5M509.3 18.3l.2 .5M502.4 34.2l-.8 .6M521.4 43.5l.4 .9M514 13.9l.5 .3M507.5 45.3l.8 .1M509.2 38.7l-1 .4M472.3 48.2l.3 .6M522.3 26.4l.8 .9M496.9 35.6l.9 .3M488.2 55l-.9 .4M464.3 45.8l.6 .7M522.1 27.3l1.3 .1M517.4 13.2l-.1 .7" stroke="#944222" stroke-width="1.1" stroke-linecap="round" stroke-opacity="0.75" fill="none"/>
<path d="M486.1 28.2l-.5 .9M520.9 49.4l-.2 .5M506.4 50.1l.2 .5M530.9 60.8l-.5 .3M510 53.3l.6 .5M520.8 19.9l1.2 .1M510.9 45.2l-.3 .6M530.5 54.2l-.1 1.2M518.8 12.5l-0 .8M472.8 51.4l-.9 .4M471.4 44.7l-.5 .2M484.1 48.5l-1.1 .6M536.4 49l-.3 .4M478 51.7l-1.1 .4M524.2 44l.5 .5M504.9 42.4l.7 .2M495.3 54.3l.8 .8M490.9 48.3l-0 .7M502.4 45.9l.4 .4M483 17.7l-.3 .9M524.6 23.9l.5 .1M487.5 31.5l-1 .8M516.5 26.4l.2 .9M519.6 27.1l.4 .3M532.6 61.6l-.3 .5M475.4 51.7l-1.2 .1M520.6 39.7l.6 .5M522.4 47.1l.8 .2M517.3 21.6l.1 .9M492 55.1l-.3 .4M496.3 10.9l1 .5M506.4 45.5l-1.1 .1M464.3 40.9l0 .8M488.7 46.4l-.8 .2M529.9 54.3l.5 .8M478.8 23.3l-1.1 .7M479.4 53.6l.3 .8M478.9 15l-.5 1M498.5 13.9l.1 .7M500.6 32.4l-.9 .8M531.8 58.3l.6 .6M488.3 32.6l-.4 .2M502.7 54.1l1 .2M516 14.6l.1 .5M520.8 12.9l.4 .8M493.9 54.7l1.1 .3M483.3 53.5l-.1 .8M508.5 21.7l-.5 .3M496.5 11.3l-.5 .2M511.5 50.4l-.5 .3M505.7 18.7l.2 1M507.5 20.9l-.6 .4M519.3 41.5l-.5 .2M500.5 16.6l.5 .6M504.5 47.6l-.6 .1M495.8 53.6l-.6 .5M511 44.3l1 .6M488.7 50.9l.5 1.1M493.1 45l.4 1.2M516.8 21.5l.7 .9M493.6 48l.9 .1M509.7 50.3l-.3 .4M505.5 49.5l.2 .7M520 46l-1.2 .4M476.8 47.4l.2 1M518.6 10.6l.6 .8M476.6 53.6l-1.1 0M506.6 19.8l-.7 .5M509.7 21.8l-.6 .4M461.8 47.3l-.3 .3M482.8 13l-.3 .5M508.7 50.3l.8 .5M464.6 49.1l1 .3M508.4 16.6l.8 .3M501.9 53.2l.5 .3M489.9 55.3l.2 1.2M515.6 9.8l-.1 .7M511.9 23.3l-.6 .2M520 30.2l-.4 1M518 11.3l-.5 .4M498.6 53.4l.4 .1M504.8 34.8l-1 .4M481.6 13.3l.5 .1M482.5 51.4l-.7 .6M503.6 53.3l-1 .4M489.2 52.5l.3 .9M479.4 16.6l-1 .6M501 50l.8 0" stroke="#944222" stroke-width="1.5" stroke-linecap="round" stroke-opacity="0.75" fill="none"/>
<path d="M479.7 23.8l.3 .8M499.6 33.5l-.2 .5M524.6 30.1l-0 .4M525.8 40.2l.3 1M500.5 36.3l.5 1M531.7 55.7l-.7 .4M516.2 46.2l1 .8M526.2 29.2l-.3 .4M501.3 13.3l-.1 .8M481.8 11l-.5 .5M526.3 45.9l.3 1.1M466.6 44l-.6 .6M468.3 47.6l-.7 .5M486 53.5l1.2 .1M506.2 38.6l.7 .1M534.6 65.8l.7 .2M512.6 23.2l-1.3 0M498 13.5l.4 .8M500.5 34.1l0 .7M527.4 40.3l.1 1M506 39.4l-.3 .3M506 52.9l-.6 1.1M476.9 20.1l1 .1M516.3 10.4l.8 .6M497.4 7.6l-.4 .7M473.6 53.1l-.3 1.2M493 35.2l-.6 .1M487.1 33l.2 1M480.3 16.1l.4 .7M481.3 47.7l-.1 .4M530.1 51.1l-.3 1M522 48.3l-.4 .3M481.4 21.7l.3 .6M528.9 23.6l-.4 .1M478 43.9l-.6 .4M476.2 52.6l-.7 .1M492.5 47.5l.4 .3M501.5 38.2l1 .1M536 46.4l-0 .6M511.9 22.3l-.6 1.1M522.6 44.5l-.6 .1M467.3 40.8l.4 .5M503.6 45.3l1 .4M512.1 12.5l0 .6M521.7 13.8l-.5 .9M501.3 45l-.5 .7M474.2 47.1l.7 .2M523.2 16.2l-.5 1M507.3 16.7l-.7 0M520.7 48.2l1.1 .4M488.4 31.1l1 .1M487.7 55.2l1.2 0M481.9 48.1l.3 .5M486 54.7l.1 .8M520.4 29.2l.9 0M526.9 24.1l.4 .7" stroke="#a45232" stroke-width="1.1" stroke-linecap="round" stroke-opacity="0.75" fill="none"/>
<path d="M483.4 18.5l-.8 .3M464.6 39.1l-.1 .9M516.7 41.5l1 0M496.2 49.3l.4 .2M504.5 16.4l-.4 .4M472.5 47.6l0 .4M496.4 52.4l.3 .8M521.2 41l.1 1.2M513.7 13.8l.3 .5M473 43.8l-.6 .7M511.5 19.8l.4 .6M463.1 39.7l-0 1.1M472.4 44.2l.8 .9M525.8 26.4l.7 .7M496.7 47.8l1.2 0M490.2 50.7l.5 .7M462.9 44.1l.5 .7M472.6 47.2l-.4 .1M511.9 52.1l-.4 .8M489.2 32l-.5 .4M510.8 48.1l-.7 .4M522.3 28.3l-1.1 .2M478.3 12.3l.3 .6M509.9 52.2l.7 .6M464.6 39.8l-.4 .2M496.6 49.7l-.7 .6M521.6 38.9l-.1 .6M531.6 63.9l.4 0M517.9 44l.4 1.2M513.5 23.8l.9 .7M467.4 50.9l.6 .8M505.9 54.5l.2 .6M537.1 62.8l-.9 .4M513.4 45.9l.5 .2M485.8 51.1l-.2 .5M514.4 23.7l.6 1M463.6 39.8l.3 1.1M477.5 22.2l.4 1.2M477.2 46.6l-1.1 .2M524.2 23.8l-.4 .9M483.4 27l-.4 .7M503.5 14.6l-.5 0M520.4 45.8l-.4 .7M519.6 46l-.4 .4M511.7 53.2l-.5 1M475.3 49l.1 .7M482.6 49.1l-.5 1.1M513.5 24.5l.6 1M527 40.8l-.5 .1M493.9 50.1l.2 .4M492.3 35.2l-.4 .7M488.5 48.2l0 1.2M526.1 30.2l-1.1 .3M519.6 46.9l1.2 .4M493.8 33.9l-.4 .5M494.9 47.1l.9 .5M497.2 31.6l-.3 .6M517.6 11.5l0 .6M508.1 41.7l-.5 .4M508.3 16.5l.9 .1M518.9 21.9l-.2 1.1M499.6 8.7l.9 .6M518.5 46.8l.3 .5M500.9 54.5l.7 .1M487.8 55.7l-.4 .2M493.7 33.8l.7 .9M513.8 48.2l-.7 .4M526.1 42l.8 .5M511.5 19.5l.4 .4M501.2 13.8l-.4 .2M504.9 35.5l-.2 .9" stroke="#a45232" stroke-width="1.5" stroke-linecap="round" stroke-opacity="0.75" fill="none"/>
<path d="M510.5 44l.5 .1M483.7 32.6l.6 .3M481.3 19.8l1 0M518.5 50.5l-.1 .4M479.3 47.7l-.6 .1M529.7 53.8l1.2 .5M512.5 12.5l.5 .6M463.7 48.9l-.8 .1M531.7 50.8l.1 1.2M510.3 50l-.1 .5M475.8 51.6l-.1 .8M505.2 14.4l-.8 .9M482.4 50.2l-.3 .5M524.9 20.9l.8 .4M505.6 38.6l1.3 0M518.4 13.8l-.7 .3M493.5 33.1l.1 .9M493.3 30.4l-.1 .6M503.1 38.6l.3 .9M499.1 8.1l.7 .9M481.7 12.3l.5 .1M511.6 42.3l0 1M487.1 34.5l-.4 .6M491.2 47.6l.9 .1M506.5 45.2l.2 .4M462.8 39.6l.5 .2M467.5 47.3l.5 .4M528.7 52.4l-.3 .7M506.3 41.1l0 .6M518 42.1l-.4 1.1M470.6 47.9l.5 .1M510 17.4l-.5 .6M461.6 49.1l.5 .2M530.8 55.2l.7 .6M508.9 50.3l1.1 .1M478.6 26.8l.6 0M507.8 39.7l-.2 .9M514.7 48.6l.1 1M504.6 47.7l-.3 .4M521.3 12.1l-.5 1M516.8 44l.4 .1M521.2 13.7l.1 .9M513.5 11.2l-.2 .5M472.5 44.8l-1.1 .7M517 22.8l1 .1M504.3 39.3l.9 .4M510.4 43l.6 .4M471.3 48.3l.4 1.2M498.5 32.6l-.7 0M471.1 46l.5 .9M506.1 37.7l-1 .4M514.3 51.7l-.2 1M480 26.6l-1.1 .6M524.9 19.9l.4 .8M501.1 49.6l-.7 .2M500.9 46.5l-.8 .8M526.2 28.3l.1 .7M479.2 23.1l-.7 .4M499.7 55.1l.8 .6M495.2 6.5l.4 .9M477.1 23.1l-.3 1M490.9 35.4l-1.1 .5M510.9 43.4l.7 .3M497 12.3l1 .1M490.3 46.3l.6 .5M467 46.4l-.6 0M502.2 34.5l-.1 .6M501 9.8l-.5 .6M522.7 26.5l.5 .5M531.6 53.3l.1 .5M495.6 7.1l.5 .4M484.1 50.8l.6 1.1" stroke="#b46242" stroke-width="1.1" stroke-linecap="round" stroke-opacity="0.75" fill="none"/>
<path d="M514.7 11.6l.7 .2M492.9 52.7l.7 0M463.5 45.7l-.6 .9M500.3 36l-.6 .7M495.5 55.5l-.5 1.1M514.4 21.7l1.1 .5M472.9 50.4l-.1 .7M527.8 42.1l-.9 .9M472.7 44.2l-1.1 0M531.3 57.7l-.4 .4M464.7 50l.3 .5M524.9 19.9l.5 .8M522.9 18.4l1.1 .6M471.1 47.1l.3 .3M493 53.7l.6 .2M478 48.2l-1.2 0M470.3 44.5l.4 .9M486 49.8l-.8 .2M502.8 46.7l-.4 1M469.6 41.4l-1 .2M513.5 8.3l.9 .4M506.7 42.9l-.8 .1M476.2 44.7l-0 .9M514.2 50.7l.1 .5M523.1 48.4l-.3 .3M509.5 52.3l-.1 .4M528.4 43.3l-.5 .1M513.1 13.5l.5 .1M494.3 31.4l-.7 .3M524.8 21.9l.5 .1M481.7 52.5l1 0M519.5 42.6l-.2 .9M511.8 51.3l-.1 .6M502 17l.4 .3M511.6 11.4l.5 .4M502.6 39.8l.3 .4M492.3 30.9l.7 .5M521 49l-.4 1M486.6 29.5l.1 .4M526.3 38.5l.3 .7M483.1 15.3l-1 .2M518.7 28.4l-.3 .3M523.5 17.3l.1 1.1M484.4 28.4l1.2 .2M515.5 22.5l-.3 1M473.5 44.1l-.8 .2M475.1 44.5l-.6 .4M526.5 45.5l.6 .9M526.8 46.1l.4 .8M488.6 30.6l-.4 .7M526.6 46.1l.2 1M475.9 43.6l-.3 .9M506.2 19.6l-.4 .4M512.9 52.4l.4 .1M511.6 53.5l-.6 .6M521.9 37.4l-.6 .5M507.7 52.4l.2 .8M497.7 45.8l-.6 1" stroke="#b46242" stroke-width="1.5" stroke-linecap="round" stroke-opacity="0.75" fill="none"/>
<path d="M471 51.3l-.1 .4M487.6 49.9l-1 .4M512 22.4l1 .1M503.2 45.4l.7 .1M482.5 29.7l.9 .1M529.1 54.6l-.1 .9M473.6 50.9l.1 .6M517.9 48.8l-1 .6M502.2 15.3l.6 .3M504.9 35.4l.5 1.1M520.9 14.5l.2 .6M519.3 16.6l.3 .5M517.6 13.5l.8 .4M497.3 10.5l-1.2 .2M523.2 12.9l-.9 .4M461.3 48.7l.5 .4M473.5 49.5l-.4 1M522.2 39.1l-.3 .4M468.4 43.1l.4 .5M480.3 17.5l.1 1.1M481.2 50.1l-.3 .8M467.6 51l.1 .9M502.4 41l.6 1.1M471.3 48.5l-.8 .3M507.5 50.7l.1 .8M523.5 14.9l-1.1 .5M522.3 29.9l-.2 1.2M496.9 14l1 .3M467.2 45.7l.3 .4M518.5 12.8l.7 .1M512.3 46.4l.1 .5M518.7 22.4l-1 .1M473.3 42.7l-.4 .6M483.3 14.9l-.7 .7M481.3 20.7l-.8 .6M477.3 15.4l-.5 1.1M495.6 50.3l.5 .3M502.6 14.4l-.5 1.2M477.8 46.6l.1 .6M507.2 19.6l-0 1.2M523.3 30l.6 .4M496.8 46.8l-.4 .4M531.3 59.7l.1 .5M521.7 28.5l-.2 1.2M512.7 43l.4 .1M533.2 49.1l1.2 .2M509.3 51.7l.2 .4M532.2 50l.5 .7M508.7 21.7l.3 1.1M508.8 54.1l-.7 .7M487.2 54.3l1 .1M491.9 52.5l.5 .4M463.3 48l-.5 .3M489 45.8l.2 .4M519.2 39.7l-.8 .5M524.8 30.2l-1.1 0M481.6 44.2l-.7 1M479.3 50.6l-0 .6M485.1 47.9l.7 .3M516.5 13.5l-.8 .8M518.5 43.1l.4 .2M497 53.8l1 .1" stroke="#c47252" stroke-width="1.1" stroke-linecap="round" stroke-opacity="0.75" fill="none"/>
<path d="M512.2 9.8l.1 1.3M470.2 46.7l.7 .8M514 50.1l-.5 .6M497.1 51.9l-1.1 .6M503.8 37.3l.4 .2M528.6 55.4l-0 .5M511.6 48.1l1 .2M519.2 44.4l.5 .6M470.3 42.4l.1 1.2M488.1 32.4l-.5 .3M476.9 20.8l.9 .3M480 26.3l.5 .9M528.4 43.9l-.2 .9M465 44.2l-.4 .8M516.9 25.5l.2 .4M465.3 43.6l-.5 .8M514.9 22.4l.4 .7M476.9 46l.6 .7M509.4 48.9l-.7 .9M480.5 16.8l-.4 .5M510.3 43.8l-.8 .1M465.7 50.6l.3 .9M521.4 28.1l.8 .3M481.7 45l0 .5M486.4 54l-.9 0M489.8 51.9l-.2 .4M509.4 53.9l.1 1.1M483.7 52.8l.5 .6M482.6 21.2l-.3 .3M513.1 19.4l1.2 .4M529.7 51.4l.2 .8M490.2 55.5l.3 .5M527.2 42.2l-.5 .1M483 30.8l.5 .8M531.9 59.3l.1 1.1M519.4 47.5l-.4 .2M473.4 43l-.5 .4M506.9 18.9l.1 1.2M528.1 41.9l.2 .8M507.2 18.7l-.4 1.1M519.5 39.9l1 .3M468.5 45.6l-.7 .8M533.5 46.3l0 .4M503.5 53.9l-.4 .3M517.8 44.7l-.9 .2M516.6 45.5l.8 .3M476.7 43l0 .5M525.3 20.1l.9 .4M467.4 45l1 .5M486.3 34.2l-.5 .5M487.3 34.7l-.8 .1M496.5 51.5l.1 .5M462.6 41.9l-.7 .2M522.1 17.4l-.2 1.2M480.5 44.6l-.6 .2M482 24.6l.1 .5M494.2 54.3l-1 .3M536.2 46.3l.7 .2M510.9 48.7l-1.1 .1M481 10.9l.1 .6M482.7 12.9l-.2 .7M509.8 17.9l.9 .9M495.7 6.6l.4 .1M493.4 30.8l-.2 .5M501.9 10.9l-.2 .8M502.2 12.8l.4 .2M505.8 45.8l0 1.3M489.3 33.9l.3 .8M491.9 46.3l.5 0M467.3 41.6l-.7 .2M498.7 52.8l-.3 .7M512.1 46.3l-.2 .4M491.9 52.5l-1 .2M476.9 21.1l.4 .3M495.9 11.9l.8 1M501.4 33.9l-.4 .1" stroke="#c47252" stroke-width="1.5" stroke-linecap="round" stroke-opacity="0.75" fill="none"/>
</g>
</g>
<rect x="73.5" y="33" width="19.6" height="6.5" fill="#c9c9c9"/>
<text x="75" y="38.3" font-size="6.8" font-family="Liberation Serif" font-weight="bold" fill="#111" textLength="17.4" lengthAdjust="spacingAndGlyphs"  stroke="#111" stroke-width="0.15">250μM</text>
<rect x="156.3" y="34.4" width="19.7" height="6.6" fill="#c9c9c9"/>
<text x="157" y="39.5" font-size="6.8" font-family="Liberation Serif" font-weight="bold" fill="#111" textLength="18.2" lengthAdjust="spacingAndGlyphs"  stroke="#111" stroke-width="0.15">250μM</text>
<rect x="258.3" y="34" width="20.1" height="7.0" fill="#c9c9c9"/>
<text x="259.2" y="39.5" font-size="6.8" font-family="Liberation Serif" font-weight="bold" fill="#111" textLength="18.4" lengthAdjust="spacingAndGlyphs"  stroke="#111" stroke-width="0.15">250μM</text>
<rect x="334.3" y="34" width="22.5" height="7.0" fill="#c9c9c9"/>
<text x="335.5" y="39.5" font-size="6.8" font-family="Liberation Serif" font-weight="bold" fill="#111" textLength="20.0" lengthAdjust="spacingAndGlyphs"  stroke="#111" stroke-width="0.15">250μM</text>
<rect x="435.4" y="35.8" width="20.6" height="6.6" fill="#c9c9c9"/>
<text x="436.4" y="41" font-size="6.8" font-family="Liberation Serif" font-weight="bold" fill="#111" textLength="18.8" lengthAdjust="spacingAndGlyphs"  stroke="#111" stroke-width="0.15">250μM</text>
<text x="518.1" y="40.9" font-size="6.8" font-family="Liberation Serif" font-weight="bold" fill="#111" textLength="17.9" lengthAdjust="spacingAndGlyphs"  stroke="#111" stroke-width="0.15">250μM</text>
<rect x="36" y="68.3" width="38.5" height="12.2" fill="#ffffff"/>
<text x="42.1" y="77.8" font-size="7.2" font-family="Liberation Sans" font-weight="bold" fill="#111" textLength="25.4" lengthAdjust="spacingAndGlyphs"  stroke="#111" stroke-width="0.3">CDK2 –</text>
<rect x="123.6" y="64.2" width="37.1" height="13.8" fill="#ffffff"/>
<text x="129.4" y="73.9" font-size="7.2" font-family="Liberation Sans" font-weight="bold" fill="#111" textLength="25.5" lengthAdjust="spacingAndGlyphs"  stroke="#111" stroke-width="0.3">CDK2 +</text>
<rect x="224" y="66.5" width="38.5" height="12.0" fill="#ffffff"/>
<text x="230.3" y="75.1" font-size="7.2" font-family="Liberation Sans" font-weight="bold" fill="#111" textLength="26.2" lengthAdjust="spacingAndGlyphs"  stroke="#111" stroke-width="0.3">CDK4 –</text>
<rect x="300.5" y="66.8" width="39.2" height="13.1" fill="#ffffff"/>
<text x="307.8" y="76.3" font-size="7.2" font-family="Liberation Sans" font-weight="bold" fill="#111" textLength="27.0" lengthAdjust="spacingAndGlyphs"  stroke="#111" stroke-width="0.3">CDK4+</text>
<rect x="407" y="64.8" width="33.5" height="13.1" fill="#ffffff"/>
<text x="414.4" y="74.2" font-size="7.2" font-family="Liberation Sans" font-weight="bold" fill="#111" textLength="25.3" lengthAdjust="spacingAndGlyphs"  stroke="#111" stroke-width="0.3">CDK6 –</text>
<rect x="488.7" y="65.6" width="32.0" height="12.4" fill="#ffffff"/>
<text x="494.5" y="75.3" font-size="7.2" font-family="Liberation Sans" font-weight="bold" fill="#111" textLength="19.7" lengthAdjust="spacingAndGlyphs"  stroke="#111" stroke-width="0.3">CDK6</text>
<text x="494.6" y="84" font-size="7" font-family="Liberation Sans" font-weight="bold" fill="#111" textLength="4.4" lengthAdjust="spacingAndGlyphs"  stroke="#111" stroke-width="0.4">+</text>
<text x="10.2" y="15.3" font-size="8.4" font-family="Liberation Sans" font-weight="bold" fill="#111" textLength="5.8" lengthAdjust="spacingAndGlyphs"  stroke="#111" stroke-width="0.3">A</text>
<text x="200.9" y="15.3" font-size="8.4" font-family="Liberation Sans" font-weight="bold" fill="#111" textLength="5.5" lengthAdjust="spacingAndGlyphs"  stroke="#111" stroke-width="0.3">D</text>
<text x="382" y="14.6" font-size="8.4" font-family="Liberation Sans" font-weight="bold" fill="#111" textLength="5.5" lengthAdjust="spacingAndGlyphs"  stroke="#111" stroke-width="0.3">G</text>
<path d="M26.8 107.2V231.1H174.5" fill="none" stroke="#c9c9c9" stroke-width="1"/>
<text x="20.6" y="228.9" font-size="6.4" font-weight="bold" font-family="Liberation Sans" fill="#000" stroke="#000" stroke-width="0.2" textLength="4.9" lengthAdjust="spacingAndGlyphs" >0.0</text>
<text x="20.6" y="206.3" font-size="6.4" font-weight="bold" font-family="Liberation Sans" fill="#000" stroke="#000" stroke-width="0.2" textLength="4.9" lengthAdjust="spacingAndGlyphs" >0.2</text>
<text x="20.6" y="183.7" font-size="6.4" font-weight="bold" font-family="Liberation Sans" fill="#000" stroke="#000" stroke-width="0.2" textLength="4.9" lengthAdjust="spacingAndGlyphs" >0.4</text>
<text x="20.6" y="161.1" font-size="6.4" font-weight="bold" font-family="Liberation Sans" fill="#000" stroke="#000" stroke-width="0.2" textLength="4.9" lengthAdjust="spacingAndGlyphs" >0.6</text>
<text x="20.6" y="138.5" font-size="6.4" font-weight="bold" font-family="Liberation Sans" fill="#000" stroke="#000" stroke-width="0.2" textLength="4.9" lengthAdjust="spacingAndGlyphs" >0.8</text>
<text x="20.6" y="115.9" font-size="6.4" font-weight="bold" font-family="Liberation Sans" fill="#000" stroke="#000" stroke-width="0.2" textLength="4.9" lengthAdjust="spacingAndGlyphs" >1.0</text>
<text x="29.3" y="239.1" font-size="6.0" font-weight="bold" font-family="Liberation Sans" fill="#000" stroke="#000" stroke-width="0.3" textLength="7.4" lengthAdjust="spacingAndGlyphs" >0.00</text>
<text x="50.8" y="239.1" font-size="6.0" font-weight="bold" font-family="Liberation Sans" fill="#000" stroke="#000" stroke-width="0.3" textLength="9.0" lengthAdjust="spacingAndGlyphs" >10.00</text>
<text x="73.1" y="239.1" font-size="6.0" font-weight="bold" font-family="Liberation Sans" fill="#000" stroke="#000" stroke-width="0.3" textLength="9.0" lengthAdjust="spacingAndGlyphs" >20.00</text>
<text x="95.3" y="239.1" font-size="6.0" font-weight="bold" font-family="Liberation Sans" fill="#000" stroke="#000" stroke-width="0.3" textLength="9.0" lengthAdjust="spacingAndGlyphs" >30.00</text>
<text x="117.6" y="239.1" font-size="6.0" font-weight="bold" font-family="Liberation Sans" fill="#000" stroke="#000" stroke-width="0.3" textLength="9.0" lengthAdjust="spacingAndGlyphs" >40.00</text>
<text x="139.9" y="239.1" font-size="6.0" font-weight="bold" font-family="Liberation Sans" fill="#000" stroke="#000" stroke-width="0.3" textLength="9.0" lengthAdjust="spacingAndGlyphs" >50.00</text>
<text x="162.2" y="239.1" font-size="6.0" font-weight="bold" font-family="Liberation Sans" fill="#000" stroke="#000" stroke-width="0.3" textLength="9.0" lengthAdjust="spacingAndGlyphs" >60.00</text>
<path d="M33.5 113.5 H45.3 H48.3V118.6 H51.2V121.9 H54.1V125.3 H58.0V129.2 H61.2V130.8 H64.4V132.4 H67.6V134.0 H70.0V136.4 H72.5V138.9 H74.9V142.3 H77.3V145.7 H81.2V149.6 H83.8V151.5 H86.4V153.5 H89.0V155.4 H91.6V157.0 H94.1V158.6 H96.7V160.2 H99.5V160.9 H102.2V161.6 H105.0V162.4 H107.7V163.1 H110.5V163.8 H113.7V164.5 H117.0V165.1 H120.2V165.8 H123.4V166.4 H126.7V167.0 H129.9V167.7 H132.5V169.0 H135.0V170.3 H137.6V171.6 H140.5V172.6 H143.4V173.5 H167.1" fill="none" stroke="#50a8a4" stroke-width="0.85"/>
<path d="M33.5 113.3 H45.3 H47.0V114.7 H49.5V116.5 H52.0V118.2 H54.5V118.8 H57.0V119.5 H59.9V120.5 H62.8V121.5 V127.3 H65.7V129.2 H68.6V131.2 H71.5V133.1 H74.7V134.4 H78.0V135.7 H81.2V137.0 H84.4V138.3 H87.7V139.6 H90.9V140.9 H93.5V141.9 H96.0V142.8 H98.6V143.8 H101.7V144.8 H104.7V145.8 H107.4V146.1 H110.1V146.4 H112.9V146.7 H115.6V147.0 H118.3V147.3 H121.2V148.3 H124.1V149.2 H127.0V150.2 H129.9V151.2 H133.3V151.7 H136.7V152.1 H140.0V152.6 H143.4V153.1 H146.4V153.4 H149.3V153.7 H152.3V154.0 H155.2V154.3 H158.2V154.6 H161.2V154.9 H164.1V155.2 H167.1V155.5" fill="none" stroke="#38b0ec" stroke-width="0.95"/>
<circle cx="167.1" cy="173.5" r="1.1" fill="#50a8a4"/>
<circle cx="167.1" cy="155.5" r="1.1" fill="#38b0ec"/>
<text x="77.6" y="108.8" font-size="7.2" font-weight="bold" font-family="Liberation Sans" fill="#111" stroke="#111" stroke-width="0.3" textLength="52.2" lengthAdjust="spacingAndGlyphs" >Nuclear CDK2</text>
<rect x="77.6" y="109.8" width="52.2" height="1" fill="#222"/>
<text x="5.5" y="112.7" font-size="8.4" font-weight="bold" font-family="Liberation Sans" fill="#111" stroke="#111" stroke-width="0.3" textLength="4.7" lengthAdjust="spacingAndGlyphs" >B</text>
<text x="0" y="0" transform="translate(12.1,202.3) rotate(-90)" font-size="6.8" font-weight="bold" font-family="Liberation Sans" fill="#1a1a1a" stroke="#1a1a1a" stroke-width="0.25" textLength="65.3" lengthAdjust="spacingAndGlyphs">Probability of relapse</text>
<text x="81.0" y="245.6" font-size="6.8" font-weight="bold" font-family="Liberation Sans" fill="#1a1a1a" stroke="#1a1a1a" stroke-width="0.25" textLength="44.0" lengthAdjust="spacingAndGlyphs" >PFS (months)</text>
<text x="117.6" y="139.0" font-size="6.8" font-weight="bold" font-family="Liberation Sans" fill="#111" stroke="#111" stroke-width="0.3" textLength="40.7" lengthAdjust="spacingAndGlyphs" >Low (n=187)</text>
<text x="122.0" y="184.3" font-size="6.8" font-weight="bold" font-family="Liberation Sans" fill="#111" stroke="#111" stroke-width="0.3" textLength="41.2" lengthAdjust="spacingAndGlyphs" >High &#160;(n=72)</text>
<text x="36.8" y="218.7" font-size="7.8" font-weight="bold" font-family="Liberation Sans" fill="#111" stroke="#111" stroke-width="0.3" textLength="30.1" lengthAdjust="spacingAndGlyphs" >P = 0.021</text>
<path d="M210.6 113.1V233.6H354.6" fill="none" stroke="#c9c9c9" stroke-width="1"/>
<text x="204.4" y="230.1" font-size="6.4" font-weight="bold" font-family="Liberation Sans" fill="#000" stroke="#000" stroke-width="0.2" textLength="4.9" lengthAdjust="spacingAndGlyphs" >0.0</text>
<text x="204.4" y="208.6" font-size="6.4" font-weight="bold" font-family="Liberation Sans" fill="#000" stroke="#000" stroke-width="0.2" textLength="4.9" lengthAdjust="spacingAndGlyphs" >0.2</text>
<text x="204.4" y="187.1" font-size="6.4" font-weight="bold" font-family="Liberation Sans" fill="#000" stroke="#000" stroke-width="0.2" textLength="4.9" lengthAdjust="spacingAndGlyphs" >0.4</text>
<text x="204.4" y="165.6" font-size="6.4" font-weight="bold" font-family="Liberation Sans" fill="#000" stroke="#000" stroke-width="0.2" textLength="4.9" lengthAdjust="spacingAndGlyphs" >0.6</text>
<text x="204.4" y="144.1" font-size="6.4" font-weight="bold" font-family="Liberation Sans" fill="#000" stroke="#000" stroke-width="0.2" textLength="4.9" lengthAdjust="spacingAndGlyphs" >0.8</text>
<text x="204.4" y="122.6" font-size="6.4" font-weight="bold" font-family="Liberation Sans" fill="#000" stroke="#000" stroke-width="0.2" textLength="4.9" lengthAdjust="spacingAndGlyphs" >1.0</text>
<text x="212.3" y="240.7" font-size="6.0" font-weight="bold" font-family="Liberation Sans" fill="#000" stroke="#000" stroke-width="0.3" textLength="7.4" lengthAdjust="spacingAndGlyphs" >0.00</text>
<text x="233.3" y="240.7" font-size="6.0" font-weight="bold" font-family="Liberation Sans" fill="#000" stroke="#000" stroke-width="0.3" textLength="9.0" lengthAdjust="spacingAndGlyphs" >10.00</text>
<text x="255.1" y="240.7" font-size="6.0" font-weight="bold" font-family="Liberation Sans" fill="#000" stroke="#000" stroke-width="0.3" textLength="9.0" lengthAdjust="spacingAndGlyphs" >20.00</text>
<text x="276.9" y="240.7" font-size="6.0" font-weight="bold" font-family="Liberation Sans" fill="#000" stroke="#000" stroke-width="0.3" textLength="9.0" lengthAdjust="spacingAndGlyphs" >30.00</text>
<text x="298.8" y="240.7" font-size="6.0" font-weight="bold" font-family="Liberation Sans" fill="#000" stroke="#000" stroke-width="0.3" textLength="9.0" lengthAdjust="spacingAndGlyphs" >40.00</text>
<text x="320.6" y="240.7" font-size="6.0" font-weight="bold" font-family="Liberation Sans" fill="#000" stroke="#000" stroke-width="0.3" textLength="9.0" lengthAdjust="spacingAndGlyphs" >50.00</text>
<text x="342.4" y="240.7" font-size="6.0" font-weight="bold" font-family="Liberation Sans" fill="#000" stroke="#000" stroke-width="0.3" textLength="9.0" lengthAdjust="spacingAndGlyphs" >60.00</text>
<path d="M217.4 118.7 H230.3 V123.6 H234.2 V129.4 H241.0 V132.3 H246.8 V137.1 H253.6 V143.0 H258.4 V145.9 H273.0 V148.8 H279.8 V152.6 H347.8" fill="none" stroke="#50a8a4" stroke-width="0.85"/>
<path d="M217.4 118.7 H228.4 H230.9V120.7 H233.3V122.6 H236.0V124.3 H238.6V126.0 H241.2V127.7 H243.9V129.4 H246.8V131.6 H249.7V133.8 H252.6V135.9 H255.5V138.1 H258.2V140.1 H260.9V142.0 H263.5V143.9 H266.2V145.9 H268.8V147.5 H271.4V149.1 H274.0V150.7 H277.2V151.4 H280.4V152.1 H283.6V152.8 H286.8V153.5 H290.0V154.2 H292.8V154.4 H295.5V154.7 H298.9V156.0 H302.2V157.3 H305.6V158.7 H309.0V160.0 H312.1V160.6 H315.2V161.1 H318.4V161.7 H321.5V162.2 H324.6V162.8 H327.5V163.0 H330.4V163.2 H333.3V163.3 H336.2V163.5 H339.1V163.7 H342.0V163.8 H344.9V164.0 H347.8V164.2" fill="none" stroke="#38b0ec" stroke-width="0.95"/>
<circle cx="347.8" cy="152.6" r="1.1" fill="#50a8a4"/>
<circle cx="347.8" cy="164.2" r="1.1" fill="#38b0ec"/>
<text x="261.0" y="107.3" font-size="7.2" font-weight="bold" font-family="Liberation Sans" fill="#111" stroke="#111" stroke-width="0.3" textLength="52.0" lengthAdjust="spacingAndGlyphs" >Nuclear CDK4</text>
<rect x="261.0" y="108.3" width="52.0" height="1" fill="#222"/>
<text x="197.3" y="115.3" font-size="8.4" font-weight="bold" font-family="Liberation Sans" fill="#111" stroke="#111" stroke-width="0.3" textLength="4.0" lengthAdjust="spacingAndGlyphs" >E</text>
<text x="0" y="0" transform="translate(198.9,209.3) rotate(-90)" font-size="6.8" font-weight="bold" font-family="Liberation Sans" fill="#1a1a1a" stroke="#1a1a1a" stroke-width="0.25" textLength="64.8" lengthAdjust="spacingAndGlyphs">Probability of relapse</text>
<text x="264.5" y="247.6" font-size="6.8" font-weight="bold" font-family="Liberation Sans" fill="#1a1a1a" stroke="#1a1a1a" stroke-width="0.25" textLength="40.7" lengthAdjust="spacingAndGlyphs" >PFS (months)</text>
<text x="295.5" y="144.8" font-size="6.8" font-weight="bold" font-family="Liberation Sans" fill="#111" stroke="#111" stroke-width="0.3" textLength="40.7" lengthAdjust="spacingAndGlyphs" >High &#160;(n=41)</text>
<text x="297.8" y="175.2" font-size="6.8" font-weight="bold" font-family="Liberation Sans" fill="#111" stroke="#111" stroke-width="0.3" textLength="41.3" lengthAdjust="spacingAndGlyphs" >Low (n=214)</text>
<text x="218.3" y="220.5" font-size="7.8" font-weight="normal" font-family="Liberation Sans" fill="#2a2a2a" stroke="#2a2a2a" stroke-width="0.2" textLength="26.7" lengthAdjust="spacingAndGlyphs" >P=0.376</text>
<path d="M405.4 116.3V233.2H543.0" fill="none" stroke="#c9c9c9" stroke-width="1"/>
<text x="399.2" y="230.8" font-size="6.4" font-weight="bold" font-family="Liberation Sans" fill="#000" stroke="#000" stroke-width="0.2" textLength="4.9" lengthAdjust="spacingAndGlyphs" >0.0</text>
<text x="399.2" y="209.9" font-size="6.4" font-weight="bold" font-family="Liberation Sans" fill="#000" stroke="#000" stroke-width="0.2" textLength="4.9" lengthAdjust="spacingAndGlyphs" >0.2</text>
<text x="399.2" y="189.0" font-size="6.4" font-weight="bold" font-family="Liberation Sans" fill="#000" stroke="#000" stroke-width="0.2" textLength="4.9" lengthAdjust="spacingAndGlyphs" >0.4</text>
<text x="399.2" y="168.1" font-size="6.4" font-weight="bold" font-family="Liberation Sans" fill="#000" stroke="#000" stroke-width="0.2" textLength="4.9" lengthAdjust="spacingAndGlyphs" >0.6</text>
<text x="399.2" y="147.2" font-size="6.4" font-weight="bold" font-family="Liberation Sans" fill="#000" stroke="#000" stroke-width="0.2" textLength="4.9" lengthAdjust="spacingAndGlyphs" >0.8</text>
<text x="399.2" y="126.3" font-size="6.4" font-weight="bold" font-family="Liberation Sans" fill="#000" stroke="#000" stroke-width="0.2" textLength="4.9" lengthAdjust="spacingAndGlyphs" >1.0</text>
<text x="406.8" y="240.7" font-size="6.0" font-weight="bold" font-family="Liberation Sans" fill="#000" stroke="#000" stroke-width="0.3" textLength="7.4" lengthAdjust="spacingAndGlyphs" >0.00</text>
<text x="426.8" y="240.7" font-size="6.0" font-weight="bold" font-family="Liberation Sans" fill="#000" stroke="#000" stroke-width="0.3" textLength="9.0" lengthAdjust="spacingAndGlyphs" >10.00</text>
<text x="447.6" y="240.7" font-size="6.0" font-weight="bold" font-family="Liberation Sans" fill="#000" stroke="#000" stroke-width="0.3" textLength="9.0" lengthAdjust="spacingAndGlyphs" >20.00</text>
<text x="468.4" y="240.7" font-size="6.0" font-weight="bold" font-family="Liberation Sans" fill="#000" stroke="#000" stroke-width="0.3" textLength="9.0" lengthAdjust="spacingAndGlyphs" >30.00</text>
<text x="489.2" y="240.7" font-size="6.0" font-weight="bold" font-family="Liberation Sans" fill="#000" stroke="#000" stroke-width="0.3" textLength="9.0" lengthAdjust="spacingAndGlyphs" >40.00</text>
<text x="510.0" y="240.7" font-size="6.0" font-weight="bold" font-family="Liberation Sans" fill="#000" stroke="#000" stroke-width="0.3" textLength="9.0" lengthAdjust="spacingAndGlyphs" >50.00</text>
<text x="530.8" y="240.7" font-size="6.0" font-weight="bold" font-family="Liberation Sans" fill="#000" stroke="#000" stroke-width="0.3" textLength="9.0" lengthAdjust="spacingAndGlyphs" >60.00</text>
<path d="M411.8 123.7 H424.4 V128.2 H429.2 V130.1 H431.6V131.8 H434.1V133.4 H438.3V134.4 V140.2 H441.5V141.6 H444.7V143.1 H447.6V147.0 H450.5V150.9 H453.4V151.9 H456.4V152.8 H459.3V153.8 H463.1V158.6 H465.7V159.9 H468.3V161.2 H470.9V162.5 V167.3 H513.0 V172.5 H536.2" fill="none" stroke="#50a8a4" stroke-width="0.85"/>
<path d="M411.8 122.4 H424.4 H426.0V124.3 H428.7V125.4 H431.4V126.5 H434.1V127.6 H436.5V130.5 H438.9V133.4 H441.5V135.3 H444.1V137.3 H446.7V139.2 H449.9V141.5 H453.2V143.7 H456.4V146.0 H459.6V147.3 H462.8V148.6 H466.0V149.9 H468.9V150.0 H471.9V150.2 H474.8V150.3 H477.8V150.9 H480.9V151.6 H483.9V152.2 H487.0V153.4 H490.2V154.6 H493.4V155.8 H496.5V157.0 H499.4V157.9 H502.3V158.8 H505.2V159.6 H508.1V160.5 H511.2V160.7 H514.3V160.9 H517.5V161.1 H520.6V161.3 H523.7V161.6 H526.8V161.8 H530.0V162.0 H533.1V162.2 H536.2V162.4" fill="none" stroke="#38b0ec" stroke-width="0.95"/>
<circle cx="536.2" cy="172.5" r="1.1" fill="#50a8a4"/>
<circle cx="536.2" cy="162.4" r="1.1" fill="#38b0ec"/>
<text x="451.0" y="107.3" font-size="7.2" font-weight="bold" font-family="Liberation Sans" fill="#111" stroke="#111" stroke-width="0.3" textLength="51.7" lengthAdjust="spacingAndGlyphs" >Nuclear CDK6</text>
<rect x="451.0" y="108.3" width="51.7" height="1" fill="#222"/>
<text x="387.0" y="117.8" font-size="8.4" font-weight="bold" font-family="Liberation Sans" fill="#111" stroke="#111" stroke-width="0.3" textLength="5.1" lengthAdjust="spacingAndGlyphs" >H</text>
<text x="0" y="0" transform="translate(393.9,212.0) rotate(-90)" font-size="6.8" font-weight="bold" font-family="Liberation Sans" fill="#1a1a1a" stroke="#1a1a1a" stroke-width="0.25" textLength="65.9" lengthAdjust="spacingAndGlyphs">Probability of relapse</text>
<text x="458.7" y="247.2" font-size="6.8" font-weight="bold" font-family="Liberation Sans" fill="#1a1a1a" stroke="#1a1a1a" stroke-width="0.25" textLength="41.3" lengthAdjust="spacingAndGlyphs" >PFS (months)</text>
<text x="476.7" y="146.7" font-size="6.8" font-weight="bold" font-family="Liberation Sans" fill="#111" stroke="#111" stroke-width="0.3" textLength="41.1" lengthAdjust="spacingAndGlyphs" >Low (n=186)</text>
<text x="471.3" y="182.0" font-size="6.8" font-weight="bold" font-family="Liberation Sans" fill="#111" stroke="#111" stroke-width="0.3" textLength="38.8" lengthAdjust="spacingAndGlyphs" >High (n=60)</text>
<text x="413.4" y="218.6" font-size="7.8" font-weight="normal" font-family="Liberation Sans" fill="#2a2a2a" stroke="#2a2a2a" stroke-width="0.2" textLength="27.2" lengthAdjust="spacingAndGlyphs" >P=0.173</text>
<path d="M22.7 259.7V390.6H171.7" fill="none" stroke="#c9c9c9" stroke-width="1"/>
<text x="16.5" y="388.1" font-size="6.4" font-weight="bold" font-family="Liberation Sans" fill="#000" stroke="#000" stroke-width="0.2" textLength="4.9" lengthAdjust="spacingAndGlyphs" >0.0</text>
<text x="16.5" y="364.4" font-size="6.4" font-weight="bold" font-family="Liberation Sans" fill="#000" stroke="#000" stroke-width="0.2" textLength="4.9" lengthAdjust="spacingAndGlyphs" >0.2</text>
<text x="16.5" y="340.8" font-size="6.4" font-weight="bold" font-family="Liberation Sans" fill="#000" stroke="#000" stroke-width="0.2" textLength="4.9" lengthAdjust="spacingAndGlyphs" >0.4</text>
<text x="16.5" y="317.1" font-size="6.4" font-weight="bold" font-family="Liberation Sans" fill="#000" stroke="#000" stroke-width="0.2" textLength="4.9" lengthAdjust="spacingAndGlyphs" >0.6</text>
<text x="16.5" y="293.5" font-size="6.4" font-weight="bold" font-family="Liberation Sans" fill="#000" stroke="#000" stroke-width="0.2" textLength="4.9" lengthAdjust="spacingAndGlyphs" >0.8</text>
<text x="16.5" y="269.8" font-size="6.4" font-weight="bold" font-family="Liberation Sans" fill="#000" stroke="#000" stroke-width="0.2" textLength="4.9" lengthAdjust="spacingAndGlyphs" >1.0</text>
<text x="24.4" y="399.2" font-size="6.0" font-weight="bold" font-family="Liberation Sans" fill="#000" stroke="#000" stroke-width="0.3" textLength="7.4" lengthAdjust="spacingAndGlyphs" >0.00</text>
<text x="46.3" y="399.2" font-size="6.0" font-weight="bold" font-family="Liberation Sans" fill="#000" stroke="#000" stroke-width="0.3" textLength="9.0" lengthAdjust="spacingAndGlyphs" >10.00</text>
<text x="69.0" y="399.2" font-size="6.0" font-weight="bold" font-family="Liberation Sans" fill="#000" stroke="#000" stroke-width="0.3" textLength="9.0" lengthAdjust="spacingAndGlyphs" >20.00</text>
<text x="91.7" y="399.2" font-size="6.0" font-weight="bold" font-family="Liberation Sans" fill="#000" stroke="#000" stroke-width="0.3" textLength="9.0" lengthAdjust="spacingAndGlyphs" >30.00</text>
<text x="114.4" y="399.2" font-size="6.0" font-weight="bold" font-family="Liberation Sans" fill="#000" stroke="#000" stroke-width="0.3" textLength="9.0" lengthAdjust="spacingAndGlyphs" >40.00</text>
<text x="137.1" y="399.2" font-size="6.0" font-weight="bold" font-family="Liberation Sans" fill="#000" stroke="#000" stroke-width="0.3" textLength="9.0" lengthAdjust="spacingAndGlyphs" >50.00</text>
<text x="159.8" y="399.2" font-size="6.0" font-weight="bold" font-family="Liberation Sans" fill="#000" stroke="#000" stroke-width="0.3" textLength="9.0" lengthAdjust="spacingAndGlyphs" >60.00</text>
<path d="M29.4 270.7 H45.3 H47.7V272.4 H50.1V274.0 H61.7 V281.3 H64.6V282.3 H67.5V283.3 H70.0V285.7 H72.4V288.1 V294.9 H75.0V295.9 H77.5V296.8 H80.1V297.8 V303.6 H83.3V304.2 H86.6V304.9 H89.8V305.5 H92.4V307.5 H95.0V309.4 H97.6V311.4 H100.6V312.9 H103.6V314.4 H106.6V315.9 H109.7V317.3 H112.8V318.6 H115.9V320.0 H119.0V321.3 H122.1V322.7 H125.3V324.0 H128.6V325.3 H131.8V326.6 H134.9V327.5 H138.0V328.3 H141.1V329.1 H144.2V330.0 H146.9V331.2 H149.7V332.5 H152.4V333.8 H155.2V335.0 H162.3 V339.6" fill="none" stroke="#50a8a4" stroke-width="0.85"/>
<path d="M29.4 266.8 H30.7V270.7 H33.5V272.0 H36.2V273.3 H39.0V274.5 H41.7V275.8 H44.5V277.1 H47.2V278.4 H50.1V279.1 H53.0V279.9 H55.9V280.6 H58.8V281.3 H61.5V282.7 H64.2V284.0 H67.0V285.4 H69.7V286.7 H72.4V288.1 H75.3V288.9 H78.2V289.7 H81.1V290.6 H84.0V291.4 H86.9V292.2 H89.8V293.0 H93.4V294.5 H97.0V296.0 H100.2V297.8 H103.4V299.6 H106.6V301.4 H109.8V303.0 H113.1V304.6 H116.3V306.2 H119.3V306.9 H122.4V307.6 H125.4V308.3 H128.5V308.9 H131.5V309.6 H134.6V310.3 H137.6V311.0 H140.5V311.7 H143.4V312.3 H146.3V313.0 H149.3V313.7 H152.2V314.3 H155.1V315.0 H158.2V316.1 H161.3V317.1 H164.4V318.2" fill="none" stroke="#38b0ec" stroke-width="0.95"/>
<circle cx="162.3" cy="339.6" r="1.1" fill="#50a8a4"/>
<circle cx="164.4" cy="318.2" r="1.1" fill="#38b0ec"/>
<text x="72.7" y="264.6" font-size="7.2" font-weight="bold" font-family="Liberation Sans" fill="#111" stroke="#111" stroke-width="0.3" textLength="51.8" lengthAdjust="spacingAndGlyphs" >Nuclear CDK2</text>
<rect x="72.7" y="265.6" width="51.8" height="1" fill="#222"/>
<text x="3.6" y="259.9" font-size="8.4" font-weight="bold" font-family="Liberation Sans" fill="#111" stroke="#111" stroke-width="0.3" textLength="4.8" lengthAdjust="spacingAndGlyphs" >C</text>
<text x="0" y="0" transform="translate(12.1,364.5) rotate(-90)" font-size="6.8" font-weight="bold" font-family="Liberation Sans" fill="#1a1a1a" stroke="#1a1a1a" stroke-width="0.25" textLength="68.9" lengthAdjust="spacingAndGlyphs">Probability of survival</text>
<text x="71.3" y="408.3" font-size="6.8" font-weight="bold" font-family="Liberation Sans" fill="#1a1a1a" stroke="#1a1a1a" stroke-width="0.25" textLength="38.2" lengthAdjust="spacingAndGlyphs" >OS (months)</text>
<text x="116.7" y="297.8" font-size="6.8" font-weight="bold" font-family="Liberation Sans" fill="#111" stroke="#111" stroke-width="0.3" textLength="37.4" lengthAdjust="spacingAndGlyphs" >Low (n=72)</text>
<text x="105.4" y="344.8" font-size="6.8" font-weight="bold" font-family="Liberation Sans" fill="#111" stroke="#111" stroke-width="0.3" textLength="42.8" lengthAdjust="spacingAndGlyphs" >High (n=192)</text>
<text x="29.7" y="380.1" font-size="7.8" font-weight="bold" font-family="Liberation Sans" fill="#111" stroke="#111" stroke-width="0.3" textLength="30.1" lengthAdjust="spacingAndGlyphs" >P = 0.019</text>
<path d="M212.1 269.4V388.2H354.3" fill="none" stroke="#c9c9c9" stroke-width="1"/>
<text x="205.9" y="385.5" font-size="6.4" font-weight="bold" font-family="Liberation Sans" fill="#000" stroke="#000" stroke-width="0.2" textLength="4.9" lengthAdjust="spacingAndGlyphs" >0.0</text>
<text x="205.9" y="364.1" font-size="6.4" font-weight="bold" font-family="Liberation Sans" fill="#000" stroke="#000" stroke-width="0.2" textLength="4.9" lengthAdjust="spacingAndGlyphs" >0.2</text>
<text x="205.9" y="342.6" font-size="6.4" font-weight="bold" font-family="Liberation Sans" fill="#000" stroke="#000" stroke-width="0.2" textLength="4.9" lengthAdjust="spacingAndGlyphs" >0.4</text>
<text x="205.9" y="321.2" font-size="6.4" font-weight="bold" font-family="Liberation Sans" fill="#000" stroke="#000" stroke-width="0.2" textLength="4.9" lengthAdjust="spacingAndGlyphs" >0.6</text>
<text x="205.9" y="299.7" font-size="6.4" font-weight="bold" font-family="Liberation Sans" fill="#000" stroke="#000" stroke-width="0.2" textLength="4.9" lengthAdjust="spacingAndGlyphs" >0.8</text>
<text x="205.9" y="278.3" font-size="6.4" font-weight="bold" font-family="Liberation Sans" fill="#000" stroke="#000" stroke-width="0.2" textLength="4.9" lengthAdjust="spacingAndGlyphs" >1.0</text>
<text x="214.4" y="396.2" font-size="6.0" font-weight="bold" font-family="Liberation Sans" fill="#000" stroke="#000" stroke-width="0.3" textLength="7.4" lengthAdjust="spacingAndGlyphs" >0.00</text>
<text x="235.0" y="396.2" font-size="6.0" font-weight="bold" font-family="Liberation Sans" fill="#000" stroke="#000" stroke-width="0.3" textLength="9.0" lengthAdjust="spacingAndGlyphs" >10.00</text>
<text x="256.5" y="396.2" font-size="6.0" font-weight="bold" font-family="Liberation Sans" fill="#000" stroke="#000" stroke-width="0.3" textLength="9.0" lengthAdjust="spacingAndGlyphs" >20.00</text>
<text x="277.9" y="396.2" font-size="6.0" font-weight="bold" font-family="Liberation Sans" fill="#000" stroke="#000" stroke-width="0.3" textLength="9.0" lengthAdjust="spacingAndGlyphs" >30.00</text>
<text x="299.3" y="396.2" font-size="6.0" font-weight="bold" font-family="Liberation Sans" fill="#000" stroke="#000" stroke-width="0.3" textLength="9.0" lengthAdjust="spacingAndGlyphs" >40.00</text>
<text x="320.8" y="396.2" font-size="6.0" font-weight="bold" font-family="Liberation Sans" fill="#000" stroke="#000" stroke-width="0.3" textLength="9.0" lengthAdjust="spacingAndGlyphs" >50.00</text>
<text x="342.2" y="396.2" font-size="6.0" font-weight="bold" font-family="Liberation Sans" fill="#000" stroke="#000" stroke-width="0.3" textLength="9.0" lengthAdjust="spacingAndGlyphs" >60.00</text>
<path d="M219.4 277.0 H236.2 H239.1V282.4 H241.1V284.4 H247.9 V293.1 H255.6 V298.9 H276.0 V301.8 H279.0 H280.8V305.7 H292.6 H295.5V309.1 H298.4V309.8 H301.3V310.6 H304.2V311.3 H307.1V312.0 H310.0V313.4 H313.0V314.9 H315.9V316.4 H318.8V317.8 H346.9" fill="none" stroke="#50a8a4" stroke-width="0.85"/>
<path d="M219.4 274.7 H221.4V277.6 H224.2V278.6 H227.0V279.5 H229.8V280.5 H232.7V281.5 H235.5V282.5 H238.3V283.4 H241.1V284.4 H244.2V286.1 H247.3V287.9 H250.4V289.6 H253.5V291.4 H256.6V293.1 H260.0V294.6 H263.4V296.0 H266.7V297.4 H270.1V298.9 H273.0V300.1 H276.0V301.4 H278.9V302.6 H281.8V303.8 H284.8V305.0 H287.8V306.2 H290.4V307.8 H292.9V309.4 H295.5V311.0 H298.2V311.8 H300.9V312.6 H303.7V313.4 H306.4V314.2 H309.1V315.0 H312.0V315.7 H314.9V316.4 H317.8V317.1 H320.7V317.8 H323.8V319.0 H326.9V320.1 H330.0V321.3 H333.1V322.4 H336.2V323.6 H338.9V324.6 H341.5V325.6 H344.2V326.5 H346.9V327.5" fill="none" stroke="#38b0ec" stroke-width="0.95"/>
<circle cx="346.9" cy="317.8" r="1.1" fill="#50a8a4"/>
<circle cx="346.9" cy="327.5" r="1.1" fill="#38b0ec"/>
<text x="255.2" y="264.2" font-size="7.2" font-weight="bold" font-family="Liberation Sans" fill="#111" stroke="#111" stroke-width="0.3" textLength="51.9" lengthAdjust="spacingAndGlyphs" >Nuclear CDK4</text>
<rect x="255.2" y="265.2" width="51.9" height="1" fill="#222"/>
<text x="195.5" y="262.5" font-size="8.4" font-weight="bold" font-family="Liberation Sans" fill="#111" stroke="#111" stroke-width="0.3" textLength="4.0" lengthAdjust="spacingAndGlyphs" >F</text>
<text x="0" y="0" transform="translate(200.0,360.7) rotate(-90)" font-size="6.8" font-weight="bold" font-family="Liberation Sans" fill="#1a1a1a" stroke="#1a1a1a" stroke-width="0.25" textLength="66.0" lengthAdjust="spacingAndGlyphs">Probability of survival</text>
<text x="271.3" y="404.3" font-size="6.8" font-weight="bold" font-family="Liberation Sans" fill="#1a1a1a" stroke="#1a1a1a" stroke-width="0.25" textLength="37.8" lengthAdjust="spacingAndGlyphs" >OS (months)</text>
<text x="304.8" y="303.1" font-size="6.8" font-weight="bold" font-family="Liberation Sans" fill="#111" stroke="#111" stroke-width="0.3" textLength="39.2" lengthAdjust="spacingAndGlyphs" >High (n=41)</text>
<text x="307.1" y="336.3" font-size="6.8" font-weight="bold" font-family="Liberation Sans" fill="#111" stroke="#111" stroke-width="0.3" textLength="40.2" lengthAdjust="spacingAndGlyphs" >Low (n=217)</text>
<text x="220.1" y="376.3" font-size="7.8" font-weight="normal" font-family="Liberation Sans" fill="#2a2a2a" stroke="#2a2a2a" stroke-width="0.2" textLength="30.2" lengthAdjust="spacingAndGlyphs" >P = 0.467</text>
<path d="M401.7 263.6V383.2H547.4" fill="none" stroke="#c9c9c9" stroke-width="1"/>
<text x="395.5" y="380.5" font-size="6.4" font-weight="bold" font-family="Liberation Sans" fill="#000" stroke="#000" stroke-width="0.2" textLength="4.9" lengthAdjust="spacingAndGlyphs" >0.0</text>
<text x="395.5" y="358.9" font-size="6.4" font-weight="bold" font-family="Liberation Sans" fill="#000" stroke="#000" stroke-width="0.2" textLength="4.9" lengthAdjust="spacingAndGlyphs" >0.2</text>
<text x="395.5" y="337.2" font-size="6.4" font-weight="bold" font-family="Liberation Sans" fill="#000" stroke="#000" stroke-width="0.2" textLength="4.9" lengthAdjust="spacingAndGlyphs" >0.4</text>
<text x="395.5" y="315.6" font-size="6.4" font-weight="bold" font-family="Liberation Sans" fill="#000" stroke="#000" stroke-width="0.2" textLength="4.9" lengthAdjust="spacingAndGlyphs" >0.6</text>
<text x="395.5" y="293.9" font-size="6.4" font-weight="bold" font-family="Liberation Sans" fill="#000" stroke="#000" stroke-width="0.2" textLength="4.9" lengthAdjust="spacingAndGlyphs" >0.8</text>
<text x="395.5" y="272.3" font-size="6.4" font-weight="bold" font-family="Liberation Sans" fill="#000" stroke="#000" stroke-width="0.2" textLength="4.9" lengthAdjust="spacingAndGlyphs" >1.0</text>
<text x="404.5" y="390.5" font-size="6.0" font-weight="bold" font-family="Liberation Sans" fill="#000" stroke="#000" stroke-width="0.3" textLength="7.4" lengthAdjust="spacingAndGlyphs" >0.00</text>
<text x="425.3" y="390.5" font-size="6.0" font-weight="bold" font-family="Liberation Sans" fill="#000" stroke="#000" stroke-width="0.3" textLength="9.0" lengthAdjust="spacingAndGlyphs" >10.00</text>
<text x="447.0" y="390.5" font-size="6.0" font-weight="bold" font-family="Liberation Sans" fill="#000" stroke="#000" stroke-width="0.3" textLength="9.0" lengthAdjust="spacingAndGlyphs" >20.00</text>
<text x="468.6" y="390.5" font-size="6.0" font-weight="bold" font-family="Liberation Sans" fill="#000" stroke="#000" stroke-width="0.3" textLength="9.0" lengthAdjust="spacingAndGlyphs" >30.00</text>
<text x="490.2" y="390.5" font-size="6.0" font-weight="bold" font-family="Liberation Sans" fill="#000" stroke="#000" stroke-width="0.3" textLength="9.0" lengthAdjust="spacingAndGlyphs" >40.00</text>
<text x="511.9" y="390.5" font-size="6.0" font-weight="bold" font-family="Liberation Sans" fill="#000" stroke="#000" stroke-width="0.3" textLength="9.0" lengthAdjust="spacingAndGlyphs" >50.00</text>
<text x="533.5" y="390.5" font-size="6.0" font-weight="bold" font-family="Liberation Sans" fill="#000" stroke="#000" stroke-width="0.3" textLength="9.0" lengthAdjust="spacingAndGlyphs" >60.00</text>
<path d="M408.8 269.7 H410.7V275.5 H413.4V276.9 H416.0V278.4 H418.7V279.9 H421.4V281.3 H424.3V282.5 H427.2V283.8 H430.1V285.0 H433.0V286.2 H435.6V288.5 H438.2V290.7 H440.8V293.0 H443.4V295.9 H445.9V298.8 H448.5V301.7 H451.4V303.4 H454.3V305.0 H457.2V306.7 H460.1V308.4 H463.0V309.6 H466.0V310.9 H468.9V312.1 H471.8V313.3 H475.1V316.1 H478.4V319.0 H481.6V321.8 H484.9V324.6 H508.7 H511.1V326.3 H513.5V328.0 H516.9V330.9 H520.3V333.9 H537.7 V335.8 H540.0" fill="none" stroke="#50a8a4" stroke-width="0.85"/>
<path d="M408.8 269.7 H410.7V273.2 H413.4V273.5 H416.0V273.9 H418.7V274.2 H421.4V274.5 H424.5V275.5 H427.6V276.5 H430.7V277.4 H433.8V278.4 H436.9V279.4 H440.3V281.1 H443.6V282.8 H447.0V284.5 H450.4V286.2 H453.5V287.7 H456.6V289.3 H459.8V290.8 H462.9V292.4 H466.0V293.9 H469.1V295.1 H472.3V296.4 H475.4V297.6 H478.6V298.9 H481.8V300.1 H484.9V301.4 H487.8V302.5 H490.7V303.6 H493.6V304.8 H496.5V305.9 H499.4V307.0 H502.3V308.1 H505.3V308.9 H508.4V309.8 H511.4V310.6 H514.5V311.5 H517.5V312.3 H520.6V313.2 H523.6V314.0 H526.4V314.8 H529.1V315.6 H531.9V316.4 H534.6V317.2 H537.4V318.0 H540.1V318.8" fill="none" stroke="#38b0ec" stroke-width="0.95"/>
<circle cx="540.0" cy="335.8" r="1.1" fill="#50a8a4"/>
<circle cx="540.1" cy="318.8" r="1.1" fill="#38b0ec"/>
<text x="444.8" y="265.0" font-size="7.2" font-weight="bold" font-family="Liberation Sans" fill="#111" stroke="#111" stroke-width="0.3" textLength="52.1" lengthAdjust="spacingAndGlyphs" >Nuclear CDK6</text>
<rect x="444.8" y="266.0" width="52.1" height="1" fill="#222"/>
<text x="384.9" y="264.9" font-size="8.4" font-weight="bold" font-family="Liberation Sans" fill="#111" stroke="#111" stroke-width="0.3" textLength="2.2" lengthAdjust="spacingAndGlyphs" >I</text>
<text x="0" y="0" transform="translate(390.0,353.7) rotate(-90)" font-size="6.8" font-weight="bold" font-family="Liberation Sans" fill="#1a1a1a" stroke="#1a1a1a" stroke-width="0.25" textLength="66.9" lengthAdjust="spacingAndGlyphs">Probability of survival</text>
<text x="458.4" y="399.3" font-size="6.8" font-weight="bold" font-family="Liberation Sans" fill="#1a1a1a" stroke="#1a1a1a" stroke-width="0.25" textLength="38.8" lengthAdjust="spacingAndGlyphs" >OS (months)</text>
<text x="484.9" y="297.8" font-size="6.8" font-weight="bold" font-family="Liberation Sans" fill="#111" stroke="#111" stroke-width="0.3" textLength="41.1" lengthAdjust="spacingAndGlyphs" >Low (n=187)</text>
<text x="476.5" y="341.9" font-size="6.8" font-weight="bold" font-family="Liberation Sans" fill="#111" stroke="#111" stroke-width="0.3" textLength="37.4" lengthAdjust="spacingAndGlyphs" >High(n=62)</text>
<text x="411.2" y="369.0" font-size="7.8" font-weight="bold" font-family="Liberation Sans" fill="#111" stroke="#111" stroke-width="0.3" textLength="26.1" lengthAdjust="spacingAndGlyphs" >P = 0.01</text></svg></body></html>
